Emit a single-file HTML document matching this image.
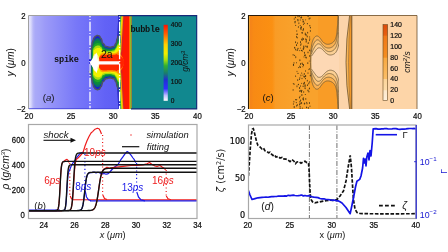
<!DOCTYPE html><html><head><meta charset="utf-8"><style>html,body{margin:0;padding:0;background:#fff;overflow:hidden}svg{display:block}</style></head><body><svg xmlns="http://www.w3.org/2000/svg" width="448" height="252" viewBox="0 0 448 252"><rect width="448" height="252" fill="#ffffff"/>
<defs><linearGradient id="ga" x1="28.5" x2="197" y1="0" y2="0" gradientUnits="userSpaceOnUse"><stop offset="0" stop-color="#e0e0fb"/><stop offset="0.009" stop-color="#e4e4fc"/><stop offset="0.018" stop-color="#d0d0fa"/><stop offset="0.027" stop-color="#b8b8f8"/><stop offset="0.039" stop-color="#aaaaf8"/><stop offset="0.068" stop-color="#a4a4f8"/><stop offset="0.098" stop-color="#9c9af8"/><stop offset="0.187" stop-color="#8a8af8"/><stop offset="0.282" stop-color="#7878f8"/><stop offset="0.365" stop-color="#6e6ef8"/><stop offset="0.454" stop-color="#6262f6"/><stop offset="0.531" stop-color="#5e5ef4"/></linearGradient><clipPath id="ca"><rect x="28.5" y="15.5" width="168.5" height="93.5"/></clipPath></defs>
<g clip-path="url(#ca)">
<rect x="28.5" y="15.5" width="168.5" height="93.5" fill="url(#ga)"/>
<rect x="131.2" y="15.5" width="65.8" height="93.5" fill="#11888f"/>
<path d="M118.30,15.00 L118.30,16.00 L118.28,17.00 L118.21,18.00 L118.15,19.00 L118.09,20.00 L118.03,21.00 L117.97,22.00 L117.91,23.00 L117.85,24.00 L117.79,25.00 L117.73,26.00 L117.67,27.00 L117.61,28.00 L117.55,29.00 L117.48,30.00 L117.42,31.00 L117.36,32.00 L117.30,33.00 L117.24,34.00 L117.18,35.00 L117.12,36.00 L117.06,37.00 L117.00,38.00 L116.94,39.00 L116.88,40.00 L116.81,41.00 L116.75,42.00 L116.69,43.00 L116.63,44.00 L116.57,45.00 L116.51,46.00 L116.45,47.00 L116.38,48.00 L116.32,49.00 L116.25,50.00 L116.17,51.00 L116.08,52.00 L115.97,53.00 L115.83,54.00 L115.66,55.00 L115.45,56.00 L115.21,57.00 L114.95,58.00 L114.67,59.00 L114.42,60.00 L114.20,61.00 L114.05,62.00 L114.03,63.00 L114.16,64.00 L114.37,65.00 L114.62,66.00 L114.89,67.00 L115.16,68.00 L115.41,69.00 L115.62,70.00 L115.80,71.00 L115.94,72.00 L116.06,73.00 L116.15,74.00 L116.23,75.00 L116.31,76.00 L116.37,77.00 L116.44,78.00 L116.50,79.00 L116.56,80.00 L116.62,81.00 L116.68,82.00 L116.74,83.00 L116.80,84.00 L116.86,85.00 L116.92,86.00 L116.99,87.00 L117.05,88.00 L117.11,89.00 L117.17,90.00 L117.23,91.00 L117.29,92.00 L117.35,93.00 L117.41,94.00 L117.47,95.00 L117.53,96.00 L117.59,97.00 L117.65,98.00 L117.72,99.00 L117.78,100.00 L117.84,101.00 L117.90,102.00 L117.96,103.00 L118.02,104.00 L118.08,105.00 L118.14,106.00 L118.20,107.00 L118.26,108.00 L118.30,109.00 L118.30,110.00 L131.20,110.50 L131.20,15.00 Z" fill="#2a2ac8"/>
<path d="M120.30,15.00 L120.30,16.00 L120.28,17.00 L120.21,18.00 L120.15,19.00 L120.09,20.00 L120.03,21.00 L119.97,22.00 L119.91,23.00 L119.85,24.00 L119.79,25.00 L119.73,26.00 L119.67,27.00 L119.61,28.00 L119.55,29.00 L119.48,30.00 L119.42,31.00 L119.36,32.00 L119.30,33.00 L119.24,34.00 L119.18,35.00 L119.12,36.00 L119.06,37.00 L119.00,38.00 L118.94,39.00 L118.88,40.00 L118.81,41.00 L118.75,42.00 L118.69,43.00 L118.63,44.00 L118.57,45.00 L118.51,46.00 L118.45,47.00 L118.38,48.00 L118.32,49.00 L118.25,50.00 L118.17,51.00 L118.08,52.00 L117.97,53.00 L117.83,54.00 L117.66,55.00 L117.45,56.00 L117.21,57.00 L116.95,58.00 L116.67,59.00 L116.42,60.00 L116.20,61.00 L116.05,62.00 L116.03,63.00 L116.16,64.00 L116.37,65.00 L116.62,66.00 L116.89,67.00 L117.16,68.00 L117.41,69.00 L117.62,70.00 L117.80,71.00 L117.94,72.00 L118.06,73.00 L118.15,74.00 L118.23,75.00 L118.31,76.00 L118.37,77.00 L118.44,78.00 L118.50,79.00 L118.56,80.00 L118.62,81.00 L118.68,82.00 L118.74,83.00 L118.80,84.00 L118.86,85.00 L118.92,86.00 L118.99,87.00 L119.05,88.00 L119.11,89.00 L119.17,90.00 L119.23,91.00 L119.29,92.00 L119.35,93.00 L119.41,94.00 L119.47,95.00 L119.53,96.00 L119.59,97.00 L119.65,98.00 L119.72,99.00 L119.78,100.00 L119.84,101.00 L119.90,102.00 L119.96,103.00 L120.02,104.00 L120.08,105.00 L120.14,106.00 L120.20,107.00 L120.26,108.00 L120.30,109.00 L120.30,110.00 L131.20,110.50 L131.20,15.00 Z" fill="#30b040"/>
<path d="M121.40,15.00 L121.40,16.00 L121.38,17.00 L121.31,18.00 L121.25,19.00 L121.19,20.00 L121.13,21.00 L121.07,22.00 L121.01,23.00 L120.95,24.00 L120.89,25.00 L120.83,26.00 L120.77,27.00 L120.71,28.00 L120.65,29.00 L120.58,30.00 L120.52,31.00 L120.46,32.00 L120.40,33.00 L120.34,34.00 L120.28,35.00 L120.22,36.00 L120.16,37.00 L120.10,38.00 L120.04,39.00 L119.98,40.00 L119.91,41.00 L119.85,42.00 L119.79,43.00 L119.73,44.00 L119.67,45.00 L119.61,46.00 L119.55,47.00 L119.48,48.00 L119.42,49.00 L119.35,50.00 L119.27,51.00 L119.18,52.00 L119.07,53.00 L118.93,54.00 L118.76,55.00 L118.55,56.00 L118.31,57.00 L118.05,58.00 L117.77,59.00 L117.52,60.00 L117.30,61.00 L117.15,62.00 L117.13,63.00 L117.26,64.00 L117.47,65.00 L117.72,66.00 L117.99,67.00 L118.26,68.00 L118.51,69.00 L118.72,70.00 L118.90,71.00 L119.04,72.00 L119.16,73.00 L119.25,74.00 L119.33,75.00 L119.41,76.00 L119.47,77.00 L119.54,78.00 L119.60,79.00 L119.66,80.00 L119.72,81.00 L119.78,82.00 L119.84,83.00 L119.90,84.00 L119.96,85.00 L120.02,86.00 L120.09,87.00 L120.15,88.00 L120.21,89.00 L120.27,90.00 L120.33,91.00 L120.39,92.00 L120.45,93.00 L120.51,94.00 L120.57,95.00 L120.63,96.00 L120.69,97.00 L120.75,98.00 L120.82,99.00 L120.88,100.00 L120.94,101.00 L121.00,102.00 L121.06,103.00 L121.12,104.00 L121.18,105.00 L121.24,106.00 L121.30,107.00 L121.36,108.00 L121.40,109.00 L121.40,110.00 L131.20,110.50 L131.20,15.00 Z" fill="#e8ee08"/>
<path d="M122.20,15.00 L122.20,16.00 L122.18,17.00 L122.11,18.00 L122.05,19.00 L121.99,20.00 L121.93,21.00 L121.87,22.00 L121.81,23.00 L121.75,24.00 L121.69,25.00 L121.63,26.00 L121.57,27.00 L121.51,28.00 L121.45,29.00 L121.38,30.00 L121.32,31.00 L121.26,32.00 L121.20,33.00 L121.14,34.00 L121.08,35.00 L121.02,36.00 L120.96,37.00 L120.90,38.00 L120.84,39.00 L120.78,40.00 L120.71,41.00 L120.65,42.00 L120.59,43.00 L120.53,44.00 L120.47,45.00 L120.41,46.00 L120.35,47.00 L120.28,48.00 L120.22,49.00 L120.15,50.00 L120.07,51.00 L119.98,52.00 L119.87,53.00 L119.73,54.00 L119.56,55.00 L119.35,56.00 L119.11,57.00 L118.85,58.00 L118.57,59.00 L118.32,60.00 L118.10,61.00 L117.95,62.00 L117.93,63.00 L118.06,64.00 L118.27,65.00 L118.52,66.00 L118.79,67.00 L119.06,68.00 L119.31,69.00 L119.52,70.00 L119.70,71.00 L119.84,72.00 L119.96,73.00 L120.05,74.00 L120.13,75.00 L120.21,76.00 L120.27,77.00 L120.34,78.00 L120.40,79.00 L120.46,80.00 L120.52,81.00 L120.58,82.00 L120.64,83.00 L120.70,84.00 L120.76,85.00 L120.82,86.00 L120.89,87.00 L120.95,88.00 L121.01,89.00 L121.07,90.00 L121.13,91.00 L121.19,92.00 L121.25,93.00 L121.31,94.00 L121.37,95.00 L121.43,96.00 L121.49,97.00 L121.55,98.00 L121.62,99.00 L121.68,100.00 L121.74,101.00 L121.80,102.00 L121.86,103.00 L121.92,104.00 L121.98,105.00 L122.04,106.00 L122.10,107.00 L122.16,108.00 L122.20,109.00 L122.20,110.00 L131.20,110.50 L131.20,15.00 Z" fill="#ffa400"/>
<path d="M123.30,15.00 L123.30,16.00 L123.28,17.00 L123.21,18.00 L123.15,19.00 L123.09,20.00 L123.03,21.00 L122.97,22.00 L122.91,23.00 L122.85,24.00 L122.79,25.00 L122.73,26.00 L122.67,27.00 L122.61,28.00 L122.55,29.00 L122.48,30.00 L122.42,31.00 L122.36,32.00 L122.30,33.00 L122.24,34.00 L122.18,35.00 L122.12,36.00 L122.06,37.00 L122.00,38.00 L121.94,39.00 L121.88,40.00 L121.81,41.00 L121.75,42.00 L121.69,43.00 L121.63,44.00 L121.57,45.00 L121.51,46.00 L121.45,47.00 L121.38,48.00 L121.32,49.00 L121.25,50.00 L121.17,51.00 L121.08,52.00 L120.97,53.00 L120.83,54.00 L120.66,55.00 L120.45,56.00 L120.21,57.00 L119.95,58.00 L119.67,59.00 L119.42,60.00 L119.20,61.00 L119.05,62.00 L119.03,63.00 L119.16,64.00 L119.37,65.00 L119.62,66.00 L119.89,67.00 L120.16,68.00 L120.41,69.00 L120.62,70.00 L120.80,71.00 L120.94,72.00 L121.06,73.00 L121.15,74.00 L121.23,75.00 L121.31,76.00 L121.37,77.00 L121.44,78.00 L121.50,79.00 L121.56,80.00 L121.62,81.00 L121.68,82.00 L121.74,83.00 L121.80,84.00 L121.86,85.00 L121.92,86.00 L121.99,87.00 L122.05,88.00 L122.11,89.00 L122.17,90.00 L122.23,91.00 L122.29,92.00 L122.35,93.00 L122.41,94.00 L122.47,95.00 L122.53,96.00 L122.59,97.00 L122.65,98.00 L122.72,99.00 L122.78,100.00 L122.84,101.00 L122.90,102.00 L122.96,103.00 L123.02,104.00 L123.08,105.00 L123.14,106.00 L123.20,107.00 L123.26,108.00 L123.30,109.00 L123.30,110.00 L131.20,110.50 L131.20,15.00 Z" fill="#d42626"/>
<path d="M124.60,15.00 L124.60,16.00 L124.58,17.00 L124.51,18.00 L124.45,19.00 L124.39,20.00 L124.33,21.00 L124.27,22.00 L124.21,23.00 L124.15,24.00 L124.09,25.00 L124.03,26.00 L123.97,27.00 L123.91,28.00 L123.85,29.00 L123.78,30.00 L123.72,31.00 L123.66,32.00 L123.60,33.00 L123.54,34.00 L123.48,35.00 L123.42,36.00 L123.36,37.00 L123.30,38.00 L123.24,39.00 L123.18,40.00 L123.11,41.00 L123.05,42.00 L122.99,43.00 L122.93,44.00 L122.87,45.00 L122.81,46.00 L122.75,47.00 L122.68,48.00 L122.62,49.00 L122.55,50.00 L122.47,51.00 L122.38,52.00 L122.27,53.00 L122.13,54.00 L121.96,55.00 L121.75,56.00 L121.51,57.00 L121.25,58.00 L120.97,59.00 L120.72,60.00 L120.50,61.00 L120.35,62.00 L120.33,63.00 L120.46,64.00 L120.67,65.00 L120.92,66.00 L121.19,67.00 L121.46,68.00 L121.71,69.00 L121.92,70.00 L122.10,71.00 L122.24,72.00 L122.36,73.00 L122.45,74.00 L122.53,75.00 L122.61,76.00 L122.67,77.00 L122.74,78.00 L122.80,79.00 L122.86,80.00 L122.92,81.00 L122.98,82.00 L123.04,83.00 L123.10,84.00 L123.16,85.00 L123.22,86.00 L123.29,87.00 L123.35,88.00 L123.41,89.00 L123.47,90.00 L123.53,91.00 L123.59,92.00 L123.65,93.00 L123.71,94.00 L123.77,95.00 L123.83,96.00 L123.89,97.00 L123.95,98.00 L124.02,99.00 L124.08,100.00 L124.14,101.00 L124.20,102.00 L124.26,103.00 L124.32,104.00 L124.38,105.00 L124.44,106.00 L124.50,107.00 L124.56,108.00 L124.60,109.00 L124.60,110.00 L131.20,110.50 L131.20,15.00 Z" fill="#ff1800"/>
<path d="M129.50,15.00 L129.50,16.00 L129.50,17.00 L129.50,18.00 L129.50,19.00 L129.50,20.00 L129.50,21.00 L129.50,22.00 L129.50,23.00 L129.50,24.00 L129.50,25.00 L129.50,26.00 L129.50,27.00 L129.50,28.00 L129.50,29.00 L129.50,30.00 L129.50,31.00 L129.50,32.00 L129.50,33.00 L129.50,34.00 L129.50,35.00 L129.50,36.00 L129.50,37.00 L129.50,38.00 L129.50,39.00 L129.50,40.00 L129.50,41.00 L129.50,42.00 L129.50,43.00 L129.50,44.00 L129.50,45.00 L129.50,46.00 L129.50,47.00 L129.50,48.00 L129.50,49.00 L129.50,50.00 L129.50,51.00 L129.50,52.00 L129.50,53.00 L129.50,54.00 L129.50,55.00 L129.50,56.00 L129.50,57.00 L129.50,58.00 L129.50,59.00 L129.50,60.00 L129.50,61.00 L129.50,62.00 L129.50,63.00 L129.50,64.00 L129.50,65.00 L129.50,66.00 L129.50,67.00 L129.50,68.00 L129.50,69.00 L129.50,70.00 L129.50,71.00 L129.50,72.00 L129.50,73.00 L129.50,74.00 L129.50,75.00 L129.50,76.00 L129.50,77.00 L129.50,78.00 L129.50,79.00 L129.50,80.00 L129.50,81.00 L129.50,82.00 L129.50,83.00 L129.50,84.00 L129.50,85.00 L129.50,86.00 L129.50,87.00 L129.50,88.00 L129.50,89.00 L129.50,90.00 L129.50,91.00 L129.50,92.00 L129.50,93.00 L129.50,94.00 L129.50,95.00 L129.50,96.00 L129.50,97.00 L129.50,98.00 L129.50,99.00 L129.50,100.00 L129.50,101.00 L129.50,102.00 L129.50,103.00 L129.50,104.00 L129.50,105.00 L129.50,106.00 L129.50,107.00 L129.50,108.00 L129.50,109.00 L129.50,110.00 L131.20,110.50 L131.20,15.00 Z" fill="#ffc800"/>
<path d="M130.40,15.00 L130.40,16.00 L130.40,17.00 L130.40,18.00 L130.40,19.00 L130.40,20.00 L130.40,21.00 L130.40,22.00 L130.40,23.00 L130.40,24.00 L130.40,25.00 L130.40,26.00 L130.40,27.00 L130.40,28.00 L130.40,29.00 L130.40,30.00 L130.40,31.00 L130.40,32.00 L130.40,33.00 L130.40,34.00 L130.40,35.00 L130.40,36.00 L130.40,37.00 L130.40,38.00 L130.40,39.00 L130.40,40.00 L130.40,41.00 L130.40,42.00 L130.40,43.00 L130.40,44.00 L130.40,45.00 L130.40,46.00 L130.40,47.00 L130.40,48.00 L130.40,49.00 L130.40,50.00 L130.40,51.00 L130.40,52.00 L130.40,53.00 L130.40,54.00 L130.40,55.00 L130.40,56.00 L130.40,57.00 L130.40,58.00 L130.40,59.00 L130.40,60.00 L130.40,61.00 L130.40,62.00 L130.40,63.00 L130.40,64.00 L130.40,65.00 L130.40,66.00 L130.40,67.00 L130.40,68.00 L130.40,69.00 L130.40,70.00 L130.40,71.00 L130.40,72.00 L130.40,73.00 L130.40,74.00 L130.40,75.00 L130.40,76.00 L130.40,77.00 L130.40,78.00 L130.40,79.00 L130.40,80.00 L130.40,81.00 L130.40,82.00 L130.40,83.00 L130.40,84.00 L130.40,85.00 L130.40,86.00 L130.40,87.00 L130.40,88.00 L130.40,89.00 L130.40,90.00 L130.40,91.00 L130.40,92.00 L130.40,93.00 L130.40,94.00 L130.40,95.00 L130.40,96.00 L130.40,97.00 L130.40,98.00 L130.40,99.00 L130.40,100.00 L130.40,101.00 L130.40,102.00 L130.40,103.00 L130.40,104.00 L130.40,105.00 L130.40,106.00 L130.40,107.00 L130.40,108.00 L130.40,109.00 L130.40,110.00 L131.20,110.50 L131.20,15.00 Z" fill="#40b048"/>
<path d="M89.00,54.00 L89.25,53.87 L89.50,53.50 L89.75,53.00 L90.00,52.50 L90.25,52.13 L90.50,52.00 L90.75,51.34 L91.00,49.75 L91.25,48.16 L91.50,47.50 L91.75,46.67 L92.00,44.65 L92.25,42.63 L92.50,41.80 L92.75,41.55 L93.00,40.85 L93.25,39.90 L93.50,38.95 L93.75,38.25 L94.00,38.00 L94.25,37.88 L94.50,37.55 L94.75,37.10 L95.00,36.65 L95.25,36.32 L95.50,36.20 L95.75,36.17 L96.00,36.09 L96.25,35.96 L96.50,35.82 L96.75,35.68 L97.00,35.57 L97.25,35.51 L97.50,35.50 L97.75,35.54 L98.00,35.61 L98.25,35.71 L98.50,35.81 L98.75,35.90 L99.00,35.97 L99.25,36.00 L99.50,36.08 L99.75,36.41 L100.00,36.91 L100.25,37.48 L100.50,38.00 L100.75,38.37 L101.00,38.50 L101.25,38.69 L101.50,39.23 L101.75,40.04 L102.00,41.00 L102.25,41.96 L102.50,42.77 L102.75,43.31 L103.00,43.50 L103.25,43.55 L103.50,43.70 L103.75,43.94 L104.00,44.25 L104.25,44.61 L104.50,45.00 L104.75,45.39 L105.00,45.75 L105.25,46.06 L105.50,46.30 L105.75,46.45 L106.00,46.50 L106.25,46.51 L106.50,46.53 L106.75,46.57 L107.00,46.62 L107.25,46.68 L107.50,46.75 L107.75,46.82 L108.00,46.90 L108.25,46.98 L108.50,47.05 L108.75,47.12 L109.00,47.18 L109.25,47.23 L109.50,47.27 L109.75,47.29 L110.00,47.30 L110.25,47.29 L110.50,47.27 L110.75,47.22 L111.00,47.17 L111.25,47.10 L111.50,47.02 L111.75,46.94 L112.00,46.85 L112.25,46.76 L112.50,46.68 L112.75,46.60 L113.00,46.53 L113.25,46.48 L113.50,46.43 L113.75,46.41 L114.00,46.40 L114.25,46.29 L114.50,45.96 L114.75,45.47 L115.00,44.90 L115.25,44.33 L115.50,43.84 L115.75,43.51 L116.00,43.40 L116.25,42.92 L116.50,41.70 L116.75,40.22 L117.00,39.11 L117.25,38.78 L117.50,38.18 L117.75,37.07 L118.00,36.09 L118.25,35.80 L118.50,35.78 L118.75,35.73 L119.00,35.65 L119.25,35.56 L119.50,35.46 L119.75,35.37 L120.00,35.29 L120.25,35.23 L120.50,35.20 L120.50,90.00 L120.25,89.97 L120.00,89.91 L119.75,89.83 L119.50,89.74 L119.25,89.64 L119.00,89.55 L118.75,89.47 L118.50,89.42 L118.25,89.40 L118.00,89.11 L117.75,88.13 L117.50,87.02 L117.25,86.42 L117.00,86.09 L116.75,84.98 L116.50,83.50 L116.25,82.28 L116.00,81.80 L115.75,81.69 L115.50,81.36 L115.25,80.87 L115.00,80.30 L114.75,79.73 L114.50,79.24 L114.25,78.91 L114.00,78.80 L113.75,78.79 L113.50,78.77 L113.25,78.72 L113.00,78.67 L112.75,78.60 L112.50,78.52 L112.25,78.44 L112.00,78.35 L111.75,78.26 L111.50,78.18 L111.25,78.10 L111.00,78.03 L110.75,77.98 L110.50,77.93 L110.25,77.91 L110.00,77.90 L109.75,77.91 L109.50,77.93 L109.25,77.97 L109.00,78.02 L108.75,78.08 L108.50,78.15 L108.25,78.22 L108.00,78.30 L107.75,78.38 L107.50,78.45 L107.25,78.52 L107.00,78.58 L106.75,78.63 L106.50,78.67 L106.25,78.69 L106.00,78.70 L105.75,78.75 L105.50,78.90 L105.25,79.14 L105.00,79.45 L104.75,79.81 L104.50,80.20 L104.25,80.59 L104.00,80.95 L103.75,81.26 L103.50,81.50 L103.25,81.65 L103.00,81.70 L102.75,81.89 L102.50,82.43 L102.25,83.24 L102.00,84.20 L101.75,85.16 L101.50,85.97 L101.25,86.51 L101.00,86.70 L100.75,86.83 L100.50,87.20 L100.25,87.72 L100.00,88.29 L99.75,88.79 L99.50,89.12 L99.25,89.20 L99.00,89.23 L98.75,89.30 L98.50,89.39 L98.25,89.49 L98.00,89.59 L97.75,89.66 L97.50,89.70 L97.25,89.69 L97.00,89.63 L96.75,89.52 L96.50,89.38 L96.25,89.24 L96.00,89.11 L95.75,89.03 L95.50,89.00 L95.25,88.88 L95.00,88.55 L94.75,88.10 L94.50,87.65 L94.25,87.32 L94.00,87.20 L93.75,86.95 L93.50,86.25 L93.25,85.30 L93.00,84.35 L92.75,83.65 L92.50,83.40 L92.25,82.57 L92.00,80.55 L91.75,78.53 L91.50,77.70 L91.25,77.04 L91.00,75.45 L90.75,73.86 L90.50,73.20 L90.25,73.07 L90.00,72.70 L89.75,72.20 L89.50,71.70 L89.25,71.33 L89.00,71.20 Z" fill="#1818d8"/>
<path d="M91.20,56.00 L91.20,55.87 L91.20,55.50 L91.20,55.00 L91.20,54.50 L91.20,54.13 L91.20,54.00 L91.20,53.37 L91.20,51.85 L91.25,50.33 L91.50,49.70 L91.75,48.89 L92.00,46.95 L92.25,45.01 L92.50,44.20 L92.75,43.95 L93.00,43.25 L93.25,42.30 L93.50,41.35 L93.75,40.65 L94.00,40.40 L94.25,40.29 L94.50,39.98 L94.75,39.55 L95.00,39.12 L95.25,38.81 L95.50,38.70 L95.75,38.67 L96.00,38.59 L96.25,38.46 L96.50,38.32 L96.75,38.18 L97.00,38.07 L97.25,38.01 L97.50,38.00 L97.75,38.04 L98.00,38.11 L98.25,38.21 L98.50,38.31 L98.75,38.40 L99.00,38.47 L99.25,38.50 L99.50,38.58 L99.75,38.88 L100.00,39.34 L100.25,39.86 L100.50,40.34 L100.75,40.68 L101.00,40.80 L101.25,40.98 L101.50,41.47 L101.75,42.22 L102.00,43.10 L102.25,43.98 L102.50,44.73 L102.75,45.22 L103.00,45.40 L103.25,45.44 L103.50,45.57 L103.75,45.78 L104.00,46.05 L104.25,46.36 L104.50,46.70 L104.75,47.04 L105.00,47.35 L105.25,47.62 L105.50,47.83 L105.75,47.96 L106.00,48.00 L106.25,48.01 L106.50,48.02 L106.75,48.05 L107.00,48.09 L107.25,48.13 L107.50,48.19 L107.75,48.24 L108.00,48.30 L108.25,48.36 L108.50,48.41 L108.75,48.47 L109.00,48.51 L109.25,48.55 L109.50,48.58 L109.75,48.59 L110.00,48.60 L110.25,48.59 L110.50,48.57 L110.75,48.52 L111.00,48.47 L111.25,48.40 L111.50,48.32 L111.75,48.24 L112.00,48.15 L112.25,48.06 L112.50,47.98 L112.75,47.90 L113.00,47.83 L113.25,47.78 L113.50,47.73 L113.75,47.71 L114.00,47.70 L114.25,47.59 L114.50,47.29 L114.75,46.84 L115.00,46.30 L115.25,45.76 L115.50,45.31 L115.75,45.01 L116.00,44.90 L116.25,44.46 L116.50,43.31 L116.75,41.93 L117.00,40.89 L117.25,40.58 L117.50,40.02 L117.75,38.98 L118.00,38.07 L118.25,37.80 L118.50,37.78 L118.75,37.73 L119.00,37.65 L119.25,37.56 L119.50,37.46 L119.75,37.37 L120.00,37.29 L120.25,37.23 L120.50,37.20 L120.50,88.00 L120.25,87.97 L120.00,87.91 L119.75,87.83 L119.50,87.74 L119.25,87.64 L119.00,87.55 L118.75,87.47 L118.50,87.42 L118.25,87.40 L118.00,87.13 L117.75,86.22 L117.50,85.18 L117.25,84.62 L117.00,84.31 L116.75,83.27 L116.50,81.89 L116.25,80.74 L116.00,80.30 L115.75,80.19 L115.50,79.89 L115.25,79.44 L115.00,78.90 L114.75,78.36 L114.50,77.91 L114.25,77.61 L114.00,77.50 L113.75,77.49 L113.50,77.47 L113.25,77.42 L113.00,77.37 L112.75,77.30 L112.50,77.22 L112.25,77.14 L112.00,77.05 L111.75,76.96 L111.50,76.88 L111.25,76.80 L111.00,76.73 L110.75,76.68 L110.50,76.63 L110.25,76.61 L110.00,76.60 L109.75,76.61 L109.50,76.62 L109.25,76.65 L109.00,76.69 L108.75,76.73 L108.50,76.79 L108.25,76.84 L108.00,76.90 L107.75,76.96 L107.50,77.01 L107.25,77.07 L107.00,77.11 L106.75,77.15 L106.50,77.18 L106.25,77.19 L106.00,77.20 L105.75,77.24 L105.50,77.37 L105.25,77.58 L105.00,77.85 L104.75,78.16 L104.50,78.50 L104.25,78.84 L104.00,79.15 L103.75,79.42 L103.50,79.63 L103.25,79.76 L103.00,79.80 L102.75,79.98 L102.50,80.47 L102.25,81.22 L102.00,82.10 L101.75,82.98 L101.50,83.73 L101.25,84.22 L101.00,84.40 L100.75,84.52 L100.50,84.86 L100.25,85.34 L100.00,85.86 L99.75,86.32 L99.50,86.62 L99.25,86.70 L99.00,86.73 L98.75,86.80 L98.50,86.89 L98.25,86.99 L98.00,87.09 L97.75,87.16 L97.50,87.20 L97.25,87.19 L97.00,87.13 L96.75,87.02 L96.50,86.88 L96.25,86.74 L96.00,86.61 L95.75,86.53 L95.50,86.50 L95.25,86.39 L95.00,86.08 L94.75,85.65 L94.50,85.22 L94.25,84.91 L94.00,84.80 L93.75,84.55 L93.50,83.85 L93.25,82.90 L93.00,81.95 L92.75,81.25 L92.50,81.00 L92.25,80.19 L92.00,78.25 L91.75,76.31 L91.50,75.50 L91.25,74.87 L91.20,73.35 L91.20,71.83 L91.20,71.20 L91.20,71.07 L91.20,70.70 L91.20,70.20 L91.20,69.70 L91.20,69.33 L91.20,69.20 Z" fill="#0a6a70"/>
<path d="M91.80,57.50 L91.80,57.37 L91.80,57.00 L91.80,56.50 L91.80,56.00 L91.80,55.63 L91.80,55.50 L91.80,54.91 L91.80,53.50 L91.80,52.09 L91.80,51.50 L91.80,50.72 L92.00,48.85 L92.25,46.98 L92.50,46.20 L92.75,45.95 L93.00,45.25 L93.25,44.30 L93.50,43.35 L93.75,42.65 L94.00,42.40 L94.25,42.30 L94.50,42.02 L94.75,41.65 L95.00,41.28 L95.25,41.00 L95.50,40.90 L95.75,40.87 L96.00,40.79 L96.25,40.66 L96.50,40.52 L96.75,40.38 L97.00,40.27 L97.25,40.21 L97.50,40.20 L97.75,40.24 L98.00,40.31 L98.25,40.41 L98.50,40.51 L98.75,40.60 L99.00,40.67 L99.25,40.70 L99.50,40.77 L99.75,41.04 L100.00,41.46 L100.25,41.94 L100.50,42.38 L100.75,42.69 L101.00,42.80 L101.25,42.96 L101.50,43.42 L101.75,44.10 L102.00,44.90 L102.25,45.70 L102.50,46.38 L102.75,46.84 L103.00,47.00 L103.25,47.04 L103.50,47.15 L103.75,47.32 L104.00,47.55 L104.25,47.82 L104.50,48.10 L104.75,48.38 L105.00,48.65 L105.25,48.88 L105.50,49.05 L105.75,49.16 L106.00,49.20 L106.25,49.20 L106.50,49.22 L106.75,49.23 L107.00,49.26 L107.25,49.29 L107.50,49.32 L107.75,49.36 L108.00,49.40 L108.25,49.44 L108.50,49.48 L108.75,49.51 L109.00,49.54 L109.25,49.57 L109.50,49.58 L109.75,49.60 L110.00,49.60 L110.25,49.59 L110.50,49.57 L110.75,49.52 L111.00,49.47 L111.25,49.40 L111.50,49.32 L111.75,49.24 L112.00,49.15 L112.25,49.06 L112.50,48.98 L112.75,48.90 L113.00,48.83 L113.25,48.78 L113.50,48.73 L113.75,48.71 L114.00,48.70 L114.25,48.60 L114.50,48.32 L114.75,47.90 L115.00,47.40 L115.25,46.90 L115.50,46.48 L115.75,46.20 L116.00,46.10 L116.25,45.69 L116.50,44.62 L116.75,43.33 L117.00,42.37 L117.25,42.08 L117.50,41.56 L117.75,40.60 L118.00,39.75 L118.25,39.50 L118.50,39.48 L118.75,39.43 L119.00,39.35 L119.25,39.26 L119.50,39.16 L119.75,39.07 L120.00,38.99 L120.25,38.93 L120.50,38.90 L120.50,86.30 L120.25,86.27 L120.00,86.21 L119.75,86.13 L119.50,86.04 L119.25,85.94 L119.00,85.85 L118.75,85.77 L118.50,85.72 L118.25,85.70 L118.00,85.45 L117.75,84.60 L117.50,83.64 L117.25,83.12 L117.00,82.83 L116.75,81.87 L116.50,80.58 L116.25,79.51 L116.00,79.10 L115.75,79.00 L115.50,78.72 L115.25,78.30 L115.00,77.80 L114.75,77.30 L114.50,76.88 L114.25,76.60 L114.00,76.50 L113.75,76.49 L113.50,76.47 L113.25,76.42 L113.00,76.37 L112.75,76.30 L112.50,76.22 L112.25,76.14 L112.00,76.05 L111.75,75.96 L111.50,75.88 L111.25,75.80 L111.00,75.73 L110.75,75.68 L110.50,75.63 L110.25,75.61 L110.00,75.60 L109.75,75.60 L109.50,75.62 L109.25,75.63 L109.00,75.66 L108.75,75.69 L108.50,75.72 L108.25,75.76 L108.00,75.80 L107.75,75.84 L107.50,75.88 L107.25,75.91 L107.00,75.94 L106.75,75.97 L106.50,75.98 L106.25,76.00 L106.00,76.00 L105.75,76.04 L105.50,76.15 L105.25,76.32 L105.00,76.55 L104.75,76.82 L104.50,77.10 L104.25,77.38 L104.00,77.65 L103.75,77.88 L103.50,78.05 L103.25,78.16 L103.00,78.20 L102.75,78.36 L102.50,78.82 L102.25,79.50 L102.00,80.30 L101.75,81.10 L101.50,81.78 L101.25,82.24 L101.00,82.40 L100.75,82.51 L100.50,82.82 L100.25,83.26 L100.00,83.74 L99.75,84.16 L99.50,84.43 L99.25,84.50 L99.00,84.53 L98.75,84.60 L98.50,84.69 L98.25,84.79 L98.00,84.89 L97.75,84.96 L97.50,85.00 L97.25,84.99 L97.00,84.93 L96.75,84.82 L96.50,84.68 L96.25,84.54 L96.00,84.41 L95.75,84.33 L95.50,84.30 L95.25,84.20 L95.00,83.92 L94.75,83.55 L94.50,83.18 L94.25,82.90 L94.00,82.80 L93.75,82.55 L93.50,81.85 L93.25,80.90 L93.00,79.95 L92.75,79.25 L92.50,79.00 L92.25,78.22 L92.00,76.35 L91.80,74.48 L91.80,73.70 L91.80,73.11 L91.80,71.70 L91.80,70.29 L91.80,69.70 L91.80,69.57 L91.80,69.20 L91.80,68.70 L91.80,68.20 L91.80,67.83 L91.80,67.70 Z" fill="#0a8a3c"/>
<path d="M92.40,59.00 L92.40,58.89 L92.40,58.58 L92.40,58.15 L92.40,57.73 L92.40,57.41 L92.40,57.30 L92.40,56.77 L92.40,55.50 L92.40,54.23 L92.40,53.70 L92.40,52.98 L92.40,51.25 L92.40,49.52 L92.50,48.80 L92.75,48.56 L93.00,47.90 L93.25,47.00 L93.50,46.10 L93.75,45.44 L94.00,45.20 L94.25,45.10 L94.50,44.82 L94.75,44.45 L95.00,44.08 L95.25,43.80 L95.50,43.70 L95.75,43.67 L96.00,43.59 L96.25,43.46 L96.50,43.32 L96.75,43.18 L97.00,43.07 L97.25,43.01 L97.50,43.00 L97.75,43.02 L98.00,43.07 L98.25,43.13 L98.50,43.19 L98.75,43.24 L99.00,43.28 L99.25,43.30 L99.50,43.36 L99.75,43.58 L100.00,43.92 L100.25,44.31 L100.50,44.66 L100.75,44.91 L101.00,45.00 L101.25,45.14 L101.50,45.53 L101.75,46.11 L102.00,46.80 L102.25,47.49 L102.50,48.07 L102.75,48.46 L103.00,48.60 L103.25,48.63 L103.50,48.71 L103.75,48.83 L104.00,49.00 L104.25,49.19 L104.50,49.40 L104.75,49.61 L105.00,49.80 L105.25,49.97 L105.50,50.09 L105.75,50.17 L106.00,50.20 L106.25,50.20 L106.50,50.21 L106.75,50.22 L107.00,50.23 L107.25,50.24 L107.50,50.26 L107.75,50.28 L108.00,50.30 L108.25,50.32 L108.50,50.34 L108.75,50.36 L109.00,50.37 L109.25,50.38 L109.50,50.39 L109.75,50.40 L110.00,50.40 L110.25,50.39 L110.50,50.37 L110.75,50.32 L111.00,50.27 L111.25,50.20 L111.50,50.12 L111.75,50.04 L112.00,49.95 L112.25,49.86 L112.50,49.78 L112.75,49.70 L113.00,49.63 L113.25,49.58 L113.50,49.53 L113.75,49.51 L114.00,49.50 L114.25,49.41 L114.50,49.16 L114.75,48.79 L115.00,48.35 L115.25,47.91 L115.50,47.54 L115.75,47.29 L116.00,47.20 L116.25,46.84 L116.50,45.90 L116.75,44.78 L117.00,43.93 L117.25,43.69 L117.50,43.25 L117.75,42.43 L118.00,41.71 L118.25,41.50 L118.50,41.48 L118.75,41.43 L119.00,41.35 L119.25,41.26 L119.50,41.16 L119.75,41.07 L120.00,40.99 L120.25,40.93 L120.50,40.90 L120.50,84.30 L120.25,84.27 L120.00,84.21 L119.75,84.13 L119.50,84.04 L119.25,83.94 L119.00,83.85 L118.75,83.77 L118.50,83.72 L118.25,83.70 L118.00,83.49 L117.75,82.77 L117.50,81.95 L117.25,81.51 L117.00,81.27 L116.75,80.42 L116.50,79.30 L116.25,78.36 L116.00,78.00 L115.75,77.91 L115.50,77.66 L115.25,77.29 L115.00,76.85 L114.75,76.41 L114.50,76.04 L114.25,75.79 L114.00,75.70 L113.75,75.69 L113.50,75.67 L113.25,75.62 L113.00,75.57 L112.75,75.50 L112.50,75.42 L112.25,75.34 L112.00,75.25 L111.75,75.16 L111.50,75.08 L111.25,75.00 L111.00,74.93 L110.75,74.88 L110.50,74.83 L110.25,74.81 L110.00,74.80 L109.75,74.80 L109.50,74.81 L109.25,74.82 L109.00,74.83 L108.75,74.84 L108.50,74.86 L108.25,74.88 L108.00,74.90 L107.75,74.92 L107.50,74.94 L107.25,74.96 L107.00,74.97 L106.75,74.98 L106.50,74.99 L106.25,75.00 L106.00,75.00 L105.75,75.03 L105.50,75.11 L105.25,75.23 L105.00,75.40 L104.75,75.59 L104.50,75.80 L104.25,76.01 L104.00,76.20 L103.75,76.37 L103.50,76.49 L103.25,76.57 L103.00,76.60 L102.75,76.74 L102.50,77.13 L102.25,77.71 L102.00,78.40 L101.75,79.09 L101.50,79.67 L101.25,80.06 L101.00,80.20 L100.75,80.29 L100.50,80.54 L100.25,80.89 L100.00,81.28 L99.75,81.62 L99.50,81.84 L99.25,81.90 L99.00,81.92 L98.75,81.96 L98.50,82.01 L98.25,82.07 L98.00,82.13 L97.75,82.18 L97.50,82.20 L97.25,82.19 L97.00,82.13 L96.75,82.02 L96.50,81.88 L96.25,81.74 L96.00,81.61 L95.75,81.53 L95.50,81.50 L95.25,81.40 L95.00,81.12 L94.75,80.75 L94.50,80.38 L94.25,80.10 L94.00,80.00 L93.75,79.76 L93.50,79.10 L93.25,78.20 L93.00,77.30 L92.75,76.64 L92.50,76.40 L92.40,75.68 L92.40,73.95 L92.40,72.22 L92.40,71.50 L92.40,70.97 L92.40,69.70 L92.40,68.43 L92.40,67.90 L92.40,67.79 L92.40,67.47 L92.40,67.05 L92.40,66.62 L92.40,66.31 L92.40,66.20 Z" fill="#20a828"/>
<path d="M93.00,60.20 L93.00,60.11 L93.00,59.85 L93.00,59.50 L93.00,59.15 L93.00,58.89 L93.00,58.80 L93.00,58.35 L93.00,57.25 L93.00,56.15 L93.00,55.70 L93.00,55.04 L93.00,53.45 L93.00,51.86 L93.00,51.20 L93.00,50.97 L93.00,50.32 L93.25,49.45 L93.50,48.57 L93.75,47.93 L94.00,47.70 L94.25,47.60 L94.50,47.32 L94.75,46.95 L95.00,46.58 L95.25,46.30 L95.50,46.20 L95.75,46.17 L96.00,46.09 L96.25,45.96 L96.50,45.82 L96.75,45.68 L97.00,45.57 L97.25,45.51 L97.50,45.50 L97.75,45.51 L98.00,45.52 L98.25,45.54 L98.50,45.56 L98.75,45.58 L99.00,45.59 L99.25,45.60 L99.50,45.65 L99.75,45.83 L100.00,46.11 L100.25,46.43 L100.50,46.72 L100.75,46.93 L101.00,47.00 L101.25,47.12 L101.50,47.45 L101.75,47.96 L102.00,48.55 L102.25,49.14 L102.50,49.65 L102.75,49.98 L103.00,50.10 L103.25,50.12 L103.50,50.17 L103.75,50.26 L104.00,50.38 L104.25,50.51 L104.50,50.65 L104.75,50.79 L105.00,50.93 L105.25,51.04 L105.50,51.13 L105.75,51.18 L106.00,51.20 L106.25,51.20 L106.50,51.20 L106.75,51.21 L107.00,51.21 L107.25,51.22 L107.50,51.23 L107.75,51.24 L108.00,51.25 L108.25,51.26 L108.50,51.27 L108.75,51.28 L109.00,51.29 L109.25,51.29 L109.50,51.30 L109.75,51.30 L110.00,51.30 L110.25,51.29 L110.50,51.27 L110.75,51.22 L111.00,51.17 L111.25,51.10 L111.50,51.02 L111.75,50.94 L112.00,50.85 L112.25,50.76 L112.50,50.68 L112.75,50.60 L113.00,50.53 L113.25,50.48 L113.50,50.43 L113.75,50.41 L114.00,50.40 L114.25,50.32 L114.50,50.09 L114.75,49.75 L115.00,49.35 L115.25,48.95 L115.50,48.61 L115.75,48.38 L116.00,48.30 L116.25,47.99 L116.50,47.19 L116.75,46.23 L117.00,45.50 L117.25,45.29 L117.50,44.93 L117.75,44.26 L118.00,43.67 L118.25,43.50 L118.50,43.48 L118.75,43.43 L119.00,43.35 L119.25,43.26 L119.50,43.16 L119.75,43.07 L120.00,42.99 L120.25,42.93 L120.50,42.90 L120.50,82.30 L120.25,82.27 L120.00,82.21 L119.75,82.13 L119.50,82.04 L119.25,81.94 L119.00,81.85 L118.75,81.77 L118.50,81.72 L118.25,81.70 L118.00,81.53 L117.75,80.94 L117.50,80.27 L117.25,79.91 L117.00,79.70 L116.75,78.97 L116.50,78.01 L116.25,77.21 L116.00,76.90 L115.75,76.82 L115.50,76.59 L115.25,76.25 L115.00,75.85 L114.75,75.45 L114.50,75.11 L114.25,74.88 L114.00,74.80 L113.75,74.79 L113.50,74.77 L113.25,74.72 L113.00,74.67 L112.75,74.60 L112.50,74.52 L112.25,74.44 L112.00,74.35 L111.75,74.26 L111.50,74.18 L111.25,74.10 L111.00,74.03 L110.75,73.98 L110.50,73.93 L110.25,73.91 L110.00,73.90 L109.75,73.90 L109.50,73.90 L109.25,73.91 L109.00,73.91 L108.75,73.92 L108.50,73.93 L108.25,73.94 L108.00,73.95 L107.75,73.96 L107.50,73.97 L107.25,73.98 L107.00,73.99 L106.75,73.99 L106.50,74.00 L106.25,74.00 L106.00,74.00 L105.75,74.02 L105.50,74.07 L105.25,74.16 L105.00,74.28 L104.75,74.41 L104.50,74.55 L104.25,74.69 L104.00,74.83 L103.75,74.94 L103.50,75.03 L103.25,75.08 L103.00,75.10 L102.75,75.22 L102.50,75.55 L102.25,76.06 L102.00,76.65 L101.75,77.24 L101.50,77.75 L101.25,78.08 L101.00,78.20 L100.75,78.27 L100.50,78.48 L100.25,78.77 L100.00,79.09 L99.75,79.37 L99.50,79.55 L99.25,79.60 L99.00,79.61 L98.75,79.62 L98.50,79.64 L98.25,79.66 L98.00,79.68 L97.75,79.69 L97.50,79.70 L97.25,79.69 L97.00,79.63 L96.75,79.52 L96.50,79.38 L96.25,79.24 L96.00,79.11 L95.75,79.03 L95.50,79.00 L95.25,78.90 L95.00,78.62 L94.75,78.25 L94.50,77.88 L94.25,77.60 L94.00,77.50 L93.75,77.27 L93.50,76.62 L93.25,75.75 L93.00,74.88 L93.00,74.23 L93.00,74.00 L93.00,73.34 L93.00,71.75 L93.00,70.16 L93.00,69.50 L93.00,69.05 L93.00,67.95 L93.00,66.85 L93.00,66.40 L93.00,66.31 L93.00,66.05 L93.00,65.70 L93.00,65.35 L93.00,65.09 L93.00,65.00 Z" fill="#a8dc10"/>
<path d="M93.60,61.40 L93.60,61.33 L93.60,61.13 L93.60,60.85 L93.60,60.58 L93.60,60.37 L93.60,60.30 L93.60,59.92 L93.60,59.00 L93.60,58.08 L93.60,57.70 L93.60,57.10 L93.60,55.65 L93.60,54.20 L93.60,53.60 L93.60,53.37 L93.60,52.75 L93.60,51.90 L93.60,51.05 L93.75,50.43 L94.00,50.20 L94.25,50.10 L94.50,49.82 L94.75,49.45 L95.00,49.08 L95.25,48.80 L95.50,48.70 L95.75,48.67 L96.00,48.59 L96.25,48.46 L96.50,48.32 L96.75,48.18 L97.00,48.07 L97.25,48.01 L97.50,48.00 L97.75,47.99 L98.00,47.98 L98.25,47.96 L98.50,47.94 L98.75,47.92 L99.00,47.91 L99.25,47.90 L99.50,47.94 L99.75,48.08 L100.00,48.30 L100.25,48.55 L100.50,48.78 L100.75,48.94 L101.00,49.00 L101.25,49.10 L101.50,49.40 L101.75,49.83 L102.00,50.35 L102.25,50.87 L102.50,51.30 L102.75,51.60 L103.00,51.70 L103.25,51.71 L103.50,51.75 L103.75,51.82 L104.00,51.90 L104.25,52.00 L104.50,52.10 L104.75,52.20 L105.00,52.30 L105.25,52.38 L105.50,52.45 L105.75,52.49 L106.00,52.50 L106.25,52.50 L106.50,52.50 L106.75,52.51 L107.00,52.51 L107.25,52.52 L107.50,52.53 L107.75,52.54 L108.00,52.55 L108.25,52.56 L108.50,52.57 L108.75,52.58 L109.00,52.59 L109.25,52.59 L109.50,52.60 L109.75,52.60 L110.00,52.60 L110.25,52.59 L110.50,52.57 L110.75,52.52 L111.00,52.47 L111.25,52.40 L111.50,52.32 L111.75,52.24 L112.00,52.15 L112.25,52.06 L112.50,51.98 L112.75,51.90 L113.00,51.83 L113.25,51.78 L113.50,51.73 L113.75,51.71 L114.00,51.70 L114.25,51.62 L114.50,51.41 L114.75,51.08 L115.00,50.70 L115.25,50.32 L115.50,49.99 L115.75,49.78 L116.00,49.70 L116.25,49.43 L116.50,48.74 L116.75,47.90 L117.00,47.27 L117.25,47.09 L117.50,46.81 L117.75,46.29 L118.00,45.83 L118.25,45.70 L118.50,45.68 L118.75,45.63 L119.00,45.55 L119.25,45.46 L119.50,45.36 L119.75,45.27 L120.00,45.19 L120.25,45.13 L120.50,45.10 L120.50,80.10 L120.25,80.07 L120.00,80.01 L119.75,79.93 L119.50,79.84 L119.25,79.74 L119.00,79.65 L118.75,79.57 L118.50,79.52 L118.25,79.50 L118.00,79.37 L117.75,78.91 L117.50,78.39 L117.25,78.11 L117.00,77.93 L116.75,77.30 L116.50,76.46 L116.25,75.77 L116.00,75.50 L115.75,75.42 L115.50,75.21 L115.25,74.88 L115.00,74.50 L114.75,74.12 L114.50,73.79 L114.25,73.58 L114.00,73.50 L113.75,73.49 L113.50,73.47 L113.25,73.42 L113.00,73.37 L112.75,73.30 L112.50,73.22 L112.25,73.14 L112.00,73.05 L111.75,72.96 L111.50,72.88 L111.25,72.80 L111.00,72.73 L110.75,72.68 L110.50,72.63 L110.25,72.61 L110.00,72.60 L109.75,72.60 L109.50,72.60 L109.25,72.61 L109.00,72.61 L108.75,72.62 L108.50,72.63 L108.25,72.64 L108.00,72.65 L107.75,72.66 L107.50,72.67 L107.25,72.68 L107.00,72.69 L106.75,72.69 L106.50,72.70 L106.25,72.70 L106.00,72.70 L105.75,72.71 L105.50,72.75 L105.25,72.82 L105.00,72.90 L104.75,73.00 L104.50,73.10 L104.25,73.20 L104.00,73.30 L103.75,73.38 L103.50,73.45 L103.25,73.49 L103.00,73.50 L102.75,73.60 L102.50,73.90 L102.25,74.33 L102.00,74.85 L101.75,75.37 L101.50,75.80 L101.25,76.10 L101.00,76.20 L100.75,76.26 L100.50,76.42 L100.25,76.65 L100.00,76.90 L99.75,77.12 L99.50,77.26 L99.25,77.30 L99.00,77.29 L98.75,77.28 L98.50,77.26 L98.25,77.24 L98.00,77.22 L97.75,77.21 L97.50,77.20 L97.25,77.19 L97.00,77.13 L96.75,77.02 L96.50,76.88 L96.25,76.74 L96.00,76.61 L95.75,76.53 L95.50,76.50 L95.25,76.40 L95.00,76.12 L94.75,75.75 L94.50,75.38 L94.25,75.10 L94.00,75.00 L93.75,74.77 L93.60,74.15 L93.60,73.30 L93.60,72.45 L93.60,71.83 L93.60,71.60 L93.60,71.00 L93.60,69.55 L93.60,68.10 L93.60,67.50 L93.60,67.12 L93.60,66.20 L93.60,65.28 L93.60,64.90 L93.60,64.83 L93.60,64.62 L93.60,64.35 L93.60,64.07 L93.60,63.87 L93.60,63.80 Z" fill="#f2f200"/>
<path d="M94.20,62.60 L94.20,62.60 L94.20,62.60 L94.20,62.60 L94.20,62.60 L94.20,62.60 L94.20,62.60 L94.20,62.60 L94.20,62.60 L94.20,62.60 L94.20,62.60 L94.20,62.60 L94.20,62.60 L94.20,62.60 L94.20,62.60 L94.20,62.60 L94.20,62.60 L94.20,62.60 L94.20,62.60 L94.20,62.60 L94.20,62.60 L94.25,62.60 L94.50,62.60 L94.75,62.60 L95.00,62.60 L95.25,62.60 L95.50,62.60 L95.75,62.60 L96.00,62.60 L96.25,62.60 L96.50,62.60 L96.75,62.60 L97.00,62.60 L97.25,62.60 L97.50,62.55 L97.75,62.06 L98.00,61.10 L98.25,59.84 L98.50,58.49 L98.75,57.27 L99.00,56.40 L99.25,56.01 L99.50,55.92 L99.75,55.59 L100.00,55.09 L100.25,54.52 L100.50,54.00 L100.75,53.63 L101.00,53.50 L101.25,53.48 L101.50,53.43 L101.75,53.35 L102.00,53.25 L102.25,53.15 L102.50,53.07 L102.75,53.02 L103.00,53.00 L103.25,53.00 L103.50,53.01 L103.75,53.03 L104.00,53.05 L104.25,53.07 L104.50,53.10 L104.75,53.13 L105.00,53.15 L105.25,53.17 L105.50,53.19 L105.75,53.20 L106.00,53.20 L106.25,53.20 L106.50,53.21 L106.75,53.22 L107.00,53.23 L107.25,53.24 L107.50,53.26 L107.75,53.28 L108.00,53.30 L108.25,53.32 L108.50,53.34 L108.75,53.36 L109.00,53.37 L109.25,53.38 L109.50,53.39 L109.75,53.40 L110.00,53.40 L110.25,53.40 L110.50,53.39 L110.75,53.38 L111.00,53.37 L111.25,53.36 L111.50,53.34 L111.75,53.32 L112.00,53.30 L112.25,53.28 L112.50,53.26 L112.75,53.24 L113.00,53.23 L113.25,53.22 L113.50,53.21 L113.75,53.20 L114.00,53.20 L114.25,53.18 L114.50,53.14 L114.75,53.08 L115.00,53.00 L115.25,52.92 L115.50,52.86 L115.75,52.82 L116.00,52.80 L116.25,52.72 L116.50,52.50 L116.75,52.25 L117.00,52.05 L117.25,51.99 L117.50,51.79 L117.75,51.42 L118.00,51.10 L118.25,51.00 L118.50,50.98 L118.75,50.94 L119.00,50.88 L119.25,50.80 L119.50,50.72 L119.75,50.64 L120.00,50.57 L120.25,50.53 L120.50,50.50 L120.50,74.70 L120.25,74.67 L120.00,74.63 L119.75,74.56 L119.50,74.48 L119.25,74.40 L119.00,74.33 L118.75,74.26 L118.50,74.22 L118.25,74.20 L118.00,74.10 L117.75,73.78 L117.50,73.41 L117.25,73.21 L117.00,73.15 L116.75,72.95 L116.50,72.70 L116.25,72.48 L116.00,72.40 L115.75,72.38 L115.50,72.34 L115.25,72.28 L115.00,72.20 L114.75,72.12 L114.50,72.06 L114.25,72.02 L114.00,72.00 L113.75,72.00 L113.50,71.99 L113.25,71.98 L113.00,71.97 L112.75,71.96 L112.50,71.94 L112.25,71.92 L112.00,71.90 L111.75,71.88 L111.50,71.86 L111.25,71.84 L111.00,71.83 L110.75,71.82 L110.50,71.81 L110.25,71.80 L110.00,71.80 L109.75,71.80 L109.50,71.81 L109.25,71.82 L109.00,71.83 L108.75,71.84 L108.50,71.86 L108.25,71.88 L108.00,71.90 L107.75,71.92 L107.50,71.94 L107.25,71.96 L107.00,71.97 L106.75,71.98 L106.50,71.99 L106.25,72.00 L106.00,72.00 L105.75,72.00 L105.50,72.01 L105.25,72.03 L105.00,72.05 L104.75,72.07 L104.50,72.10 L104.25,72.13 L104.00,72.15 L103.75,72.17 L103.50,72.19 L103.25,72.20 L103.00,72.20 L102.75,72.18 L102.50,72.13 L102.25,72.05 L102.00,71.95 L101.75,71.85 L101.50,71.77 L101.25,71.72 L101.00,71.70 L100.75,71.57 L100.50,71.20 L100.25,70.68 L100.00,70.11 L99.75,69.61 L99.50,69.28 L99.25,69.19 L99.00,68.80 L98.75,67.93 L98.50,66.71 L98.25,65.36 L98.00,64.10 L97.75,63.14 L97.50,62.65 L97.25,62.60 L97.00,62.60 L96.75,62.60 L96.50,62.60 L96.25,62.60 L96.00,62.60 L95.75,62.60 L95.50,62.60 L95.25,62.60 L95.00,62.60 L94.75,62.60 L94.50,62.60 L94.25,62.60 L94.20,62.60 L94.20,62.60 L94.20,62.60 L94.20,62.60 L94.20,62.60 L94.20,62.60 L94.20,62.60 L94.20,62.60 L94.20,62.60 L94.20,62.60 L94.20,62.60 L94.20,62.60 L94.20,62.60 L94.20,62.60 L94.20,62.60 L94.20,62.60 L94.20,62.60 L94.20,62.60 L94.20,62.60 L94.20,62.60 L94.20,62.60 Z" fill="#ffa400"/>
<path d="M94.80,62.60 L94.80,62.60 L94.80,62.60 L94.80,62.60 L94.80,62.60 L94.80,62.60 L94.80,62.60 L94.80,62.60 L94.80,62.60 L94.80,62.60 L94.80,62.60 L94.80,62.60 L94.80,62.60 L94.80,62.60 L94.80,62.60 L94.80,62.60 L94.80,62.60 L94.80,62.60 L94.80,62.60 L94.80,62.60 L94.80,62.60 L94.80,62.60 L94.80,62.60 L94.80,62.60 L95.00,62.60 L95.25,62.60 L95.50,62.60 L95.75,62.60 L96.00,62.60 L96.25,62.60 L96.50,62.60 L96.75,62.60 L97.00,62.60 L97.25,62.60 L97.50,62.57 L97.75,62.18 L98.00,61.44 L98.25,60.47 L98.50,59.42 L98.75,58.48 L99.00,57.81 L99.25,57.51 L99.50,57.43 L99.75,57.14 L100.00,56.70 L100.25,56.20 L100.50,55.74 L100.75,55.42 L101.00,55.30 L101.25,55.28 L101.50,55.23 L101.75,55.15 L102.00,55.05 L102.25,54.95 L102.50,54.87 L102.75,54.82 L103.00,54.80 L103.25,54.80 L103.50,54.80 L103.75,54.80 L104.00,54.80 L104.25,54.80 L104.50,54.80 L104.75,54.80 L105.00,54.80 L105.25,54.80 L105.50,54.80 L105.75,54.80 L106.00,54.80 L106.25,54.80 L106.50,54.81 L106.75,54.82 L107.00,54.83 L107.25,54.84 L107.50,54.86 L107.75,54.88 L108.00,54.90 L108.25,54.92 L108.50,54.94 L108.75,54.96 L109.00,54.97 L109.25,54.98 L109.50,54.99 L109.75,55.00 L110.00,55.00 L110.25,55.00 L110.50,54.99 L110.75,54.98 L111.00,54.97 L111.25,54.96 L111.50,54.94 L111.75,54.92 L112.00,54.90 L112.25,54.88 L112.50,54.86 L112.75,54.84 L113.00,54.83 L113.25,54.82 L113.50,54.81 L113.75,54.80 L114.00,54.80 L114.25,54.78 L114.50,54.74 L114.75,54.68 L115.00,54.60 L115.25,54.52 L115.50,54.46 L115.75,54.42 L116.00,54.40 L116.25,54.32 L116.50,54.10 L116.75,53.85 L117.00,53.65 L117.25,53.60 L117.50,53.48 L117.75,53.25 L118.00,53.06 L118.25,53.00 L118.50,52.98 L118.75,52.94 L119.00,52.88 L119.25,52.80 L119.50,52.72 L119.75,52.64 L120.00,52.57 L120.25,52.53 L120.50,52.50 L120.50,72.70 L120.25,72.67 L120.00,72.63 L119.75,72.56 L119.50,72.48 L119.25,72.40 L119.00,72.33 L118.75,72.26 L118.50,72.22 L118.25,72.20 L118.00,72.14 L117.75,71.95 L117.50,71.72 L117.25,71.60 L117.00,71.55 L116.75,71.35 L116.50,71.10 L116.25,70.88 L116.00,70.80 L115.75,70.78 L115.50,70.74 L115.25,70.68 L115.00,70.60 L114.75,70.52 L114.50,70.46 L114.25,70.42 L114.00,70.40 L113.75,70.40 L113.50,70.39 L113.25,70.38 L113.00,70.37 L112.75,70.36 L112.50,70.34 L112.25,70.32 L112.00,70.30 L111.75,70.28 L111.50,70.26 L111.25,70.24 L111.00,70.23 L110.75,70.22 L110.50,70.21 L110.25,70.20 L110.00,70.20 L109.75,70.20 L109.50,70.21 L109.25,70.22 L109.00,70.23 L108.75,70.24 L108.50,70.26 L108.25,70.28 L108.00,70.30 L107.75,70.32 L107.50,70.34 L107.25,70.36 L107.00,70.37 L106.75,70.38 L106.50,70.39 L106.25,70.40 L106.00,70.40 L105.75,70.40 L105.50,70.40 L105.25,70.40 L105.00,70.40 L104.75,70.40 L104.50,70.40 L104.25,70.40 L104.00,70.40 L103.75,70.40 L103.50,70.40 L103.25,70.40 L103.00,70.40 L102.75,70.38 L102.50,70.33 L102.25,70.25 L102.00,70.15 L101.75,70.05 L101.50,69.97 L101.25,69.92 L101.00,69.90 L100.75,69.78 L100.50,69.46 L100.25,69.00 L100.00,68.50 L99.75,68.06 L99.50,67.77 L99.25,67.69 L99.00,67.39 L98.75,66.72 L98.50,65.78 L98.25,64.73 L98.00,63.76 L97.75,63.02 L97.50,62.63 L97.25,62.60 L97.00,62.60 L96.75,62.60 L96.50,62.60 L96.25,62.60 L96.00,62.60 L95.75,62.60 L95.50,62.60 L95.25,62.60 L95.00,62.60 L94.80,62.60 L94.80,62.60 L94.80,62.60 L94.80,62.60 L94.80,62.60 L94.80,62.60 L94.80,62.60 L94.80,62.60 L94.80,62.60 L94.80,62.60 L94.80,62.60 L94.80,62.60 L94.80,62.60 L94.80,62.60 L94.80,62.60 L94.80,62.60 L94.80,62.60 L94.80,62.60 L94.80,62.60 L94.80,62.60 L94.80,62.60 L94.80,62.60 L94.80,62.60 L94.80,62.60 Z" fill="#ff2a00"/>
<path d="M117,52.6 C121,54 123.4,57 123.7,62.6 C123.4,68.2 121,71.2 117,72.6 Z" fill="#ff8a00"/>
<path d="M117,54.6 C121,56 123.9,58.5 124.2,62.6 C123.9,66.7 121,69.2 117,70.6 Z" fill="#ff2400"/>
<path d="M89.00,54.00 L89.25,53.87 L89.50,53.50 L89.75,53.00 L90.00,52.50 L90.25,52.13 L90.50,52.00 L90.75,51.34 L91.00,49.75 L91.25,48.16 L91.50,47.50 L91.75,46.67 L92.00,44.65 L92.25,42.63 L92.50,41.80 L92.75,41.55 L93.00,40.85 L93.25,39.90 L93.50,38.95 L93.75,38.25 L94.00,38.00 L94.25,37.88 L94.50,37.55 L94.75,37.10 L95.00,36.65 L95.25,36.32 L95.50,36.20 L95.75,36.17 L96.00,36.09 L96.25,35.96 L96.50,35.82 L96.75,35.68 L97.00,35.57 L97.25,35.51 L97.50,35.50 L97.75,35.54 L98.00,35.61 L98.25,35.71 L98.50,35.81 L98.75,35.90 L99.00,35.97 L99.25,36.00 L99.50,36.08 L99.75,36.41 L100.00,36.91 L100.25,37.48 L100.50,38.00 L100.75,38.37 L101.00,38.50 L101.25,38.69 L101.50,39.23 L101.75,40.04 L102.00,41.00 L102.25,41.96 L102.50,42.77 L102.75,43.31 L103.00,43.50 L103.25,43.55 L103.50,43.70 L103.75,43.94 L104.00,44.25 L104.25,44.61 L104.50,45.00 L104.75,45.39 L105.00,45.75 L105.25,46.06 L105.50,46.30 L105.75,46.45 L106.00,46.50 L106.25,46.51 L106.50,46.53 L106.75,46.57 L107.00,46.62 L107.25,46.68 L107.50,46.75 L107.75,46.82 L108.00,46.90 L108.25,46.98 L108.50,47.05 L108.75,47.12 L109.00,47.18 L109.25,47.23 L109.50,47.27 L109.75,47.29 L110.00,47.30 L110.25,47.29 L110.50,47.27 L110.75,47.22 L111.00,47.17 L111.25,47.10 L111.50,47.02 L111.75,46.94 L112.00,46.85 L112.25,46.76 L112.50,46.68 L112.75,46.60 L113.00,46.53 L113.25,46.48 L113.50,46.43 L113.75,46.41 L114.00,46.40 L114.25,46.29 L114.50,45.96 L114.75,45.47 L115.00,44.90 L115.25,44.33 L115.50,43.84 L115.75,43.51 L116.00,43.40 L116.25,42.92 L116.50,41.70 L116.75,40.22 L117.00,39.11 L117.25,38.78 L117.50,38.18 L117.75,37.07 L118.00,36.09 L118.25,35.80" fill="none" stroke="#4e5462" stroke-width="1.5"/>
<path d="M89.00,71.20 L89.25,71.33 L89.50,71.70 L89.75,72.20 L90.00,72.70 L90.25,73.07 L90.50,73.20 L90.75,73.86 L91.00,75.45 L91.25,77.04 L91.50,77.70 L91.75,78.53 L92.00,80.55 L92.25,82.57 L92.50,83.40 L92.75,83.65 L93.00,84.35 L93.25,85.30 L93.50,86.25 L93.75,86.95 L94.00,87.20 L94.25,87.32 L94.50,87.65 L94.75,88.10 L95.00,88.55 L95.25,88.88 L95.50,89.00 L95.75,89.03 L96.00,89.11 L96.25,89.24 L96.50,89.38 L96.75,89.52 L97.00,89.63 L97.25,89.69 L97.50,89.70 L97.75,89.66 L98.00,89.59 L98.25,89.49 L98.50,89.39 L98.75,89.30 L99.00,89.23 L99.25,89.20 L99.50,89.12 L99.75,88.79 L100.00,88.29 L100.25,87.72 L100.50,87.20 L100.75,86.83 L101.00,86.70 L101.25,86.51 L101.50,85.97 L101.75,85.16 L102.00,84.20 L102.25,83.24 L102.50,82.43 L102.75,81.89 L103.00,81.70 L103.25,81.65 L103.50,81.50 L103.75,81.26 L104.00,80.95 L104.25,80.59 L104.50,80.20 L104.75,79.81 L105.00,79.45 L105.25,79.14 L105.50,78.90 L105.75,78.75 L106.00,78.70 L106.25,78.69 L106.50,78.67 L106.75,78.63 L107.00,78.58 L107.25,78.52 L107.50,78.45 L107.75,78.38 L108.00,78.30 L108.25,78.22 L108.50,78.15 L108.75,78.08 L109.00,78.02 L109.25,77.97 L109.50,77.93 L109.75,77.91 L110.00,77.90 L110.25,77.91 L110.50,77.93 L110.75,77.98 L111.00,78.03 L111.25,78.10 L111.50,78.18 L111.75,78.26 L112.00,78.35 L112.25,78.44 L112.50,78.52 L112.75,78.60 L113.00,78.67 L113.25,78.72 L113.50,78.77 L113.75,78.79 L114.00,78.80 L114.25,78.91 L114.50,79.24 L114.75,79.73 L115.00,80.30 L115.25,80.87 L115.50,81.36 L115.75,81.69 L116.00,81.80 L116.25,82.28 L116.50,83.50 L116.75,84.98 L117.00,86.09 L117.25,86.42 L117.50,87.02 L117.75,88.13 L118.00,89.11 L118.25,89.40" fill="none" stroke="#4e5462" stroke-width="1.5"/>
<ellipse cx="95.8" cy="62.6" rx="3.6" ry="9.0" fill="#fcfcb0"/>
<path d="M89.6,62.8 Q93.0,58.2 96.8,52.4 Q96.6,58.0 98.4,61.2 L119.4,61.2 L119.4,64.4 L98.4,64.4 Q96.6,67.6 96.8,73.2 Q93.0,67.4 89.6,62.8 Z" fill="#ffffff"/>
<line x1="90.0" y1="15.5" x2="90.0" y2="109.0" stroke="#ffffff" stroke-width="1.3" stroke-dasharray="9.6 1.6 1.2 1.6" stroke-dashoffset="7.8"/>
<line x1="119.6" y1="15.5" x2="119.6" y2="109.0" stroke="#ffffff" stroke-width="1.3" stroke-dasharray="9.6 1.6 1.2 1.6" stroke-dashoffset="7.8"/>
</g>
<path d="M28.5,109.0 V15.5 H118" fill="none" stroke="#a0a0a0" stroke-width="1.0"/>
<path d="M118,15.6 H196.7 V108.9 H131" fill="none" stroke="#182878" stroke-width="1.1"/>
<line x1="29" y1="108.7" x2="118" y2="108.7" stroke="#4646dc" stroke-width="0.9"/>
<defs><linearGradient id="gcb" x1="0" x2="0" y1="0" y2="1"><stop offset="0" stop-color="#ff1000"/><stop offset="0.12" stop-color="#ff6000"/><stop offset="0.26" stop-color="#ffd000"/><stop offset="0.38" stop-color="#f0f000"/><stop offset="0.46" stop-color="#a8e010"/><stop offset="0.54" stop-color="#30b030"/><stop offset="0.64" stop-color="#1a7a70"/><stop offset="0.72" stop-color="#2030d0"/><stop offset="0.84" stop-color="#3030ff"/><stop offset="0.93" stop-color="#c0c0ff"/><stop offset="1" stop-color="#ffffff"/></linearGradient></defs>
<rect x="163.6" y="24.8" width="4.2" height="76" fill="url(#gcb)"/>
<text transform="translate(170.80,27.46) scale(1,1.0)" font-size="6.6" font-family='"Liberation Sans", "DejaVu Sans", sans-serif' fill="#111" stroke="#111" stroke-width="0.22">400</text>
<text transform="translate(170.80,46.16) scale(1,1.0)" font-size="6.6" font-family='"Liberation Sans", "DejaVu Sans", sans-serif' fill="#111" stroke="#111" stroke-width="0.22">300</text>
<text transform="translate(170.80,64.96) scale(1,1.0)" font-size="6.6" font-family='"Liberation Sans", "DejaVu Sans", sans-serif' fill="#111" stroke="#111" stroke-width="0.22">200</text>
<text transform="translate(170.80,83.76) scale(1,1.0)" font-size="6.6" font-family='"Liberation Sans", "DejaVu Sans", sans-serif' fill="#111" stroke="#111" stroke-width="0.22">100</text>
<text transform="translate(170.80,102.56) scale(1,1.0)" font-size="6.6" font-family='"Liberation Sans", "DejaVu Sans", sans-serif' fill="#111" stroke="#111" stroke-width="0.22">0</text>
<text transform="translate(188.2,61.2) rotate(-90)" text-anchor="middle" font-size="8.2" font-style="italic" font-family='"Liberation Sans", "DejaVu Sans", sans-serif' fill="#111">g/cm<tspan font-size="5.6" dy="-3.2">3</tspan></text>
<text x="54" y="62" font-size="8.6" font-weight="bold" font-family='"Liberation Mono", "DejaVu Sans Mono", monospace' fill="#111" letter-spacing="-0.2">spike</text>
<text x="130.5" y="31.8" font-size="8.6" font-weight="bold" font-family='"Liberation Mono", "DejaVu Sans Mono", monospace' fill="#111" letter-spacing="-0.3">bubble</text>
<text x="101.0" y="57.8" font-size="10.5" font-family='"Liberation Sans", "DejaVu Sans", sans-serif' fill="#111">2a</text>
<text x="42.8" y="101.0" font-size="9.6" font-family='"Liberation Sans", "DejaVu Sans", sans-serif' fill="#111">(<tspan font-style="italic">a</tspan>)</text>
<text transform="translate(25.60,18.73) scale(1,1.12)" text-anchor="end" font-size="7.8" font-family='"Liberation Sans", "DejaVu Sans", sans-serif' fill="#111" stroke="#111" stroke-width="0.22">2</text>
<text transform="translate(25.60,65.53) scale(1,1.12)" text-anchor="end" font-size="7.8" font-family='"Liberation Sans", "DejaVu Sans", sans-serif' fill="#111" stroke="#111" stroke-width="0.22">0</text>
<text transform="translate(25.60,112.43) scale(1,1.12)" text-anchor="end" font-size="7.8" font-family='"Liberation Sans", "DejaVu Sans", sans-serif' fill="#111" stroke="#111" stroke-width="0.22">−2</text>
<text transform="translate(28.90,119.43) scale(1,1.12)" text-anchor="middle" font-size="7.8" font-family='"Liberation Sans", "DejaVu Sans", sans-serif' fill="#111" stroke="#111" stroke-width="0.22">20</text>
<text transform="translate(71.02,119.43) scale(1,1.12)" text-anchor="middle" font-size="7.8" font-family='"Liberation Sans", "DejaVu Sans", sans-serif' fill="#111" stroke="#111" stroke-width="0.22">25</text>
<text transform="translate(113.14,119.43) scale(1,1.12)" text-anchor="middle" font-size="7.8" font-family='"Liberation Sans", "DejaVu Sans", sans-serif' fill="#111" stroke="#111" stroke-width="0.22">30</text>
<text transform="translate(155.26,119.43) scale(1,1.12)" text-anchor="middle" font-size="7.8" font-family='"Liberation Sans", "DejaVu Sans", sans-serif' fill="#111" stroke="#111" stroke-width="0.22">35</text>
<text transform="translate(197.38,119.43) scale(1,1.12)" text-anchor="middle" font-size="7.8" font-family='"Liberation Sans", "DejaVu Sans", sans-serif' fill="#111" stroke="#111" stroke-width="0.22">40</text>
<text transform="translate(13.6,62.2) rotate(-90)" text-anchor="middle" font-size="10" font-family='"Liberation Sans", "DejaVu Sans", sans-serif' fill="#111"><tspan font-style="italic">y</tspan> (<tspan font-style="italic">μm</tspan>)</text>
<defs><linearGradient id="gc" x1="248.5" x2="417" y1="0" y2="0" gradientUnits="userSpaceOnUse"><stop offset="0" stop-color="#fcb23a"/><stop offset="0.006" stop-color="#faa830"/><stop offset="0.012" stop-color="#f58418"/><stop offset="0.03" stop-color="#f88a14"/><stop offset="0.14" stop-color="#fb9012"/><stop offset="0.16" stop-color="#f99c26"/><stop offset="0.28" stop-color="#f9a22c"/><stop offset="1" stop-color="#f9a22c"/></linearGradient><clipPath id="cc"><rect x="248.5" y="15.5" width="168.5" height="93.5"/></clipPath></defs>
<g clip-path="url(#cc)">
<rect x="248.5" y="15.5" width="168.5" height="93.5" fill="url(#gc)"/>
<rect x="318" y="15.5" width="21" height="93.5" fill="#f99c26"/>
<ellipse cx="295.7" cy="76.2" rx="0.41" ry="0.87" fill="#4a3610"/>
<ellipse cx="294.0" cy="62.9" rx="0.41" ry="0.82" fill="#4a3610"/>
<ellipse cx="294.6" cy="55.3" rx="0.57" ry="0.66" fill="#4a3610"/>
<ellipse cx="304.3" cy="103.7" rx="0.52" ry="0.80" fill="#4a3610"/>
<ellipse cx="308.7" cy="42.8" rx="0.43" ry="0.66" fill="#4a3610"/>
<ellipse cx="307.7" cy="32.7" rx="0.52" ry="0.92" fill="#4a3610"/>
<ellipse cx="302.9" cy="21.8" rx="0.41" ry="0.70" fill="#4a3610"/>
<ellipse cx="300.7" cy="45.1" rx="0.52" ry="0.83" fill="#4a3610"/>
<ellipse cx="307.3" cy="80.7" rx="0.45" ry="0.89" fill="#4a3610"/>
<ellipse cx="308.8" cy="83.5" rx="0.46" ry="1.09" fill="#4a3610"/>
<ellipse cx="300.5" cy="86.0" rx="0.43" ry="0.84" fill="#4a3610"/>
<ellipse cx="305.0" cy="86.7" rx="0.51" ry="1.04" fill="#4a3610"/>
<ellipse cx="305.5" cy="71.0" rx="0.52" ry="0.83" fill="#4a3610"/>
<ellipse cx="304.7" cy="103.4" rx="0.49" ry="0.93" fill="#4a3610"/>
<ellipse cx="305.6" cy="75.9" rx="0.60" ry="1.01" fill="#4a3610"/>
<ellipse cx="299.9" cy="77.9" rx="0.40" ry="0.83" fill="#4a3610"/>
<ellipse cx="295.1" cy="21.5" rx="0.55" ry="0.66" fill="#4a3610"/>
<ellipse cx="300.0" cy="96.6" rx="0.42" ry="0.82" fill="#4a3610"/>
<ellipse cx="308.9" cy="91.8" rx="0.57" ry="0.74" fill="#4a3610"/>
<ellipse cx="299.5" cy="97.8" rx="0.59" ry="0.68" fill="#4a3610"/>
<ellipse cx="297.2" cy="37.6" rx="0.50" ry="0.89" fill="#4a3610"/>
<ellipse cx="293.1" cy="54.8" rx="0.47" ry="0.88" fill="#4a3610"/>
<ellipse cx="301.7" cy="73.1" rx="0.54" ry="0.63" fill="#4a3610"/>
<ellipse cx="299.6" cy="88.1" rx="0.57" ry="1.00" fill="#4a3610"/>
<ellipse cx="300.2" cy="25.6" rx="0.53" ry="0.63" fill="#4a3610"/>
<ellipse cx="296.8" cy="31.0" rx="0.47" ry="0.63" fill="#4a3610"/>
<ellipse cx="295.7" cy="25.4" rx="0.47" ry="0.61" fill="#4a3610"/>
<ellipse cx="301.7" cy="39.3" rx="0.47" ry="0.78" fill="#4a3610"/>
<ellipse cx="308.3" cy="107.9" rx="0.49" ry="0.84" fill="#4a3610"/>
<ellipse cx="294.8" cy="47.7" rx="0.45" ry="1.01" fill="#4a3610"/>
<ellipse cx="293.4" cy="104.0" rx="0.51" ry="0.67" fill="#4a3610"/>
<ellipse cx="293.5" cy="64.9" rx="0.60" ry="1.03" fill="#4a3610"/>
<ellipse cx="297.7" cy="49.9" rx="0.43" ry="0.99" fill="#4a3610"/>
<ellipse cx="307.0" cy="46.5" rx="0.44" ry="1.01" fill="#4a3610"/>
<ellipse cx="301.9" cy="94.9" rx="0.56" ry="1.01" fill="#4a3610"/>
<ellipse cx="303.5" cy="48.9" rx="0.41" ry="0.61" fill="#4a3610"/>
<ellipse cx="297.7" cy="80.1" rx="0.59" ry="0.82" fill="#4a3610"/>
<ellipse cx="306.6" cy="107.4" rx="0.59" ry="0.78" fill="#4a3610"/>
<ellipse cx="297.1" cy="34.2" rx="0.44" ry="0.91" fill="#4a3610"/>
<ellipse cx="304.8" cy="76.4" rx="0.56" ry="0.64" fill="#4a3610"/>
<ellipse cx="309.4" cy="88.4" rx="0.55" ry="0.84" fill="#4a3610"/>
<ellipse cx="307.2" cy="46.8" rx="0.56" ry="1.09" fill="#4a3610"/>
<ellipse cx="300.2" cy="103.6" rx="0.54" ry="0.69" fill="#4a3610"/>
<ellipse cx="295.7" cy="99.7" rx="0.56" ry="0.67" fill="#4a3610"/>
<ellipse cx="300.1" cy="106.7" rx="0.53" ry="0.78" fill="#4a3610"/>
<ellipse cx="295.4" cy="17.3" rx="0.59" ry="0.92" fill="#4a3610"/>
<ellipse cx="309.8" cy="56.1" rx="0.57" ry="1.01" fill="#4a3610"/>
<ellipse cx="297.5" cy="43.1" rx="0.45" ry="0.89" fill="#4a3610"/>
<ellipse cx="300.5" cy="28.1" rx="0.58" ry="0.78" fill="#4a3610"/>
<ellipse cx="303.5" cy="99.6" rx="0.48" ry="1.06" fill="#4a3610"/>
<ellipse cx="302.6" cy="64.4" rx="0.40" ry="0.82" fill="#4a3610"/>
<ellipse cx="293.1" cy="89.9" rx="0.43" ry="0.84" fill="#4a3610"/>
<ellipse cx="300.5" cy="63.9" rx="0.51" ry="0.99" fill="#4a3610"/>
<ellipse cx="303.1" cy="39.0" rx="0.46" ry="0.99" fill="#4a3610"/>
<ellipse cx="303.1" cy="86.3" rx="0.58" ry="0.82" fill="#4a3610"/>
<ellipse cx="302.1" cy="63.4" rx="0.54" ry="0.83" fill="#4a3610"/>
<ellipse cx="301.6" cy="103.1" rx="0.54" ry="1.04" fill="#4a3610"/>
<ellipse cx="302.1" cy="40.0" rx="0.51" ry="1.07" fill="#4a3610"/>
<ellipse cx="304.0" cy="56.9" rx="0.41" ry="0.72" fill="#4a3610"/>
<ellipse cx="305.1" cy="88.5" rx="0.58" ry="0.68" fill="#4a3610"/>
<ellipse cx="304.2" cy="77.1" rx="0.43" ry="1.04" fill="#4a3610"/>
<ellipse cx="304.4" cy="52.8" rx="0.50" ry="1.09" fill="#4a3610"/>
<ellipse cx="310.3" cy="30.9" rx="0.49" ry="0.86" fill="#4a3610"/>
<ellipse cx="296.5" cy="45.5" rx="0.54" ry="0.61" fill="#4a3610"/>
<ellipse cx="300.9" cy="17.7" rx="0.47" ry="0.91" fill="#4a3610"/>
<ellipse cx="294.2" cy="107.1" rx="0.56" ry="1.09" fill="#4a3610"/>
<ellipse cx="297.8" cy="19.7" rx="0.56" ry="0.74" fill="#4a3610"/>
<ellipse cx="300.6" cy="100.3" rx="0.56" ry="0.73" fill="#4a3610"/>
<ellipse cx="309.5" cy="68.8" rx="0.54" ry="0.64" fill="#4a3610"/>
<ellipse cx="305.4" cy="55.3" rx="0.41" ry="1.07" fill="#4a3610"/>
<ellipse cx="307.4" cy="23.7" rx="0.57" ry="0.63" fill="#4a3610"/>
<ellipse cx="300.4" cy="67.2" rx="0.59" ry="0.73" fill="#4a3610"/>
<ellipse cx="302.5" cy="38.1" rx="0.42" ry="0.68" fill="#4a3610"/>
<ellipse cx="296.6" cy="44.9" rx="0.46" ry="0.98" fill="#4a3610"/>
<ellipse cx="302.0" cy="32.5" rx="0.47" ry="0.61" fill="#4a3610"/>
<ellipse cx="293.3" cy="83.8" rx="0.51" ry="0.69" fill="#4a3610"/>
<ellipse cx="309.8" cy="25.8" rx="0.56" ry="0.82" fill="#4a3610"/>
<ellipse cx="308.0" cy="52.4" rx="0.50" ry="0.94" fill="#4a3610"/>
<ellipse cx="303.8" cy="47.7" rx="0.57" ry="0.95" fill="#4a3610"/>
<ellipse cx="300.3" cy="48.1" rx="0.41" ry="0.66" fill="#4a3610"/>
<ellipse cx="306.3" cy="39.6" rx="0.43" ry="0.64" fill="#4a3610"/>
<ellipse cx="306.1" cy="42.1" rx="0.45" ry="0.75" fill="#4a3610"/>
<ellipse cx="295.8" cy="57.2" rx="0.45" ry="1.08" fill="#4a3610"/>
<ellipse cx="299.8" cy="66.6" rx="0.45" ry="1.08" fill="#4a3610"/>
<ellipse cx="299.4" cy="16.1" rx="0.48" ry="0.84" fill="#4a3610"/>
<ellipse cx="296.6" cy="62.7" rx="0.40" ry="0.73" fill="#4a3610"/>
<ellipse cx="300.2" cy="19.9" rx="0.40" ry="0.75" fill="#4a3610"/>
<ellipse cx="303.5" cy="65.0" rx="0.55" ry="0.93" fill="#4a3610"/>
<ellipse cx="305.2" cy="46.2" rx="0.60" ry="0.67" fill="#4a3610"/>
<ellipse cx="300.9" cy="75.5" rx="0.41" ry="1.02" fill="#4a3610"/>
<ellipse cx="299.6" cy="91.1" rx="0.43" ry="0.86" fill="#4a3610"/>
<ellipse cx="308.0" cy="90.4" rx="0.57" ry="0.89" fill="#4a3610"/>
<ellipse cx="299.5" cy="79.2" rx="0.54" ry="0.71" fill="#4a3610"/>
<ellipse cx="295.4" cy="49.4" rx="0.42" ry="1.02" fill="#4a3610"/>
<ellipse cx="304.3" cy="73.9" rx="0.54" ry="0.84" fill="#4a3610"/>
<ellipse cx="307.4" cy="85.2" rx="0.50" ry="0.87" fill="#4a3610"/>
<ellipse cx="294.2" cy="84.2" rx="0.45" ry="0.64" fill="#4a3610"/>
<ellipse cx="306.1" cy="35.0" rx="0.55" ry="1.09" fill="#4a3610"/>
<ellipse cx="299.9" cy="60.3" rx="0.54" ry="0.98" fill="#4a3610"/>
<ellipse cx="304.6" cy="23.2" rx="0.43" ry="0.73" fill="#4a3610"/>
<ellipse cx="301.7" cy="17.2" rx="0.41" ry="0.73" fill="#4a3610"/>
<ellipse cx="305.5" cy="78.5" rx="0.46" ry="0.86" fill="#4a3610"/>
<ellipse cx="301.4" cy="27.0" rx="0.58" ry="0.70" fill="#4a3610"/>
<ellipse cx="306.7" cy="102.6" rx="0.40" ry="0.83" fill="#4a3610"/>
<ellipse cx="306.2" cy="40.9" rx="0.44" ry="1.07" fill="#4a3610"/>
<ellipse cx="303.5" cy="29.1" rx="0.50" ry="1.08" fill="#4a3610"/>
<ellipse cx="307.8" cy="63.1" rx="0.58" ry="0.95" fill="#4a3610"/>
<ellipse cx="309.2" cy="61.0" rx="0.40" ry="0.60" fill="#4a3610"/>
<ellipse cx="301.1" cy="43.9" rx="0.43" ry="0.77" fill="#4a3610"/>
<ellipse cx="308.1" cy="16.2" rx="0.55" ry="1.02" fill="#4a3610"/>
<ellipse cx="309.7" cy="82.0" rx="0.58" ry="0.74" fill="#4a3610"/>
<ellipse cx="300.1" cy="108.4" rx="0.52" ry="0.78" fill="#4a3610"/>
<ellipse cx="298.0" cy="20.5" rx="0.42" ry="1.02" fill="#4a3610"/>
<ellipse cx="309.8" cy="39.1" rx="0.45" ry="0.86" fill="#4a3610"/>
<ellipse cx="299.7" cy="104.4" rx="0.58" ry="1.01" fill="#4a3610"/>
<ellipse cx="309.4" cy="103.0" rx="0.51" ry="0.96" fill="#4a3610"/>
<ellipse cx="306.2" cy="57.7" rx="0.55" ry="0.92" fill="#4a3610"/>
<ellipse cx="293.9" cy="101.7" rx="0.43" ry="0.84" fill="#4a3610"/>
<ellipse cx="298.4" cy="84.4" rx="0.60" ry="0.73" fill="#4a3610"/>
<ellipse cx="298.4" cy="67.6" rx="0.48" ry="0.68" fill="#4a3610"/>
<ellipse cx="296.7" cy="99.8" rx="0.50" ry="0.71" fill="#4a3610"/>
<ellipse cx="302.3" cy="108.2" rx="0.49" ry="0.67" fill="#4a3610"/>
<ellipse cx="294.6" cy="47.6" rx="0.42" ry="0.72" fill="#4a3610"/>
<ellipse cx="303.3" cy="98.1" rx="0.55" ry="0.81" fill="#4a3610"/>
<ellipse cx="302.4" cy="50.9" rx="0.47" ry="0.63" fill="#4a3610"/>
<ellipse cx="310.4" cy="27.6" rx="0.50" ry="0.91" fill="#4a3610"/>
<ellipse cx="303.5" cy="39.0" rx="0.48" ry="0.82" fill="#4a3610"/>
<ellipse cx="305.3" cy="94.5" rx="0.57" ry="0.61" fill="#4a3610"/>
<ellipse cx="305.8" cy="98.9" rx="0.49" ry="0.89" fill="#4a3610"/>
<ellipse cx="300.0" cy="101.7" rx="0.57" ry="1.03" fill="#4a3610"/>
<ellipse cx="303.0" cy="30.3" rx="0.50" ry="0.94" fill="#4a3610"/>
<ellipse cx="304.4" cy="82.8" rx="0.53" ry="0.98" fill="#4a3610"/>
<ellipse cx="302.9" cy="19.7" rx="0.56" ry="0.72" fill="#4a3610"/>
<ellipse cx="301.4" cy="27.8" rx="0.45" ry="0.92" fill="#4a3610"/>
<ellipse cx="295.0" cy="22.5" rx="0.50" ry="0.89" fill="#4a3610"/>
<ellipse cx="297.0" cy="71.6" rx="0.40" ry="0.75" fill="#4a3610"/>
<ellipse cx="310.3" cy="75.6" rx="0.58" ry="0.84" fill="#4a3610"/>
<ellipse cx="297.4" cy="104.9" rx="0.54" ry="0.75" fill="#4a3610"/>
<ellipse cx="302.0" cy="78.4" rx="0.48" ry="0.73" fill="#4a3610"/>
<ellipse cx="309.7" cy="37.0" rx="0.41" ry="0.77" fill="#4a3610"/>
<ellipse cx="305.3" cy="34.3" rx="0.56" ry="0.97" fill="#4a3610"/>
<ellipse cx="296.7" cy="105.7" rx="0.46" ry="1.01" fill="#4a3610"/>
<ellipse cx="297.0" cy="86.3" rx="0.46" ry="1.08" fill="#4a3610"/>
<ellipse cx="296.4" cy="36.7" rx="0.48" ry="0.93" fill="#4a3610"/>
<ellipse cx="301.0" cy="29.5" rx="0.48" ry="0.71" fill="#4a3610"/>
<ellipse cx="303.6" cy="21.6" rx="0.48" ry="1.05" fill="#4a3610"/>
<ellipse cx="303.8" cy="83.8" rx="0.60" ry="1.07" fill="#4a3610"/>
<ellipse cx="296.3" cy="102.6" rx="0.55" ry="0.62" fill="#4a3610"/>
<ellipse cx="299.8" cy="50.6" rx="0.47" ry="0.68" fill="#4a3610"/>
<ellipse cx="298.0" cy="48.5" rx="0.59" ry="0.66" fill="#4a3610"/>
<ellipse cx="303.7" cy="92.0" rx="0.56" ry="0.82" fill="#4a3610"/>
<ellipse cx="301.5" cy="50.5" rx="0.58" ry="0.70" fill="#4a3610"/>
<ellipse cx="309.1" cy="18.8" rx="0.48" ry="1.01" fill="#4a3610"/>
<ellipse cx="305.7" cy="19.8" rx="0.41" ry="0.63" fill="#4a3610"/>
<ellipse cx="302.8" cy="99.1" rx="0.47" ry="0.74" fill="#4a3610"/>
<ellipse cx="308.0" cy="73.1" rx="0.45" ry="0.96" fill="#4a3610"/>
<ellipse cx="298.0" cy="16.3" rx="0.55" ry="1.06" fill="#4a3610"/>
<ellipse cx="310.0" cy="18.2" rx="0.45" ry="0.84" fill="#4a3610"/>
<ellipse cx="305.8" cy="39.2" rx="0.49" ry="0.85" fill="#4a3610"/>
<ellipse cx="302.2" cy="32.9" rx="0.56" ry="0.97" fill="#4a3610"/>
<ellipse cx="303.6" cy="46.3" rx="0.46" ry="0.78" fill="#4a3610"/>
<ellipse cx="298.9" cy="23.3" rx="0.44" ry="0.98" fill="#4a3610"/>
<ellipse cx="294.2" cy="19.1" rx="0.51" ry="0.76" fill="#4a3610"/>
<ellipse cx="309.6" cy="40.5" rx="0.42" ry="0.65" fill="#4a3610"/>
<ellipse cx="305.8" cy="57.3" rx="0.45" ry="0.81" fill="#4a3610"/>
<ellipse cx="305.1" cy="85.2" rx="0.57" ry="0.93" fill="#4a3610"/>
<ellipse cx="308.1" cy="43.2" rx="0.51" ry="0.79" fill="#4a3610"/>
<ellipse cx="297.0" cy="34.4" rx="0.45" ry="0.72" fill="#4a3610"/>
<ellipse cx="308.9" cy="69.5" rx="0.47" ry="0.80" fill="#4a3610"/>
<ellipse cx="300.8" cy="90.8" rx="0.53" ry="1.10" fill="#4a3610"/>
<ellipse cx="301.5" cy="91.8" rx="0.57" ry="1.06" fill="#4a3610"/>
<ellipse cx="298.3" cy="27.0" rx="0.44" ry="1.09" fill="#4a3610"/>
<ellipse cx="309.7" cy="50.4" rx="0.57" ry="0.82" fill="#4a3610"/>
<ellipse cx="307.0" cy="103.5" rx="0.42" ry="0.90" fill="#4a3610"/>
<ellipse cx="296.9" cy="50.1" rx="0.43" ry="0.70" fill="#4a3610"/>
<ellipse cx="303.8" cy="76.3" rx="0.44" ry="0.61" fill="#4a3610"/>
<ellipse cx="305.2" cy="33.1" rx="0.46" ry="0.70" fill="#4a3610"/>
<ellipse cx="302.9" cy="66.7" rx="0.41" ry="0.65" fill="#4a3610"/>
<ellipse cx="302.9" cy="75.1" rx="0.42" ry="0.68" fill="#4a3610"/>
<ellipse cx="300.4" cy="42.2" rx="0.46" ry="1.08" fill="#4a3610"/>
<ellipse cx="303.2" cy="49.0" rx="0.48" ry="1.03" fill="#4a3610"/>
<ellipse cx="301.7" cy="83.3" rx="0.44" ry="0.60" fill="#4a3610"/>
<ellipse cx="304.5" cy="55.2" rx="0.56" ry="0.80" fill="#4a3610"/>
<ellipse cx="301.3" cy="17.4" rx="0.51" ry="0.92" fill="#4a3610"/>
<ellipse cx="303.4" cy="24.2" rx="0.52" ry="0.79" fill="#4a3610"/>
<ellipse cx="295.6" cy="42.2" rx="0.50" ry="1.06" fill="#4a3610"/>
<ellipse cx="301.8" cy="90.4" rx="0.59" ry="0.70" fill="#4a3610"/>
<ellipse cx="310.0" cy="106.2" rx="0.50" ry="0.63" fill="#4a3610"/>
<ellipse cx="298.0" cy="73.4" rx="0.56" ry="0.68" fill="#4a3610"/>
<ellipse cx="307.2" cy="36.5" rx="0.48" ry="1.02" fill="#4a3610"/>
<path d="M311.00,50.00 L311.06,49.45 L311.13,48.69 L311.22,47.78 L311.33,46.81 L311.46,45.86 L311.60,45.00 L311.76,44.21 L311.93,43.41 L312.12,42.64 L312.33,41.89 L312.56,41.17 L312.80,40.50 L313.06,39.87 L313.34,39.27 L313.64,38.70 L313.96,38.18 L314.28,37.71 L314.60,37.30 L314.93,36.95 L315.28,36.65 L315.63,36.40 L315.99,36.21 L316.35,36.07 L316.70,36.00 L317.05,36.00 L317.41,36.07 L317.77,36.19 L318.12,36.37 L318.47,36.57 L318.80,36.80 L319.12,37.06 L319.42,37.36 L319.72,37.69 L320.01,38.04 L320.30,38.42 L320.60,38.80 L320.90,39.21 L321.19,39.65 L321.48,40.11 L321.78,40.57 L322.08,41.01 L322.40,41.40 L322.73,41.76 L323.07,42.09 L323.43,42.40 L323.78,42.69 L324.14,42.96 L324.50,43.20 L324.85,43.43 L325.20,43.63 L325.56,43.82 L325.92,43.98 L326.30,44.11 L326.70,44.20 L327.13,44.26 L327.59,44.29 L328.06,44.29 L328.54,44.26 L329.02,44.20 L329.50,44.10 L329.99,43.96 L330.49,43.78 L331.00,43.57 L331.50,43.33 L331.97,43.07 L332.40,42.80 L332.79,42.51 L333.16,42.21 L333.50,41.88 L333.82,41.54 L334.12,41.18 L334.40,40.80 L334.66,40.41 L334.90,40.02 L335.12,39.61 L335.32,39.17 L335.51,38.70 L335.70,38.20 L335.88,37.68 L336.04,37.15 L336.19,36.59 L336.33,35.98 L336.47,35.29 L336.60,34.50 L336.73,33.58 L336.86,32.56 L336.98,31.46 L337.09,30.31 L337.20,29.14 L337.30,28.00 L337.40,26.87 L337.49,25.74 L337.58,24.59 L337.66,23.43 L337.73,22.23 L337.80,21.00 L337.87,19.63 L337.93,18.11 L337.98,16.56 L338.03,15.11 L338.07,13.88 L338.10,13.00 L425,13 L425,112 L338.10,112.20 L338.07,111.32 L338.03,110.09 L337.98,108.64 L337.93,107.09 L337.87,105.57 L337.80,104.20 L337.73,102.97 L337.66,101.77 L337.58,100.61 L337.49,99.46 L337.40,98.33 L337.30,97.20 L337.20,96.06 L337.09,94.89 L336.98,93.74 L336.86,92.64 L336.73,91.62 L336.60,90.70 L336.47,89.91 L336.33,89.22 L336.19,88.61 L336.04,88.05 L335.88,87.52 L335.70,87.00 L335.51,86.50 L335.32,86.03 L335.12,85.59 L334.90,85.18 L334.66,84.79 L334.40,84.40 L334.12,84.02 L333.82,83.66 L333.50,83.32 L333.16,82.99 L332.79,82.69 L332.40,82.40 L331.97,82.13 L331.50,81.87 L331.00,81.63 L330.49,81.42 L329.99,81.24 L329.50,81.10 L329.02,81.00 L328.54,80.94 L328.06,80.91 L327.59,80.91 L327.13,80.94 L326.70,81.00 L326.30,81.09 L325.92,81.22 L325.56,81.38 L325.20,81.57 L324.85,81.77 L324.50,82.00 L324.14,82.24 L323.78,82.51 L323.43,82.80 L323.07,83.11 L322.73,83.44 L322.40,83.80 L322.08,84.19 L321.78,84.63 L321.48,85.09 L321.19,85.55 L320.90,85.99 L320.60,86.40 L320.30,86.78 L320.01,87.16 L319.72,87.51 L319.42,87.84 L319.12,88.14 L318.80,88.40 L318.47,88.63 L318.12,88.83 L317.77,89.01 L317.41,89.13 L317.05,89.20 L316.70,89.20 L316.35,89.13 L315.99,88.99 L315.63,88.80 L315.28,88.55 L314.93,88.25 L314.60,87.90 L314.28,87.49 L313.96,87.02 L313.64,86.50 L313.34,85.93 L313.06,85.33 L312.80,84.70 L312.56,84.03 L312.33,83.31 L312.12,82.56 L311.93,81.79 L311.76,80.99 L311.60,80.20 L311.46,79.34 L311.33,78.39 L311.22,77.42 L311.13,76.51 L311.06,75.75 L311.00,75.20 Z" fill="#fab050"/>
<path d="M311.20,52.00 L311.30,51.50 L311.44,50.81 L311.60,50.00 L311.79,49.13 L311.99,48.27 L312.20,47.50 L312.42,46.79 L312.67,46.09 L312.93,45.41 L313.20,44.74 L313.49,44.10 L313.80,43.50 L314.13,42.91 L314.49,42.33 L314.86,41.78 L315.24,41.28 L315.63,40.84 L316.00,40.50 L316.37,40.25 L316.73,40.06 L317.10,39.95 L317.47,39.90 L317.83,39.92 L318.20,40.00 L318.57,40.16 L318.94,40.40 L319.31,40.70 L319.68,41.05 L320.04,41.42 L320.40,41.80 L320.74,42.20 L321.07,42.65 L321.39,43.12 L321.71,43.60 L322.05,44.06 L322.40,44.50 L322.78,44.92 L323.17,45.34 L323.57,45.75 L323.98,46.14 L324.39,46.49 L324.80,46.80 L325.21,47.07 L325.61,47.30 L326.02,47.50 L326.43,47.67 L326.86,47.80 L327.30,47.90 L327.76,47.97 L328.24,48.00 L328.73,48.01 L329.23,47.97 L329.72,47.91 L330.20,47.80 L330.68,47.65 L331.17,47.47 L331.66,47.24 L332.13,46.99 L332.58,46.71 L333.00,46.40 L333.39,46.07 L333.75,45.71 L334.09,45.33 L334.41,44.92 L334.71,44.48 L335.00,44.00 L335.27,43.52 L335.53,43.03 L335.76,42.51 L335.99,41.93 L336.20,41.27 L336.40,40.50 L336.59,39.61 L336.77,38.61 L336.94,37.53 L337.10,36.39 L337.26,35.20 L337.40,34.00 L337.54,32.81 L337.67,31.63 L337.79,30.41 L337.90,29.09 L338.00,27.64 L338.10,26.00 L338.19,23.97 L338.27,21.56 L338.34,19.00 L338.41,16.56 L338.46,14.47 L338.50,13.00 L425,13 L425,112 L338.50,112.20 L338.46,110.73 L338.41,108.64 L338.34,106.20 L338.27,103.64 L338.19,101.23 L338.10,99.20 L338.00,97.56 L337.90,96.11 L337.79,94.79 L337.67,93.57 L337.54,92.39 L337.40,91.20 L337.26,90.00 L337.10,88.81 L336.94,87.67 L336.77,86.59 L336.59,85.59 L336.40,84.70 L336.20,83.93 L335.99,83.27 L335.76,82.69 L335.53,82.17 L335.27,81.68 L335.00,81.20 L334.71,80.72 L334.41,80.28 L334.09,79.87 L333.75,79.49 L333.39,79.13 L333.00,78.80 L332.58,78.49 L332.13,78.21 L331.66,77.96 L331.17,77.73 L330.68,77.55 L330.20,77.40 L329.72,77.29 L329.23,77.23 L328.73,77.19 L328.24,77.20 L327.76,77.23 L327.30,77.30 L326.86,77.40 L326.43,77.53 L326.02,77.70 L325.61,77.90 L325.21,78.13 L324.80,78.40 L324.39,78.71 L323.98,79.06 L323.57,79.45 L323.17,79.86 L322.78,80.28 L322.40,80.70 L322.05,81.14 L321.71,81.60 L321.39,82.08 L321.07,82.55 L320.74,83.00 L320.40,83.40 L320.04,83.78 L319.68,84.15 L319.31,84.50 L318.94,84.80 L318.57,85.04 L318.20,85.20 L317.83,85.28 L317.47,85.30 L317.10,85.25 L316.73,85.14 L316.37,84.95 L316.00,84.70 L315.63,84.36 L315.24,83.92 L314.86,83.42 L314.49,82.87 L314.13,82.29 L313.80,81.70 L313.49,81.10 L313.20,80.46 L312.93,79.79 L312.67,79.11 L312.42,78.41 L312.20,77.70 L311.99,76.93 L311.79,76.07 L311.60,75.20 L311.44,74.39 L311.30,73.70 L311.20,73.20 Z" fill="#fbc274"/>
<path d="M311.40,54.00 L311.55,53.62 L311.74,53.09 L311.97,52.47 L312.24,51.80 L312.52,51.12 L312.80,50.50 L313.10,49.91 L313.41,49.30 L313.75,48.70 L314.10,48.11 L314.45,47.54 L314.80,47.00 L315.15,46.48 L315.51,45.95 L315.88,45.45 L316.25,44.99 L316.63,44.60 L317.00,44.30 L317.38,44.09 L317.76,43.94 L318.14,43.87 L318.53,43.86 L318.92,43.90 L319.30,44.00 L319.68,44.17 L320.07,44.41 L320.46,44.71 L320.84,45.06 L321.22,45.42 L321.60,45.80 L321.97,46.20 L322.33,46.66 L322.69,47.13 L323.06,47.61 L323.42,48.07 L323.80,48.50 L324.19,48.90 L324.59,49.29 L324.99,49.66 L325.39,50.00 L325.80,50.32 L326.20,50.60 L326.60,50.84 L326.99,51.06 L327.39,51.24 L327.79,51.40 L328.19,51.52 L328.60,51.60 L329.02,51.65 L329.45,51.67 L329.89,51.65 L330.33,51.60 L330.76,51.52 L331.20,51.40 L331.64,51.25 L332.09,51.06 L332.54,50.84 L332.98,50.59 L333.40,50.31 L333.80,50.00 L334.17,49.66 L334.53,49.30 L334.87,48.91 L335.19,48.49 L335.50,48.02 L335.80,47.50 L336.08,46.95 L336.36,46.37 L336.61,45.75 L336.86,45.07 L337.08,44.33 L337.30,43.50 L337.50,42.59 L337.69,41.61 L337.86,40.56 L338.01,39.44 L338.16,38.26 L338.30,37.00 L338.43,35.71 L338.54,34.41 L338.64,33.03 L338.74,31.54 L338.82,29.88 L338.90,28.00 L338.97,25.67 L339.03,22.89 L339.09,19.94 L339.13,17.11 L339.17,14.70 L339.20,13.00 L425,13 L425,112 L339.20,112.20 L339.17,110.50 L339.13,108.09 L339.09,105.26 L339.03,102.31 L338.97,99.53 L338.90,97.20 L338.82,95.32 L338.74,93.66 L338.64,92.17 L338.54,90.79 L338.43,89.49 L338.30,88.20 L338.16,86.94 L338.01,85.76 L337.86,84.64 L337.69,83.59 L337.50,82.61 L337.30,81.70 L337.08,80.87 L336.86,80.13 L336.61,79.45 L336.36,78.83 L336.08,78.25 L335.80,77.70 L335.50,77.18 L335.19,76.71 L334.87,76.29 L334.53,75.90 L334.17,75.54 L333.80,75.20 L333.40,74.89 L332.98,74.61 L332.54,74.36 L332.09,74.14 L331.64,73.95 L331.20,73.80 L330.76,73.68 L330.33,73.60 L329.89,73.55 L329.45,73.53 L329.02,73.55 L328.60,73.60 L328.19,73.68 L327.79,73.80 L327.39,73.96 L326.99,74.14 L326.60,74.36 L326.20,74.60 L325.80,74.88 L325.39,75.20 L324.99,75.54 L324.59,75.91 L324.19,76.30 L323.80,76.70 L323.42,77.13 L323.06,77.59 L322.69,78.07 L322.33,78.54 L321.97,79.00 L321.60,79.40 L321.22,79.78 L320.84,80.14 L320.46,80.49 L320.07,80.79 L319.68,81.03 L319.30,81.20 L318.92,81.30 L318.53,81.34 L318.14,81.33 L317.76,81.26 L317.38,81.11 L317.00,80.90 L316.63,80.60 L316.25,80.21 L315.88,79.75 L315.51,79.25 L315.15,78.72 L314.80,78.20 L314.45,77.66 L314.10,77.09 L313.75,76.50 L313.41,75.90 L313.10,75.29 L312.80,74.70 L312.52,74.08 L312.24,73.40 L311.97,72.73 L311.74,72.11 L311.55,71.58 L311.40,71.20 Z" fill="#fcd094"/>
<path d="M311.60,56.00 L311.79,55.73 L312.05,55.37 L312.36,54.94 L312.70,54.46 L313.06,53.97 L313.40,53.50 L313.74,53.02 L314.10,52.51 L314.47,51.99 L314.85,51.47 L315.23,50.97 L315.60,50.50 L315.96,50.05 L316.33,49.60 L316.69,49.17 L317.05,48.79 L317.42,48.45 L317.80,48.20 L318.19,48.02 L318.59,47.91 L318.99,47.86 L319.39,47.86 L319.80,47.90 L320.20,48.00 L320.60,48.15 L321.00,48.36 L321.40,48.62 L321.80,48.93 L322.20,49.25 L322.60,49.60 L323.00,49.98 L323.40,50.41 L323.79,50.88 L324.19,51.34 L324.59,51.79 L325.00,52.20 L325.41,52.58 L325.83,52.96 L326.24,53.31 L326.66,53.64 L327.08,53.94 L327.50,54.20 L327.92,54.42 L328.33,54.60 L328.74,54.75 L329.16,54.87 L329.58,54.95 L330.00,55.00 L330.43,55.01 L330.87,54.99 L331.31,54.94 L331.74,54.85 L332.18,54.74 L332.60,54.60 L333.02,54.44 L333.43,54.26 L333.84,54.04 L334.24,53.80 L334.63,53.52 L335.00,53.20 L335.35,52.85 L335.69,52.46 L336.01,52.04 L336.31,51.58 L336.61,51.07 L336.90,50.50 L337.18,49.89 L337.45,49.26 L337.71,48.58 L337.95,47.83 L338.18,46.97 L338.40,46.00 L338.60,44.89 L338.79,43.67 L338.96,42.34 L339.11,40.94 L339.26,39.49 L339.40,38.00 L339.53,36.51 L339.64,35.00 L339.74,33.44 L339.84,31.78 L339.92,29.98 L340.00,28.00 L340.07,25.62 L340.13,22.81 L340.19,19.88 L340.23,17.07 L340.27,14.69 L340.30,13.00 L425,13 L425,112 L340.30,112.20 L340.27,110.51 L340.23,108.13 L340.19,105.33 L340.13,102.39 L340.07,99.58 L340.00,97.20 L339.92,95.22 L339.84,93.42 L339.74,91.76 L339.64,90.20 L339.53,88.69 L339.40,87.20 L339.26,85.71 L339.11,84.26 L338.96,82.86 L338.79,81.53 L338.60,80.31 L338.40,79.20 L338.18,78.23 L337.95,77.37 L337.71,76.62 L337.45,75.94 L337.18,75.31 L336.90,74.70 L336.61,74.13 L336.31,73.62 L336.01,73.16 L335.69,72.74 L335.35,72.35 L335.00,72.00 L334.63,71.68 L334.24,71.40 L333.84,71.16 L333.43,70.94 L333.02,70.76 L332.60,70.60 L332.18,70.46 L331.74,70.35 L331.31,70.26 L330.87,70.21 L330.43,70.19 L330.00,70.20 L329.58,70.25 L329.16,70.33 L328.74,70.45 L328.33,70.60 L327.92,70.78 L327.50,71.00 L327.08,71.26 L326.66,71.56 L326.24,71.89 L325.83,72.24 L325.41,72.62 L325.00,73.00 L324.59,73.41 L324.19,73.86 L323.79,74.32 L323.40,74.79 L323.00,75.22 L322.60,75.60 L322.20,75.95 L321.80,76.27 L321.40,76.58 L321.00,76.84 L320.60,77.05 L320.20,77.20 L319.80,77.30 L319.39,77.34 L318.99,77.34 L318.59,77.29 L318.19,77.18 L317.80,77.00 L317.42,76.75 L317.05,76.41 L316.69,76.03 L316.33,75.60 L315.96,75.15 L315.60,74.70 L315.23,74.23 L314.85,73.73 L314.47,73.21 L314.10,72.69 L313.74,72.18 L313.40,71.70 L313.06,71.23 L312.70,70.74 L312.36,70.26 L312.05,69.83 L311.79,69.47 L311.60,69.20 Z" fill="#fdd8b4"/>
<path d="M311.00,50.00 L311.06,49.45 L311.13,48.69 L311.22,47.78 L311.33,46.81 L311.46,45.86 L311.60,45.00 L311.76,44.21 L311.93,43.41 L312.12,42.64 L312.33,41.89 L312.56,41.17 L312.80,40.50 L313.06,39.87 L313.34,39.27 L313.64,38.70 L313.96,38.18 L314.28,37.71 L314.60,37.30 L314.93,36.95 L315.28,36.65 L315.63,36.40 L315.99,36.21 L316.35,36.07 L316.70,36.00 L317.05,36.00 L317.41,36.07 L317.77,36.19 L318.12,36.37 L318.47,36.57 L318.80,36.80 L319.12,37.06 L319.42,37.36 L319.72,37.69 L320.01,38.04 L320.30,38.42 L320.60,38.80 L320.90,39.21 L321.19,39.65 L321.48,40.11 L321.78,40.57 L322.08,41.01 L322.40,41.40 L322.73,41.76 L323.07,42.09 L323.43,42.40 L323.78,42.69 L324.14,42.96 L324.50,43.20 L324.85,43.43 L325.20,43.63 L325.56,43.82 L325.92,43.98 L326.30,44.11 L326.70,44.20 L327.13,44.26 L327.59,44.29 L328.06,44.29 L328.54,44.26 L329.02,44.20 L329.50,44.10 L329.99,43.96 L330.49,43.78 L331.00,43.57 L331.50,43.33 L331.97,43.07 L332.40,42.80 L332.79,42.51 L333.16,42.21 L333.50,41.88 L333.82,41.54 L334.12,41.18 L334.40,40.80 L334.66,40.41 L334.90,40.02 L335.12,39.61 L335.32,39.17 L335.51,38.70 L335.70,38.20 L335.88,37.68 L336.04,37.15 L336.19,36.59 L336.33,35.98 L336.47,35.29 L336.60,34.50 L336.73,33.58 L336.86,32.56 L336.98,31.46 L337.09,30.31 L337.20,29.14 L337.30,28.00 L337.40,26.87 L337.49,25.74 L337.58,24.59 L337.66,23.43 L337.73,22.23 L337.80,21.00 L337.87,19.63 L337.93,18.11 L337.98,16.56 L338.03,15.11 L338.07,13.88 L338.10,13.00" fill="none" stroke="#6e5a3a" stroke-width="0.75"/>
<path d="M311.00,75.20 L311.06,75.75 L311.13,76.51 L311.22,77.42 L311.33,78.39 L311.46,79.34 L311.60,80.20 L311.76,80.99 L311.93,81.79 L312.12,82.56 L312.33,83.31 L312.56,84.03 L312.80,84.70 L313.06,85.33 L313.34,85.93 L313.64,86.50 L313.96,87.02 L314.28,87.49 L314.60,87.90 L314.93,88.25 L315.28,88.55 L315.63,88.80 L315.99,88.99 L316.35,89.13 L316.70,89.20 L317.05,89.20 L317.41,89.13 L317.77,89.01 L318.12,88.83 L318.47,88.63 L318.80,88.40 L319.12,88.14 L319.42,87.84 L319.72,87.51 L320.01,87.16 L320.30,86.78 L320.60,86.40 L320.90,85.99 L321.19,85.55 L321.48,85.09 L321.78,84.63 L322.08,84.19 L322.40,83.80 L322.73,83.44 L323.07,83.11 L323.43,82.80 L323.78,82.51 L324.14,82.24 L324.50,82.00 L324.85,81.77 L325.20,81.57 L325.56,81.38 L325.92,81.22 L326.30,81.09 L326.70,81.00 L327.13,80.94 L327.59,80.91 L328.06,80.91 L328.54,80.94 L329.02,81.00 L329.50,81.10 L329.99,81.24 L330.49,81.42 L331.00,81.63 L331.50,81.87 L331.97,82.13 L332.40,82.40 L332.79,82.69 L333.16,82.99 L333.50,83.32 L333.82,83.66 L334.12,84.02 L334.40,84.40 L334.66,84.79 L334.90,85.18 L335.12,85.59 L335.32,86.03 L335.51,86.50 L335.70,87.00 L335.88,87.52 L336.04,88.05 L336.19,88.61 L336.33,89.22 L336.47,89.91 L336.60,90.70 L336.73,91.62 L336.86,92.64 L336.98,93.74 L337.09,94.89 L337.20,96.06 L337.30,97.20 L337.40,98.33 L337.49,99.46 L337.58,100.61 L337.66,101.77 L337.73,102.97 L337.80,104.20 L337.87,105.57 L337.93,107.09 L337.98,108.64 L338.03,110.09 L338.07,111.32 L338.10,112.20" fill="none" stroke="#6e5a3a" stroke-width="0.75"/>
<path d="M311.20,52.00 L311.30,51.50 L311.44,50.81 L311.60,50.00 L311.79,49.13 L311.99,48.27 L312.20,47.50 L312.42,46.79 L312.67,46.09 L312.93,45.41 L313.20,44.74 L313.49,44.10 L313.80,43.50 L314.13,42.91 L314.49,42.33 L314.86,41.78 L315.24,41.28 L315.63,40.84 L316.00,40.50 L316.37,40.25 L316.73,40.06 L317.10,39.95 L317.47,39.90 L317.83,39.92 L318.20,40.00 L318.57,40.16 L318.94,40.40 L319.31,40.70 L319.68,41.05 L320.04,41.42 L320.40,41.80 L320.74,42.20 L321.07,42.65 L321.39,43.12 L321.71,43.60 L322.05,44.06 L322.40,44.50 L322.78,44.92 L323.17,45.34 L323.57,45.75 L323.98,46.14 L324.39,46.49 L324.80,46.80 L325.21,47.07 L325.61,47.30 L326.02,47.50 L326.43,47.67 L326.86,47.80 L327.30,47.90 L327.76,47.97 L328.24,48.00 L328.73,48.01 L329.23,47.97 L329.72,47.91 L330.20,47.80 L330.68,47.65 L331.17,47.47 L331.66,47.24 L332.13,46.99 L332.58,46.71 L333.00,46.40 L333.39,46.07 L333.75,45.71 L334.09,45.33 L334.41,44.92 L334.71,44.48 L335.00,44.00 L335.27,43.52 L335.53,43.03 L335.76,42.51 L335.99,41.93 L336.20,41.27 L336.40,40.50 L336.59,39.61 L336.77,38.61 L336.94,37.53 L337.10,36.39 L337.26,35.20 L337.40,34.00 L337.54,32.81 L337.67,31.63 L337.79,30.41 L337.90,29.09 L338.00,27.64 L338.10,26.00 L338.19,23.97 L338.27,21.56 L338.34,19.00 L338.41,16.56 L338.46,14.47 L338.50,13.00" fill="none" stroke="#6e5a3a" stroke-width="0.75"/>
<path d="M311.20,73.20 L311.30,73.70 L311.44,74.39 L311.60,75.20 L311.79,76.07 L311.99,76.93 L312.20,77.70 L312.42,78.41 L312.67,79.11 L312.93,79.79 L313.20,80.46 L313.49,81.10 L313.80,81.70 L314.13,82.29 L314.49,82.87 L314.86,83.42 L315.24,83.92 L315.63,84.36 L316.00,84.70 L316.37,84.95 L316.73,85.14 L317.10,85.25 L317.47,85.30 L317.83,85.28 L318.20,85.20 L318.57,85.04 L318.94,84.80 L319.31,84.50 L319.68,84.15 L320.04,83.78 L320.40,83.40 L320.74,83.00 L321.07,82.55 L321.39,82.08 L321.71,81.60 L322.05,81.14 L322.40,80.70 L322.78,80.28 L323.17,79.86 L323.57,79.45 L323.98,79.06 L324.39,78.71 L324.80,78.40 L325.21,78.13 L325.61,77.90 L326.02,77.70 L326.43,77.53 L326.86,77.40 L327.30,77.30 L327.76,77.23 L328.24,77.20 L328.73,77.19 L329.23,77.23 L329.72,77.29 L330.20,77.40 L330.68,77.55 L331.17,77.73 L331.66,77.96 L332.13,78.21 L332.58,78.49 L333.00,78.80 L333.39,79.13 L333.75,79.49 L334.09,79.87 L334.41,80.28 L334.71,80.72 L335.00,81.20 L335.27,81.68 L335.53,82.17 L335.76,82.69 L335.99,83.27 L336.20,83.93 L336.40,84.70 L336.59,85.59 L336.77,86.59 L336.94,87.67 L337.10,88.81 L337.26,90.00 L337.40,91.20 L337.54,92.39 L337.67,93.57 L337.79,94.79 L337.90,96.11 L338.00,97.56 L338.10,99.20 L338.19,101.23 L338.27,103.64 L338.34,106.20 L338.41,108.64 L338.46,110.73 L338.50,112.20" fill="none" stroke="#6e5a3a" stroke-width="0.75"/>
<path d="M311.40,54.00 L311.55,53.62 L311.74,53.09 L311.97,52.47 L312.24,51.80 L312.52,51.12 L312.80,50.50 L313.10,49.91 L313.41,49.30 L313.75,48.70 L314.10,48.11 L314.45,47.54 L314.80,47.00 L315.15,46.48 L315.51,45.95 L315.88,45.45 L316.25,44.99 L316.63,44.60 L317.00,44.30 L317.38,44.09 L317.76,43.94 L318.14,43.87 L318.53,43.86 L318.92,43.90 L319.30,44.00 L319.68,44.17 L320.07,44.41 L320.46,44.71 L320.84,45.06 L321.22,45.42 L321.60,45.80 L321.97,46.20 L322.33,46.66 L322.69,47.13 L323.06,47.61 L323.42,48.07 L323.80,48.50 L324.19,48.90 L324.59,49.29 L324.99,49.66 L325.39,50.00 L325.80,50.32 L326.20,50.60 L326.60,50.84 L326.99,51.06 L327.39,51.24 L327.79,51.40 L328.19,51.52 L328.60,51.60 L329.02,51.65 L329.45,51.67 L329.89,51.65 L330.33,51.60 L330.76,51.52 L331.20,51.40 L331.64,51.25 L332.09,51.06 L332.54,50.84 L332.98,50.59 L333.40,50.31 L333.80,50.00 L334.17,49.66 L334.53,49.30 L334.87,48.91 L335.19,48.49 L335.50,48.02 L335.80,47.50 L336.08,46.95 L336.36,46.37 L336.61,45.75 L336.86,45.07 L337.08,44.33 L337.30,43.50 L337.50,42.59 L337.69,41.61 L337.86,40.56 L338.01,39.44 L338.16,38.26 L338.30,37.00 L338.43,35.71 L338.54,34.41 L338.64,33.03 L338.74,31.54 L338.82,29.88 L338.90,28.00 L338.97,25.67 L339.03,22.89 L339.09,19.94 L339.13,17.11 L339.17,14.70 L339.20,13.00" fill="none" stroke="#6e5a3a" stroke-width="0.75"/>
<path d="M311.40,71.20 L311.55,71.58 L311.74,72.11 L311.97,72.73 L312.24,73.40 L312.52,74.08 L312.80,74.70 L313.10,75.29 L313.41,75.90 L313.75,76.50 L314.10,77.09 L314.45,77.66 L314.80,78.20 L315.15,78.72 L315.51,79.25 L315.88,79.75 L316.25,80.21 L316.63,80.60 L317.00,80.90 L317.38,81.11 L317.76,81.26 L318.14,81.33 L318.53,81.34 L318.92,81.30 L319.30,81.20 L319.68,81.03 L320.07,80.79 L320.46,80.49 L320.84,80.14 L321.22,79.78 L321.60,79.40 L321.97,79.00 L322.33,78.54 L322.69,78.07 L323.06,77.59 L323.42,77.13 L323.80,76.70 L324.19,76.30 L324.59,75.91 L324.99,75.54 L325.39,75.20 L325.80,74.88 L326.20,74.60 L326.60,74.36 L326.99,74.14 L327.39,73.96 L327.79,73.80 L328.19,73.68 L328.60,73.60 L329.02,73.55 L329.45,73.53 L329.89,73.55 L330.33,73.60 L330.76,73.68 L331.20,73.80 L331.64,73.95 L332.09,74.14 L332.54,74.36 L332.98,74.61 L333.40,74.89 L333.80,75.20 L334.17,75.54 L334.53,75.90 L334.87,76.29 L335.19,76.71 L335.50,77.18 L335.80,77.70 L336.08,78.25 L336.36,78.83 L336.61,79.45 L336.86,80.13 L337.08,80.87 L337.30,81.70 L337.50,82.61 L337.69,83.59 L337.86,84.64 L338.01,85.76 L338.16,86.94 L338.30,88.20 L338.43,89.49 L338.54,90.79 L338.64,92.17 L338.74,93.66 L338.82,95.32 L338.90,97.20 L338.97,99.53 L339.03,102.31 L339.09,105.26 L339.13,108.09 L339.17,110.50 L339.20,112.20" fill="none" stroke="#6e5a3a" stroke-width="0.75"/>
<path d="M311.60,56.00 L311.79,55.73 L312.05,55.37 L312.36,54.94 L312.70,54.46 L313.06,53.97 L313.40,53.50 L313.74,53.02 L314.10,52.51 L314.47,51.99 L314.85,51.47 L315.23,50.97 L315.60,50.50 L315.96,50.05 L316.33,49.60 L316.69,49.17 L317.05,48.79 L317.42,48.45 L317.80,48.20 L318.19,48.02 L318.59,47.91 L318.99,47.86 L319.39,47.86 L319.80,47.90 L320.20,48.00 L320.60,48.15 L321.00,48.36 L321.40,48.62 L321.80,48.93 L322.20,49.25 L322.60,49.60 L323.00,49.98 L323.40,50.41 L323.79,50.88 L324.19,51.34 L324.59,51.79 L325.00,52.20 L325.41,52.58 L325.83,52.96 L326.24,53.31 L326.66,53.64 L327.08,53.94 L327.50,54.20 L327.92,54.42 L328.33,54.60 L328.74,54.75 L329.16,54.87 L329.58,54.95 L330.00,55.00 L330.43,55.01 L330.87,54.99 L331.31,54.94 L331.74,54.85 L332.18,54.74 L332.60,54.60 L333.02,54.44 L333.43,54.26 L333.84,54.04 L334.24,53.80 L334.63,53.52 L335.00,53.20 L335.35,52.85 L335.69,52.46 L336.01,52.04 L336.31,51.58 L336.61,51.07 L336.90,50.50 L337.18,49.89 L337.45,49.26 L337.71,48.58 L337.95,47.83 L338.18,46.97 L338.40,46.00 L338.60,44.89 L338.79,43.67 L338.96,42.34 L339.11,40.94 L339.26,39.49 L339.40,38.00 L339.53,36.51 L339.64,35.00 L339.74,33.44 L339.84,31.78 L339.92,29.98 L340.00,28.00 L340.07,25.62 L340.13,22.81 L340.19,19.88 L340.23,17.07 L340.27,14.69 L340.30,13.00" fill="none" stroke="#6e5a3a" stroke-width="0.75"/>
<path d="M311.60,69.20 L311.79,69.47 L312.05,69.83 L312.36,70.26 L312.70,70.74 L313.06,71.23 L313.40,71.70 L313.74,72.18 L314.10,72.69 L314.47,73.21 L314.85,73.73 L315.23,74.23 L315.60,74.70 L315.96,75.15 L316.33,75.60 L316.69,76.03 L317.05,76.41 L317.42,76.75 L317.80,77.00 L318.19,77.18 L318.59,77.29 L318.99,77.34 L319.39,77.34 L319.80,77.30 L320.20,77.20 L320.60,77.05 L321.00,76.84 L321.40,76.58 L321.80,76.27 L322.20,75.95 L322.60,75.60 L323.00,75.22 L323.40,74.79 L323.79,74.32 L324.19,73.86 L324.59,73.41 L325.00,73.00 L325.41,72.62 L325.83,72.24 L326.24,71.89 L326.66,71.56 L327.08,71.26 L327.50,71.00 L327.92,70.78 L328.33,70.60 L328.74,70.45 L329.16,70.33 L329.58,70.25 L330.00,70.20 L330.43,70.19 L330.87,70.21 L331.31,70.26 L331.74,70.35 L332.18,70.46 L332.60,70.60 L333.02,70.76 L333.43,70.94 L333.84,71.16 L334.24,71.40 L334.63,71.68 L335.00,72.00 L335.35,72.35 L335.69,72.74 L336.01,73.16 L336.31,73.62 L336.61,74.13 L336.90,74.70 L337.18,75.31 L337.45,75.94 L337.71,76.62 L337.95,77.37 L338.18,78.23 L338.40,79.20 L338.60,80.31 L338.79,81.53 L338.96,82.86 L339.11,84.26 L339.26,85.71 L339.40,87.20 L339.53,88.69 L339.64,90.20 L339.74,91.76 L339.84,93.42 L339.92,95.22 L340.00,97.20 L340.07,99.58 L340.13,102.39 L340.19,105.33 L340.23,108.13 L340.27,110.51 L340.30,112.20" fill="none" stroke="#6e5a3a" stroke-width="0.75"/>
<path d="M311.0,50 Q310.3,62.6 311.0,75.2" fill="none" stroke="#6e5a3a" stroke-width="0.9"/>
<rect x="339.0" y="15.5" width="12" height="93.5" fill="#fcd4aa"/>
<path d="M349.6,15.5 L351.8,15.5 L351.8,109 L349.6,109 Q342.4,62.3 349.6,15.5 Z" fill="#f8b454"/>
<path d="M350.4,15.5 L351.8,15.5 L351.8,109 L350.4,109 Q346.6,62.3 350.4,15.5 Z" fill="#f39a2a"/>
<rect x="351.8" y="15.5" width="70" height="93.5" fill="#fdd5a8"/>
<path d="M349.6,15.5 Q342.4,62.3 349.6,109" fill="none" stroke="#5a4422" stroke-width="0.7"/>
<path d="M350.4,15.5 Q346.6,62.3 350.4,109" fill="none" stroke="#7a6040" stroke-width="0.5"/>
<line x1="351.8" y1="15.5" x2="351.8" y2="109" stroke="#4a3418" stroke-width="0.8"/>
</g>
<path d="M248.5,109.0 V15.5 H338.5" fill="none" stroke="#2a1a08" stroke-width="1.1"/>
<path d="M338.5,15.5 H417.0 V109.0" fill="none" stroke="#6a5030" stroke-width="0.8"/>
<defs><linearGradient id="gcb2" x1="0" x2="0" y1="0" y2="1"><stop offset="0" stop-color="#dc4c0c"/><stop offset="0.14" stop-color="#e66010"/><stop offset="0.15" stop-color="#f07818"/><stop offset="0.43" stop-color="#f48e20"/><stop offset="0.44" stop-color="#f8a840"/><stop offset="0.71" stop-color="#fbbe68"/><stop offset="0.72" stop-color="#fcd49a"/><stop offset="0.86" stop-color="#fddcaa"/><stop offset="0.87" stop-color="#fde8cc"/><stop offset="1" stop-color="#fef0dc"/></linearGradient></defs>
<rect x="383" y="24.6" width="4.6" height="76" fill="url(#gcb2)" stroke="#6a4a20" stroke-width="0.6"/>
<text transform="translate(390.30,27.47) scale(1,1.0)" font-size="6.9" font-family='"Liberation Sans", "DejaVu Sans", sans-serif' fill="#111" stroke="#111" stroke-width="0.22">140</text>
<text transform="translate(390.30,38.17) scale(1,1.0)" font-size="6.9" font-family='"Liberation Sans", "DejaVu Sans", sans-serif' fill="#111" stroke="#111" stroke-width="0.22">120</text>
<text transform="translate(390.30,48.97) scale(1,1.0)" font-size="6.9" font-family='"Liberation Sans", "DejaVu Sans", sans-serif' fill="#111" stroke="#111" stroke-width="0.22">100</text>
<text transform="translate(390.30,59.77) scale(1,1.0)" font-size="6.9" font-family='"Liberation Sans", "DejaVu Sans", sans-serif' fill="#111" stroke="#111" stroke-width="0.22">80</text>
<text transform="translate(390.30,70.87) scale(1,1.0)" font-size="6.9" font-family='"Liberation Sans", "DejaVu Sans", sans-serif' fill="#111" stroke="#111" stroke-width="0.22">60</text>
<text transform="translate(390.30,81.47) scale(1,1.0)" font-size="6.9" font-family='"Liberation Sans", "DejaVu Sans", sans-serif' fill="#111" stroke="#111" stroke-width="0.22">40</text>
<text transform="translate(390.30,92.27) scale(1,1.0)" font-size="6.9" font-family='"Liberation Sans", "DejaVu Sans", sans-serif' fill="#111" stroke="#111" stroke-width="0.22">20</text>
<text transform="translate(390.30,102.87) scale(1,1.0)" font-size="6.9" font-family='"Liberation Sans", "DejaVu Sans", sans-serif' fill="#111" stroke="#111" stroke-width="0.22">0</text>
<text transform="translate(409.8,62.0) rotate(-90)" text-anchor="middle" font-size="8.6" font-style="italic" font-family='"Liberation Sans", "DejaVu Sans", sans-serif' fill="#111">cm<tspan font-size="5.8" dy="-3.3">2</tspan><tspan dy="3.3">/s</tspan></text>
<text x="262.5" y="101.0" font-size="9.6" font-family='"Liberation Sans", "DejaVu Sans", sans-serif' fill="#111">(<tspan font-style="italic">c</tspan>)</text>
<text transform="translate(245.60,18.73) scale(1,1.12)" text-anchor="end" font-size="7.8" font-family='"Liberation Sans", "DejaVu Sans", sans-serif' fill="#111" stroke="#111" stroke-width="0.22">2</text>
<text transform="translate(245.60,65.53) scale(1,1.12)" text-anchor="end" font-size="7.8" font-family='"Liberation Sans", "DejaVu Sans", sans-serif' fill="#111" stroke="#111" stroke-width="0.22">0</text>
<text transform="translate(245.60,112.43) scale(1,1.12)" text-anchor="end" font-size="7.8" font-family='"Liberation Sans", "DejaVu Sans", sans-serif' fill="#111" stroke="#111" stroke-width="0.22">−2</text>
<text transform="translate(248.90,119.43) scale(1,1.12)" text-anchor="middle" font-size="7.8" font-family='"Liberation Sans", "DejaVu Sans", sans-serif' fill="#111" stroke="#111" stroke-width="0.22">20</text>
<text transform="translate(291.02,119.43) scale(1,1.12)" text-anchor="middle" font-size="7.8" font-family='"Liberation Sans", "DejaVu Sans", sans-serif' fill="#111" stroke="#111" stroke-width="0.22">25</text>
<text transform="translate(333.14,119.43) scale(1,1.12)" text-anchor="middle" font-size="7.8" font-family='"Liberation Sans", "DejaVu Sans", sans-serif' fill="#111" stroke="#111" stroke-width="0.22">30</text>
<text transform="translate(375.26,119.43) scale(1,1.12)" text-anchor="middle" font-size="7.8" font-family='"Liberation Sans", "DejaVu Sans", sans-serif' fill="#111" stroke="#111" stroke-width="0.22">35</text>
<text transform="translate(417.38,119.43) scale(1,1.12)" text-anchor="middle" font-size="7.8" font-family='"Liberation Sans", "DejaVu Sans", sans-serif' fill="#111" stroke="#111" stroke-width="0.22">40</text>
<text transform="translate(233.6,62.2) rotate(-90)" text-anchor="middle" font-size="10" font-family='"Liberation Sans", "DejaVu Sans", sans-serif' fill="#111"><tspan font-style="italic">y</tspan> (<tspan font-style="italic">μm</tspan>)</text>
<rect x="28.5" y="124.5" width="168.5" height="94.0" fill="#fff" stroke="#a8a8a8" stroke-width="1.2"/>
<defs><clipPath id="cb"><rect x="29" y="125" width="167.5" height="93"/></clipPath></defs>
<g clip-path="url(#cb)">
<path d="M28.00,210.90 L62.00,210.90" fill="none" stroke="#ee1c1c" stroke-width="1.0" stroke-linejoin="round"/>
<path d="M28.00,210.40 L60.00,210.40" fill="none" stroke="#1a1ae8" stroke-width="1.6" stroke-linejoin="round"/>
<path d="M72.00,199.70 L197.00,199.90" fill="none" stroke="#ee1c1c" stroke-width="1.1" stroke-linejoin="round"/>
<path d="M90.00,200.90 L197.00,200.80" fill="none" stroke="#1a1ae8" stroke-width="1.3" stroke-linejoin="round"/>
<path d="M57.00,210.26 L57.25,210.09 L57.50,209.84 L57.75,209.48 L58.00,208.95 L58.25,208.18 L58.50,207.07 L58.75,205.51 L59.00,203.38 L59.25,200.55 L59.50,196.98 L59.75,192.71 L60.00,187.96 L60.25,183.06 L60.50,178.39 L60.75,174.25 L61.00,170.82 L61.25,168.14 L61.50,166.13 L61.75,164.68 L62.00,163.65 L62.25,162.93 L62.50,162.44 L62.75,162.10 L63.00,161.87 L63.25,161.72 L63.50,161.61 L63.75,161.54 L64.00,161.50 L65.50,160.00 L67.00,159.40 L68.30,160.60 L69.00,162.50" fill="none" stroke="#ee1c1c" stroke-width="1.2" stroke-linejoin="round"/>
<line x1="69.8" y1="163" x2="69.8" y2="196" stroke="#ee1c1c" stroke-width="1.2" stroke-dasharray="1.1 2.3"/>
<path d="M70.20,196.00 L71.50,198.80 L73.00,199.70" fill="none" stroke="#ee1c1c" stroke-width="1.2" stroke-linejoin="round"/>
<path d="M63.00,210.54 L63.25,210.51 L63.50,210.46 L63.75,210.39 L64.00,210.28 L64.25,210.12 L64.50,209.87 L64.75,209.50 L65.00,208.96 L65.25,208.16 L65.50,207.01 L65.75,205.39 L66.00,203.19 L66.25,200.33 L66.50,196.83 L66.75,192.82 L67.00,188.61 L67.25,184.54 L67.50,180.92 L67.75,177.92 L68.00,175.60 L68.25,173.87 L68.50,172.64 L68.75,171.78 L69.00,171.19 L69.25,170.79 L69.50,170.53 L71.00,166.50 L73.00,162.80 L75.50,159.50 L77.50,156.60 L79.30,154.40 L81.00,153.00 L82.50,152.30 L83.60,153.50" fill="none" stroke="#1a1ae8" stroke-width="1.2" stroke-linejoin="round"/>
<line x1="84.9" y1="154" x2="84.9" y2="191" stroke="#1a1ae8" stroke-width="1.2" stroke-dasharray="1.1 2.6"/>
<path d="M85.20,191.00 L86.50,197.00 L88.50,199.80 L91.00,200.70" fill="none" stroke="#1a1ae8" stroke-width="1.2" stroke-linejoin="round"/>
<path d="M70.00,210.02 L70.25,209.81 L70.50,209.53 L70.75,209.15 L71.00,208.64 L71.25,207.95 L71.50,207.05 L71.75,205.86 L72.00,204.33 L72.25,202.39 L72.50,199.98 L72.75,197.09 L73.00,193.72 L73.25,189.96 L73.50,185.94 L73.75,181.84 L74.00,177.86 L74.25,174.17 L74.50,170.89 L74.75,168.10 L75.00,165.79 L75.25,163.93 L75.50,162.48 L75.75,161.35 L76.00,160.49 L76.25,159.85 L76.50,159.37 L76.75,159.01 L77.00,158.74 L77.25,158.54 L77.50,158.40 L77.75,158.29 L78.00,158.21 L80.00,156.00 L83.00,152.60 L85.00,146.00 L86.90,141.00 L89.00,136.50 L91.00,133.00 L92.60,131.60 L95.00,129.20 L97.30,128.20 L99.00,128.80 L100.20,130.70 L101.50,134.00" fill="none" stroke="#ee1c1c" stroke-width="1.2" stroke-linejoin="round"/>
<line x1="102.6" y1="135" x2="102.6" y2="195" stroke="#ee1c1c" stroke-width="1.2" stroke-dasharray="1.1 2.4"/>
<path d="M102.80,195.00 L104.50,198.50 L107.00,199.60" fill="none" stroke="#ee1c1c" stroke-width="1.2" stroke-linejoin="round"/>
<path d="M79.00,210.47 L79.25,210.44 L79.50,210.39 L79.75,210.33 L80.00,210.26 L80.25,210.16 L80.50,210.04 L80.75,209.88 L81.00,209.68 L81.25,209.43 L81.50,209.11 L81.75,208.71 L82.00,208.20 L82.25,207.57 L82.50,206.80 L82.75,205.85 L83.00,204.71 L83.25,203.36 L83.50,201.78 L83.75,199.97 L84.00,197.96 L84.25,195.77 L84.50,193.45 L84.75,191.07 L85.00,188.71 L85.25,186.44 L85.50,184.31 L85.75,182.38 L86.00,180.66 L86.25,179.17 L86.50,177.90 L86.75,176.85 L87.00,175.97 L87.25,175.26 L87.50,174.68 L87.75,174.22 L88.00,173.86 L88.25,173.56 L88.50,173.33 L88.75,173.15 L89.00,173.01 L89.25,172.90 L89.50,172.81 L89.75,172.74 L90.00,172.69 L90.25,172.65 L90.50,172.62 L92.00,172.60 L94.00,172.00 L96.00,172.90 L98.00,172.20 L99.50,172.80 L101.40,174.00 L104.00,173.50 L106.00,174.20 L107.60,174.00 L109.50,172.50 L112.00,169.50 L115.00,166.80 L118.00,164.50 L120.50,160.20 L122.90,156.90 L125.00,153.80 L127.20,151.50 L129.00,152.80 L131.00,155.20 L133.00,158.00 L134.30,159.70 L135.80,162.60" fill="none" stroke="#1a1ae8" stroke-width="1.2" stroke-linejoin="round"/>
<line x1="136.6" y1="163" x2="136.6" y2="192" stroke="#1a1ae8" stroke-width="1.2" stroke-dasharray="1.1 2.6"/>
<path d="M136.80,192.00 L138.50,197.00 L141.00,199.80 L145.00,200.80" fill="none" stroke="#1a1ae8" stroke-width="1.2" stroke-linejoin="round"/>
<path d="M92.00,210.11 L92.25,210.03 L92.50,209.92 L92.75,209.80 L93.00,209.66 L93.25,209.50 L93.50,209.30 L93.75,209.08 L94.00,208.81 L94.25,208.50 L94.50,208.15 L94.75,207.73 L95.00,207.25 L95.25,206.70 L95.50,206.07 L95.75,205.35 L96.00,204.53 L96.25,203.61 L96.50,202.58 L96.75,201.43 L97.00,200.18 L97.25,198.81 L97.50,197.33 L97.75,195.76 L98.00,194.10 L98.25,192.39 L98.50,190.62 L98.75,188.84 L99.00,187.07 L99.25,185.32 L99.50,183.62 L99.75,182.00 L100.00,180.47 L100.25,179.03 L100.50,177.71 L100.75,176.50 L101.00,175.40 L101.25,174.41 L101.50,173.53 L101.75,172.75 L102.00,172.07 L102.25,171.47 L102.50,170.95 L102.75,170.50 L103.00,170.10 L103.25,169.77 L103.50,169.48 L103.75,169.23 L104.00,169.01 L107.00,167.20 L109.50,168.00 L114.00,167.30 L119.00,166.80 L125.00,166.20 L131.00,165.50 L137.00,165.30 L143.00,164.80 L147.00,163.80 L149.50,162.50 L152.00,164.50 L155.00,166.00 L157.00,166.50 L160.00,165.50 L162.00,167.00 L164.50,168.50 L165.50,170.00" fill="none" stroke="#ee1c1c" stroke-width="1.2" stroke-linejoin="round"/>
<line x1="166.2" y1="170" x2="166.2" y2="196" stroke="#ee1c1c" stroke-width="1.2" stroke-dasharray="1.1 2.4"/>
<path d="M166.30,196.00 L168.00,198.80 L171.00,199.70" fill="none" stroke="#ee1c1c" stroke-width="1.2" stroke-linejoin="round"/>
<path d="M28.50,210.60 L28.75,210.60 L29.00,210.60 L29.25,210.60 L29.50,210.60 L29.75,210.60 L30.00,210.60 L30.25,210.60 L30.50,210.60 L30.75,210.60 L31.00,210.60 L31.25,210.60 L31.50,210.60 L31.75,210.60 L32.00,210.60 L32.25,210.60 L32.50,210.60 L32.75,210.60 L33.00,210.60 L33.25,210.60 L33.50,210.60 L33.75,210.60 L34.00,210.60 L34.25,210.60 L34.50,210.60 L34.75,210.60 L35.00,210.60 L35.25,210.60 L35.50,210.60 L35.75,210.60 L36.00,210.60 L36.25,210.60 L36.50,210.60 L36.75,210.60 L37.00,210.60 L37.25,210.60 L37.50,210.60 L37.75,210.60 L38.00,210.60 L38.25,210.60 L38.50,210.60 L38.75,210.60 L39.00,210.60 L39.25,210.60 L39.50,210.60 L39.75,210.60 L40.00,210.60 L40.25,210.60 L40.50,210.60 L40.75,210.60 L41.00,210.60 L41.25,210.60 L41.50,210.60 L41.75,210.60 L42.00,210.60 L42.25,210.60 L42.50,210.60 L42.75,210.60 L43.00,210.60 L43.25,210.60 L43.50,210.60 L43.75,210.60 L44.00,210.60 L44.25,210.60 L44.50,210.60 L44.75,210.60 L45.00,210.60 L45.25,210.60 L45.50,210.60 L45.75,210.60 L46.00,210.60 L46.25,210.60 L46.50,210.60 L46.75,210.60 L47.00,210.60 L47.25,210.60 L47.50,210.60 L47.75,210.60 L48.00,210.60 L48.25,210.60 L48.50,210.60 L48.75,210.60 L49.00,210.60 L49.25,210.60 L49.50,210.60 L49.75,210.60 L50.00,210.60 L50.25,210.60 L50.50,210.60 L50.75,210.60 L51.00,210.60 L51.25,210.60 L51.50,210.60 L51.75,210.60 L52.00,210.60 L52.25,210.60 L52.50,210.60 L52.75,210.60 L53.00,210.60 L53.25,210.60 L53.50,210.60 L53.75,210.60 L54.00,210.60 L54.25,210.60 L54.50,210.59 L54.75,210.59 L55.00,210.59 L55.25,210.58 L55.50,210.57 L55.75,210.55 L56.00,210.53 L56.25,210.50 L56.50,210.45 L56.75,210.37 L57.00,210.26 L57.25,210.09 L57.50,209.84 L57.75,209.48 L58.00,208.95 L58.25,208.18 L58.50,207.07 L58.75,205.51 L59.00,203.38 L59.25,200.55 L59.50,196.98 L59.75,192.71 L60.00,187.96 L60.25,183.06 L60.50,178.39 L60.75,174.25 L61.00,170.82 L61.25,168.14 L61.50,166.13 L61.75,164.68 L62.00,163.65 L62.25,162.93 L62.50,162.44 L62.75,162.10 L63.00,161.87 L63.25,161.72 L63.50,161.61 L63.75,161.54 L64.00,161.50 L64.25,161.46 L64.50,161.44 L64.75,161.43 L65.00,161.42 L65.25,161.41 L65.50,161.41 L65.75,161.41 L66.00,161.40 L66.25,161.40 L66.50,161.40 L66.75,161.40 L67.00,161.40 L67.25,161.40 L67.50,161.40 L67.75,161.40 L68.00,161.40 L68.25,161.40 L68.50,161.40 L68.75,161.40 L69.00,161.40 L69.25,161.40 L69.50,161.40 L69.75,161.40 L70.00,161.40 L70.25,161.40 L70.50,161.40 L70.75,161.40 L71.00,161.40 L71.25,161.40 L71.50,161.40 L71.75,161.40 L72.00,161.40 L72.25,161.40 L72.50,161.40 L72.75,161.40 L73.00,161.40 L73.25,161.40 L73.50,161.40 L73.75,161.40 L74.00,161.40 L74.25,161.40 L74.50,161.40 L74.75,161.40 L75.00,161.40 L75.25,161.40 L75.50,161.40 L75.75,161.40 L76.00,161.40 L76.25,161.40 L76.50,161.40 L76.75,161.40 L77.00,161.40 L77.25,161.40 L77.50,161.40 L77.75,161.40 L78.00,161.40 L78.25,161.40 L78.50,161.40 L78.75,161.40 L79.00,161.40 L79.25,161.40 L79.50,161.40 L79.75,161.40 L80.00,161.40 L80.25,161.40 L80.50,161.40 L80.75,161.40 L81.00,161.40 L81.25,161.40 L81.50,161.40 L81.75,161.40 L82.00,161.40 L82.25,161.40 L82.50,161.40 L82.75,161.40 L83.00,161.40 L83.25,161.40 L83.50,161.40 L83.75,161.40 L84.00,161.40 L84.25,161.40 L84.50,161.40 L84.75,161.40 L85.00,161.40 L85.25,161.40 L85.50,161.40 L85.75,161.40 L86.00,161.40 L86.25,161.40 L86.50,161.40 L86.75,161.40 L87.00,161.40 L87.25,161.40 L87.50,161.40 L87.75,161.40 L88.00,161.40 L88.25,161.40 L88.50,161.40 L88.75,161.40 L89.00,161.40 L89.25,161.40 L89.50,161.40 L89.75,161.40 L90.00,161.40 L90.25,161.40 L90.50,161.40 L90.75,161.40 L91.00,161.40 L91.25,161.40 L91.50,161.40 L91.75,161.40 L92.00,161.40 L92.25,161.40 L92.50,161.40 L92.75,161.40 L93.00,161.40 L93.25,161.40 L93.50,161.40 L93.75,161.40 L94.00,161.40 L94.25,161.40 L94.50,161.40 L94.75,161.40 L95.00,161.40 L95.25,161.40 L95.50,161.40 L95.75,161.40 L96.00,161.40 L96.25,161.40 L96.50,161.40 L96.75,161.40 L97.00,161.40 L97.25,161.40 L97.50,161.40 L97.75,161.40 L98.00,161.40 L98.25,161.40 L98.50,161.40 L98.75,161.40 L99.00,161.40 L99.25,161.40 L99.50,161.40 L99.75,161.40 L100.00,161.40 L100.25,161.40 L100.50,161.40 L100.75,161.40 L101.00,161.40 L101.25,161.40 L101.50,161.40 L101.75,161.40 L102.00,161.40 L102.25,161.40 L102.50,161.40 L102.75,161.40 L103.00,161.40 L103.25,161.40 L103.50,161.40 L103.75,161.40 L104.00,161.40 L104.25,161.40 L104.50,161.40 L104.75,161.40 L105.00,161.40 L105.25,161.40 L105.50,161.40 L105.75,161.40 L106.00,161.40 L106.25,161.40 L106.50,161.40 L106.75,161.40 L107.00,161.40 L107.25,161.40 L107.50,161.40 L107.75,161.40 L108.00,161.40 L108.25,161.40 L108.50,161.40 L108.75,161.40 L109.00,161.40 L109.25,161.40 L109.50,161.40 L109.75,161.40 L110.00,161.40 L110.25,161.40 L110.50,161.40 L110.75,161.40 L111.00,161.40 L111.25,161.40 L111.50,161.40 L111.75,161.40 L112.00,161.40 L112.25,161.40 L112.50,161.40 L112.75,161.40 L113.00,161.40 L113.25,161.40 L113.50,161.40 L113.75,161.40 L114.00,161.40 L114.25,161.40 L114.50,161.40 L114.75,161.40 L115.00,161.40 L115.25,161.40 L115.50,161.40 L115.75,161.40 L116.00,161.40 L116.25,161.40 L116.50,161.40 L116.75,161.40 L117.00,161.40 L117.25,161.40 L117.50,161.40 L117.75,161.40 L118.00,161.40 L118.25,161.40 L118.50,161.40 L118.75,161.40 L119.00,161.40 L119.25,161.40 L119.50,161.40 L119.75,161.40 L120.00,161.40 L120.25,161.40 L120.50,161.40 L120.75,161.40 L121.00,161.40 L121.25,161.40 L121.50,161.40 L121.75,161.40 L122.00,161.40 L122.25,161.40 L122.50,161.40 L122.75,161.40 L123.00,161.40 L123.25,161.40 L123.50,161.40 L123.75,161.40 L124.00,161.40 L124.25,161.40 L124.50,161.40 L124.75,161.40 L125.00,161.40 L125.25,161.40 L125.50,161.40 L125.75,161.40 L126.00,161.40 L126.25,161.40 L126.50,161.40 L126.75,161.40 L127.00,161.40 L127.25,161.40 L127.50,161.40 L127.75,161.40 L128.00,161.40 L128.25,161.40 L128.50,161.40 L128.75,161.40 L129.00,161.40 L129.25,161.40 L129.50,161.40 L129.75,161.40 L130.00,161.40 L130.25,161.40 L130.50,161.40 L130.75,161.40 L131.00,161.40 L131.25,161.40 L131.50,161.40 L131.75,161.40 L132.00,161.40 L132.25,161.40 L132.50,161.40 L132.75,161.40 L133.00,161.40 L133.25,161.40 L133.50,161.40 L133.75,161.40 L134.00,161.40 L134.25,161.40 L134.50,161.40 L134.75,161.40 L135.00,161.40 L135.25,161.40 L135.50,161.40 L135.75,161.40 L136.00,161.40 L136.25,161.40 L136.50,161.40 L136.75,161.40 L137.00,161.40 L137.25,161.40 L137.50,161.40 L137.75,161.40 L138.00,161.40 L138.25,161.40 L138.50,161.40 L138.75,161.40 L139.00,161.40 L139.25,161.40 L139.50,161.40 L139.75,161.40 L140.00,161.40 L140.25,161.40 L140.50,161.40 L140.75,161.40 L141.00,161.40 L141.25,161.40 L141.50,161.40 L141.75,161.40 L142.00,161.40 L142.25,161.40 L142.50,161.40 L142.75,161.40 L143.00,161.40 L143.25,161.40 L143.50,161.40 L143.75,161.40 L144.00,161.40 L144.25,161.40 L144.50,161.40 L144.75,161.40 L145.00,161.40 L145.25,161.40 L145.50,161.40 L145.75,161.40 L146.00,161.40 L146.25,161.40 L146.50,161.40 L146.75,161.40 L147.00,161.40 L147.25,161.40 L147.50,161.40 L147.75,161.40 L148.00,161.40 L148.25,161.40 L148.50,161.40 L148.75,161.40 L149.00,161.40 L149.25,161.40 L149.50,161.40 L149.75,161.40 L150.00,161.40 L150.25,161.40 L150.50,161.40 L150.75,161.40 L151.00,161.40 L151.25,161.40 L151.50,161.40 L151.75,161.40 L152.00,161.40 L152.25,161.40 L152.50,161.40 L152.75,161.40 L153.00,161.40 L153.25,161.40 L153.50,161.40 L153.75,161.40 L154.00,161.40 L154.25,161.40 L154.50,161.40 L154.75,161.40 L155.00,161.40 L155.25,161.40 L155.50,161.40 L155.75,161.40 L156.00,161.40 L156.25,161.40 L156.50,161.40 L156.75,161.40 L157.00,161.40 L157.25,161.40 L157.50,161.40 L157.75,161.40 L158.00,161.40 L158.25,161.40 L158.50,161.40 L158.75,161.40 L159.00,161.40 L159.25,161.40 L159.50,161.40 L159.75,161.40 L160.00,161.40 L160.25,161.40 L160.50,161.40 L160.75,161.40 L161.00,161.40 L161.25,161.40 L161.50,161.40 L161.75,161.40 L162.00,161.40 L162.25,161.40 L162.50,161.40 L162.75,161.40 L163.00,161.40 L163.25,161.40 L163.50,161.40 L163.75,161.40 L164.00,161.40 L164.25,161.40 L164.50,161.40 L164.75,161.40 L165.00,161.40 L165.25,161.40 L165.50,161.40 L165.75,161.40 L166.00,161.40 L166.25,161.40 L166.50,161.40 L166.75,161.40 L167.00,161.40 L167.25,161.40 L167.50,161.40 L167.75,161.40 L168.00,161.40 L168.25,161.40 L168.50,161.40 L168.75,161.40 L169.00,161.40 L169.25,161.40 L169.50,161.40 L169.75,161.40 L170.00,161.40 L170.25,161.40 L170.50,161.40 L170.75,161.40 L171.00,161.40 L171.25,161.40 L171.50,161.40 L171.75,161.40 L172.00,161.40 L172.25,161.40 L172.50,161.40 L172.75,161.40 L173.00,161.40 L173.25,161.40 L173.50,161.40 L173.75,161.40 L174.00,161.40 L174.25,161.40 L174.50,161.40 L174.75,161.40 L175.00,161.40 L175.25,161.40 L175.50,161.40 L175.75,161.40 L176.00,161.40 L176.25,161.40 L176.50,161.40 L176.75,161.40 L177.00,161.40 L177.25,161.40 L177.50,161.40 L177.75,161.40 L178.00,161.40 L178.25,161.40 L178.50,161.40 L178.75,161.40 L179.00,161.40 L179.25,161.40 L179.50,161.40 L179.75,161.40 L180.00,161.40 L180.25,161.40 L180.50,161.40 L180.75,161.40 L181.00,161.40 L181.25,161.40 L181.50,161.40 L181.75,161.40 L182.00,161.40 L182.25,161.40 L182.50,161.40 L182.75,161.40 L183.00,161.40 L183.25,161.40 L183.50,161.40 L183.75,161.40 L184.00,161.40 L184.25,161.40 L184.50,161.40 L184.75,161.40 L185.00,161.40 L185.25,161.40 L185.50,161.40 L185.75,161.40 L186.00,161.40 L186.25,161.40 L186.50,161.40 L186.75,161.40 L187.00,161.40 L187.25,161.40 L187.50,161.40 L187.75,161.40 L188.00,161.40 L188.25,161.40 L188.50,161.40 L188.75,161.40 L189.00,161.40 L189.25,161.40 L189.50,161.40 L189.75,161.40 L190.00,161.40 L190.25,161.40 L190.50,161.40 L190.75,161.40 L191.00,161.40 L191.25,161.40 L191.50,161.40 L191.75,161.40 L192.00,161.40 L192.25,161.40 L192.50,161.40 L192.75,161.40 L193.00,161.40 L193.25,161.40 L193.50,161.40 L193.75,161.40 L194.00,161.40 L194.25,161.40 L194.50,161.40 L194.75,161.40 L195.00,161.40 L195.25,161.40 L195.50,161.40 L195.75,161.40 L196.00,161.40 L196.25,161.40 L196.50,161.40 L196.75,161.40 L197.00,161.40 L197.25,161.40 L197.50,161.40" fill="none" stroke="#111" stroke-width="1.4"/>
<path d="M28.50,210.60 L28.75,210.60 L29.00,210.60 L29.25,210.60 L29.50,210.60 L29.75,210.60 L30.00,210.60 L30.25,210.60 L30.50,210.60 L30.75,210.60 L31.00,210.60 L31.25,210.60 L31.50,210.60 L31.75,210.60 L32.00,210.60 L32.25,210.60 L32.50,210.60 L32.75,210.60 L33.00,210.60 L33.25,210.60 L33.50,210.60 L33.75,210.60 L34.00,210.60 L34.25,210.60 L34.50,210.60 L34.75,210.60 L35.00,210.60 L35.25,210.60 L35.50,210.60 L35.75,210.60 L36.00,210.60 L36.25,210.60 L36.50,210.60 L36.75,210.60 L37.00,210.60 L37.25,210.60 L37.50,210.60 L37.75,210.60 L38.00,210.60 L38.25,210.60 L38.50,210.60 L38.75,210.60 L39.00,210.60 L39.25,210.60 L39.50,210.60 L39.75,210.60 L40.00,210.60 L40.25,210.60 L40.50,210.60 L40.75,210.60 L41.00,210.60 L41.25,210.60 L41.50,210.60 L41.75,210.60 L42.00,210.60 L42.25,210.60 L42.50,210.60 L42.75,210.60 L43.00,210.60 L43.25,210.60 L43.50,210.60 L43.75,210.60 L44.00,210.60 L44.25,210.60 L44.50,210.60 L44.75,210.60 L45.00,210.60 L45.25,210.60 L45.50,210.60 L45.75,210.60 L46.00,210.60 L46.25,210.60 L46.50,210.60 L46.75,210.60 L47.00,210.60 L47.25,210.60 L47.50,210.60 L47.75,210.60 L48.00,210.60 L48.25,210.60 L48.50,210.60 L48.75,210.60 L49.00,210.60 L49.25,210.60 L49.50,210.60 L49.75,210.60 L50.00,210.60 L50.25,210.60 L50.50,210.60 L50.75,210.60 L51.00,210.60 L51.25,210.60 L51.50,210.60 L51.75,210.60 L52.00,210.60 L52.25,210.60 L52.50,210.60 L52.75,210.60 L53.00,210.60 L53.25,210.60 L53.50,210.60 L53.75,210.60 L54.00,210.60 L54.25,210.60 L54.50,210.60 L54.75,210.60 L55.00,210.60 L55.25,210.60 L55.50,210.60 L55.75,210.60 L56.00,210.60 L56.25,210.60 L56.50,210.60 L56.75,210.60 L57.00,210.60 L57.25,210.60 L57.50,210.60 L57.75,210.60 L58.00,210.60 L58.25,210.60 L58.50,210.60 L58.75,210.60 L59.00,210.60 L59.25,210.60 L59.50,210.60 L59.75,210.60 L60.00,210.60 L60.25,210.60 L60.50,210.60 L60.75,210.60 L61.00,210.60 L61.25,210.60 L61.50,210.59 L61.75,210.59 L62.00,210.59 L62.25,210.58 L62.50,210.57 L62.75,210.55 L63.00,210.53 L63.25,210.50 L63.50,210.44 L63.75,210.36 L64.00,210.24 L64.25,210.05 L64.50,209.78 L64.75,209.36 L65.00,208.75 L65.25,207.85 L65.50,206.55 L65.75,204.73 L66.00,202.24 L66.25,199.02 L66.50,195.06 L66.75,190.55 L67.00,185.80 L67.25,181.20 L67.50,177.12 L67.75,173.74 L68.00,171.11 L68.25,169.17 L68.50,167.78 L68.75,166.81 L69.00,166.14 L69.25,165.69 L69.50,165.39 L69.75,165.19 L70.00,165.06 L70.25,164.97 L70.50,164.91 L70.75,164.87 L71.00,164.85 L71.25,164.83 L71.50,164.82 L71.75,164.81 L72.00,164.81 L72.25,164.81 L72.50,164.80 L72.75,164.80 L73.00,164.80 L73.25,164.80 L73.50,164.80 L73.75,164.80 L74.00,164.80 L74.25,164.80 L74.50,164.80 L74.75,164.80 L75.00,164.80 L75.25,164.80 L75.50,164.80 L75.75,164.80 L76.00,164.80 L76.25,164.80 L76.50,164.80 L76.75,164.80 L77.00,164.80 L77.25,164.80 L77.50,164.80 L77.75,164.80 L78.00,164.80 L78.25,164.80 L78.50,164.80 L78.75,164.80 L79.00,164.80 L79.25,164.80 L79.50,164.80 L79.75,164.80 L80.00,164.80 L80.25,164.80 L80.50,164.80 L80.75,164.80 L81.00,164.80 L81.25,164.80 L81.50,164.80 L81.75,164.80 L82.00,164.80 L82.25,164.80 L82.50,164.80 L82.75,164.80 L83.00,164.80 L83.25,164.80 L83.50,164.80 L83.75,164.80 L84.00,164.80 L84.25,164.80 L84.50,164.80 L84.75,164.80 L85.00,164.80 L85.25,164.80 L85.50,164.80 L85.75,164.80 L86.00,164.80 L86.25,164.80 L86.50,164.80 L86.75,164.80 L87.00,164.80 L87.25,164.80 L87.50,164.80 L87.75,164.80 L88.00,164.80 L88.25,164.80 L88.50,164.80 L88.75,164.80 L89.00,164.80 L89.25,164.80 L89.50,164.80 L89.75,164.80 L90.00,164.80 L90.25,164.80 L90.50,164.80 L90.75,164.80 L91.00,164.80 L91.25,164.80 L91.50,164.80 L91.75,164.80 L92.00,164.80 L92.25,164.80 L92.50,164.80 L92.75,164.80 L93.00,164.80 L93.25,164.80 L93.50,164.80 L93.75,164.80 L94.00,164.80 L94.25,164.80 L94.50,164.80 L94.75,164.80 L95.00,164.80 L95.25,164.80 L95.50,164.80 L95.75,164.80 L96.00,164.80 L96.25,164.80 L96.50,164.80 L96.75,164.80 L97.00,164.80 L97.25,164.80 L97.50,164.80 L97.75,164.80 L98.00,164.80 L98.25,164.80 L98.50,164.80 L98.75,164.80 L99.00,164.80 L99.25,164.80 L99.50,164.80 L99.75,164.80 L100.00,164.80 L100.25,164.80 L100.50,164.80 L100.75,164.80 L101.00,164.80 L101.25,164.80 L101.50,164.80 L101.75,164.80 L102.00,164.80 L102.25,164.80 L102.50,164.80 L102.75,164.80 L103.00,164.80 L103.25,164.80 L103.50,164.80 L103.75,164.80 L104.00,164.80 L104.25,164.80 L104.50,164.80 L104.75,164.80 L105.00,164.80 L105.25,164.80 L105.50,164.80 L105.75,164.80 L106.00,164.80 L106.25,164.80 L106.50,164.80 L106.75,164.80 L107.00,164.80 L107.25,164.80 L107.50,164.80 L107.75,164.80 L108.00,164.80 L108.25,164.80 L108.50,164.80 L108.75,164.80 L109.00,164.80 L109.25,164.80 L109.50,164.80 L109.75,164.80 L110.00,164.80 L110.25,164.80 L110.50,164.80 L110.75,164.80 L111.00,164.80 L111.25,164.80 L111.50,164.80 L111.75,164.80 L112.00,164.80 L112.25,164.80 L112.50,164.80 L112.75,164.80 L113.00,164.80 L113.25,164.80 L113.50,164.80 L113.75,164.80 L114.00,164.80 L114.25,164.80 L114.50,164.80 L114.75,164.80 L115.00,164.80 L115.25,164.80 L115.50,164.80 L115.75,164.80 L116.00,164.80 L116.25,164.80 L116.50,164.80 L116.75,164.80 L117.00,164.80 L117.25,164.80 L117.50,164.80 L117.75,164.80 L118.00,164.80 L118.25,164.80 L118.50,164.80 L118.75,164.80 L119.00,164.80 L119.25,164.80 L119.50,164.80 L119.75,164.80 L120.00,164.80 L120.25,164.80 L120.50,164.80 L120.75,164.80 L121.00,164.80 L121.25,164.80 L121.50,164.80 L121.75,164.80 L122.00,164.80 L122.25,164.80 L122.50,164.80 L122.75,164.80 L123.00,164.80 L123.25,164.80 L123.50,164.80 L123.75,164.80 L124.00,164.80 L124.25,164.80 L124.50,164.80 L124.75,164.80 L125.00,164.80 L125.25,164.80 L125.50,164.80 L125.75,164.80 L126.00,164.80 L126.25,164.80 L126.50,164.80 L126.75,164.80 L127.00,164.80 L127.25,164.80 L127.50,164.80 L127.75,164.80 L128.00,164.80 L128.25,164.80 L128.50,164.80 L128.75,164.80 L129.00,164.80 L129.25,164.80 L129.50,164.80 L129.75,164.80 L130.00,164.80 L130.25,164.80 L130.50,164.80 L130.75,164.80 L131.00,164.80 L131.25,164.80 L131.50,164.80 L131.75,164.80 L132.00,164.80 L132.25,164.80 L132.50,164.80 L132.75,164.80 L133.00,164.80 L133.25,164.80 L133.50,164.80 L133.75,164.80 L134.00,164.80 L134.25,164.80 L134.50,164.80 L134.75,164.80 L135.00,164.80 L135.25,164.80 L135.50,164.80 L135.75,164.80 L136.00,164.80 L136.25,164.80 L136.50,164.80 L136.75,164.80 L137.00,164.80 L137.25,164.80 L137.50,164.80 L137.75,164.80 L138.00,164.80 L138.25,164.80 L138.50,164.80 L138.75,164.80 L139.00,164.80 L139.25,164.80 L139.50,164.80 L139.75,164.80 L140.00,164.80 L140.25,164.80 L140.50,164.80 L140.75,164.80 L141.00,164.80 L141.25,164.80 L141.50,164.80 L141.75,164.80 L142.00,164.80 L142.25,164.80 L142.50,164.80 L142.75,164.80 L143.00,164.80 L143.25,164.80 L143.50,164.80 L143.75,164.80 L144.00,164.80 L144.25,164.80 L144.50,164.80 L144.75,164.80 L145.00,164.80 L145.25,164.80 L145.50,164.80 L145.75,164.80 L146.00,164.80 L146.25,164.80 L146.50,164.80 L146.75,164.80 L147.00,164.80 L147.25,164.80 L147.50,164.80 L147.75,164.80 L148.00,164.80 L148.25,164.80 L148.50,164.80 L148.75,164.80 L149.00,164.80 L149.25,164.80 L149.50,164.80 L149.75,164.80 L150.00,164.80 L150.25,164.80 L150.50,164.80 L150.75,164.80 L151.00,164.80 L151.25,164.80 L151.50,164.80 L151.75,164.80 L152.00,164.80 L152.25,164.80 L152.50,164.80 L152.75,164.80 L153.00,164.80 L153.25,164.80 L153.50,164.80 L153.75,164.80 L154.00,164.80 L154.25,164.80 L154.50,164.80 L154.75,164.80 L155.00,164.80 L155.25,164.80 L155.50,164.80 L155.75,164.80 L156.00,164.80 L156.25,164.80 L156.50,164.80 L156.75,164.80 L157.00,164.80 L157.25,164.80 L157.50,164.80 L157.75,164.80 L158.00,164.80 L158.25,164.80 L158.50,164.80 L158.75,164.80 L159.00,164.80 L159.25,164.80 L159.50,164.80 L159.75,164.80 L160.00,164.80 L160.25,164.80 L160.50,164.80 L160.75,164.80 L161.00,164.80 L161.25,164.80 L161.50,164.80 L161.75,164.80 L162.00,164.80 L162.25,164.80 L162.50,164.80 L162.75,164.80 L163.00,164.80 L163.25,164.80 L163.50,164.80 L163.75,164.80 L164.00,164.80 L164.25,164.80 L164.50,164.80 L164.75,164.80 L165.00,164.80 L165.25,164.80 L165.50,164.80 L165.75,164.80 L166.00,164.80 L166.25,164.80 L166.50,164.80 L166.75,164.80 L167.00,164.80 L167.25,164.80 L167.50,164.80 L167.75,164.80 L168.00,164.80 L168.25,164.80 L168.50,164.80 L168.75,164.80 L169.00,164.80 L169.25,164.80 L169.50,164.80 L169.75,164.80 L170.00,164.80 L170.25,164.80 L170.50,164.80 L170.75,164.80 L171.00,164.80 L171.25,164.80 L171.50,164.80 L171.75,164.80 L172.00,164.80 L172.25,164.80 L172.50,164.80 L172.75,164.80 L173.00,164.80 L173.25,164.80 L173.50,164.80 L173.75,164.80 L174.00,164.80 L174.25,164.80 L174.50,164.80 L174.75,164.80 L175.00,164.80 L175.25,164.80 L175.50,164.80 L175.75,164.80 L176.00,164.80 L176.25,164.80 L176.50,164.80 L176.75,164.80 L177.00,164.80 L177.25,164.80 L177.50,164.80 L177.75,164.80 L178.00,164.80 L178.25,164.80 L178.50,164.80 L178.75,164.80 L179.00,164.80 L179.25,164.80 L179.50,164.80 L179.75,164.80 L180.00,164.80 L180.25,164.80 L180.50,164.80 L180.75,164.80 L181.00,164.80 L181.25,164.80 L181.50,164.80 L181.75,164.80 L182.00,164.80 L182.25,164.80 L182.50,164.80 L182.75,164.80 L183.00,164.80 L183.25,164.80 L183.50,164.80 L183.75,164.80 L184.00,164.80 L184.25,164.80 L184.50,164.80 L184.75,164.80 L185.00,164.80 L185.25,164.80 L185.50,164.80 L185.75,164.80 L186.00,164.80 L186.25,164.80 L186.50,164.80 L186.75,164.80 L187.00,164.80 L187.25,164.80 L187.50,164.80 L187.75,164.80 L188.00,164.80 L188.25,164.80 L188.50,164.80 L188.75,164.80 L189.00,164.80 L189.25,164.80 L189.50,164.80 L189.75,164.80 L190.00,164.80 L190.25,164.80 L190.50,164.80 L190.75,164.80 L191.00,164.80 L191.25,164.80 L191.50,164.80 L191.75,164.80 L192.00,164.80 L192.25,164.80 L192.50,164.80 L192.75,164.80 L193.00,164.80 L193.25,164.80 L193.50,164.80 L193.75,164.80 L194.00,164.80 L194.25,164.80 L194.50,164.80 L194.75,164.80 L195.00,164.80 L195.25,164.80 L195.50,164.80 L195.75,164.80 L196.00,164.80 L196.25,164.80 L196.50,164.80 L196.75,164.80 L197.00,164.80 L197.25,164.80 L197.50,164.80" fill="none" stroke="#111" stroke-width="1.4"/>
<path d="M28.50,210.60 L28.75,210.60 L29.00,210.60 L29.25,210.60 L29.50,210.60 L29.75,210.60 L30.00,210.60 L30.25,210.60 L30.50,210.60 L30.75,210.60 L31.00,210.60 L31.25,210.60 L31.50,210.60 L31.75,210.60 L32.00,210.60 L32.25,210.60 L32.50,210.60 L32.75,210.60 L33.00,210.60 L33.25,210.60 L33.50,210.60 L33.75,210.60 L34.00,210.60 L34.25,210.60 L34.50,210.60 L34.75,210.60 L35.00,210.60 L35.25,210.60 L35.50,210.60 L35.75,210.60 L36.00,210.60 L36.25,210.60 L36.50,210.60 L36.75,210.60 L37.00,210.60 L37.25,210.60 L37.50,210.60 L37.75,210.60 L38.00,210.60 L38.25,210.60 L38.50,210.60 L38.75,210.60 L39.00,210.60 L39.25,210.60 L39.50,210.60 L39.75,210.60 L40.00,210.60 L40.25,210.60 L40.50,210.60 L40.75,210.60 L41.00,210.60 L41.25,210.60 L41.50,210.60 L41.75,210.60 L42.00,210.60 L42.25,210.60 L42.50,210.60 L42.75,210.60 L43.00,210.60 L43.25,210.60 L43.50,210.60 L43.75,210.60 L44.00,210.60 L44.25,210.60 L44.50,210.60 L44.75,210.60 L45.00,210.60 L45.25,210.60 L45.50,210.60 L45.75,210.60 L46.00,210.60 L46.25,210.60 L46.50,210.60 L46.75,210.60 L47.00,210.60 L47.25,210.60 L47.50,210.60 L47.75,210.60 L48.00,210.60 L48.25,210.60 L48.50,210.60 L48.75,210.60 L49.00,210.60 L49.25,210.60 L49.50,210.60 L49.75,210.60 L50.00,210.60 L50.25,210.60 L50.50,210.60 L50.75,210.60 L51.00,210.60 L51.25,210.60 L51.50,210.60 L51.75,210.60 L52.00,210.60 L52.25,210.60 L52.50,210.60 L52.75,210.60 L53.00,210.60 L53.25,210.60 L53.50,210.60 L53.75,210.60 L54.00,210.60 L54.25,210.60 L54.50,210.60 L54.75,210.60 L55.00,210.60 L55.25,210.60 L55.50,210.60 L55.75,210.60 L56.00,210.60 L56.25,210.60 L56.50,210.60 L56.75,210.60 L57.00,210.60 L57.25,210.60 L57.50,210.60 L57.75,210.60 L58.00,210.60 L58.25,210.60 L58.50,210.60 L58.75,210.60 L59.00,210.60 L59.25,210.60 L59.50,210.60 L59.75,210.60 L60.00,210.60 L60.25,210.60 L60.50,210.60 L60.75,210.60 L61.00,210.60 L61.25,210.60 L61.50,210.60 L61.75,210.60 L62.00,210.60 L62.25,210.60 L62.50,210.60 L62.75,210.60 L63.00,210.60 L63.25,210.60 L63.50,210.60 L63.75,210.60 L64.00,210.60 L64.25,210.60 L64.50,210.60 L64.75,210.60 L65.00,210.60 L65.25,210.60 L65.50,210.60 L65.75,210.60 L66.00,210.60 L66.25,210.59 L66.50,210.59 L66.75,210.59 L67.00,210.58 L67.25,210.58 L67.50,210.57 L67.75,210.56 L68.00,210.55 L68.25,210.53 L68.50,210.50 L68.75,210.47 L69.00,210.42 L69.25,210.35 L69.50,210.26 L69.75,210.14 L70.00,209.97 L70.25,209.74 L70.50,209.43 L70.75,209.01 L71.00,208.45 L71.25,207.70 L71.50,206.71 L71.75,205.41 L72.00,203.73 L72.25,201.61 L72.50,198.98 L72.75,195.81 L73.00,192.12 L73.25,188.00 L73.50,183.60 L73.75,179.11 L74.00,174.75 L74.25,170.70 L74.50,167.12 L74.75,164.06 L75.00,161.53 L75.25,159.50 L75.50,157.90 L75.75,156.67 L76.00,155.73 L76.25,155.02 L76.50,154.50 L76.75,154.10 L77.00,153.81 L77.25,153.59 L77.50,153.44 L77.75,153.32 L78.00,153.23 L78.25,153.17 L78.50,153.13 L78.75,153.09 L79.00,153.07 L79.25,153.05 L79.50,153.04 L79.75,153.03 L80.00,153.02 L80.25,153.01 L80.50,153.01 L80.75,153.01 L81.00,153.01 L81.25,153.00 L81.50,153.00 L81.75,153.00 L82.00,153.00 L82.25,153.00 L82.50,153.00 L82.75,153.00 L83.00,153.00 L83.25,153.00 L83.50,153.00 L83.75,153.00 L84.00,153.00 L84.25,153.00 L84.50,153.00 L84.75,153.00 L85.00,153.00 L85.25,153.00 L85.50,153.00 L85.75,153.00 L86.00,153.00 L86.25,153.00 L86.50,153.00 L86.75,153.00 L87.00,153.00 L87.25,153.00 L87.50,153.00 L87.75,153.00 L88.00,153.00 L88.25,153.00 L88.50,153.00 L88.75,153.00 L89.00,153.00 L89.25,153.00 L89.50,153.00 L89.75,153.00 L90.00,153.00 L90.25,153.00 L90.50,153.00 L90.75,153.00 L91.00,153.00 L91.25,153.00 L91.50,153.00 L91.75,153.00 L92.00,153.00 L92.25,153.00 L92.50,153.00 L92.75,153.00 L93.00,153.00 L93.25,153.00 L93.50,153.00 L93.75,153.00 L94.00,153.00 L94.25,153.00 L94.50,153.00 L94.75,153.00 L95.00,153.00 L95.25,153.00 L95.50,153.00 L95.75,153.00 L96.00,153.00 L96.25,153.00 L96.50,153.00 L96.75,153.00 L97.00,153.00 L97.25,153.00 L97.50,153.00 L97.75,153.00 L98.00,153.00 L98.25,153.00 L98.50,153.00 L98.75,153.00 L99.00,153.00 L99.25,153.00 L99.50,153.00 L99.75,153.00 L100.00,153.00 L100.25,153.00 L100.50,153.00 L100.75,153.00 L101.00,153.00 L101.25,153.00 L101.50,153.00 L101.75,153.00 L102.00,153.00 L102.25,153.00 L102.50,153.00 L102.75,153.00 L103.00,153.00 L103.25,153.00 L103.50,153.00 L103.75,153.00 L104.00,153.00 L104.25,153.00 L104.50,153.00 L104.75,153.00 L105.00,153.00 L105.25,153.00 L105.50,153.00 L105.75,153.00 L106.00,153.00 L106.25,153.00 L106.50,153.00 L106.75,153.00 L107.00,153.00 L107.25,153.00 L107.50,153.00 L107.75,153.00 L108.00,153.00 L108.25,153.00 L108.50,153.00 L108.75,153.00 L109.00,153.00 L109.25,153.00 L109.50,153.00 L109.75,153.00 L110.00,153.00 L110.25,153.00 L110.50,153.00 L110.75,153.00 L111.00,153.00 L111.25,153.00 L111.50,153.00 L111.75,153.00 L112.00,153.00 L112.25,153.00 L112.50,153.00 L112.75,153.00 L113.00,153.00 L113.25,153.00 L113.50,153.00 L113.75,153.00 L114.00,153.00 L114.25,153.00 L114.50,153.00 L114.75,153.00 L115.00,153.00 L115.25,153.00 L115.50,153.00 L115.75,153.00 L116.00,153.00 L116.25,153.00 L116.50,153.00 L116.75,153.00 L117.00,153.00 L117.25,153.00 L117.50,153.00 L117.75,153.00 L118.00,153.00 L118.25,153.00 L118.50,153.00 L118.75,153.00 L119.00,153.00 L119.25,153.00 L119.50,153.00 L119.75,153.00 L120.00,153.00 L120.25,153.00 L120.50,153.00 L120.75,153.00 L121.00,153.00 L121.25,153.00 L121.50,153.00 L121.75,153.00 L122.00,153.00 L122.25,153.00 L122.50,153.00 L122.75,153.00 L123.00,153.00 L123.25,153.00 L123.50,153.00 L123.75,153.00 L124.00,153.00 L124.25,153.00 L124.50,153.00 L124.75,153.00 L125.00,153.00 L125.25,153.00 L125.50,153.00 L125.75,153.00 L126.00,153.00 L126.25,153.00 L126.50,153.00 L126.75,153.00 L127.00,153.00 L127.25,153.00 L127.50,153.00 L127.75,153.00 L128.00,153.00 L128.25,153.00 L128.50,153.00 L128.75,153.00 L129.00,153.00 L129.25,153.00 L129.50,153.00 L129.75,153.00 L130.00,153.00 L130.25,153.00 L130.50,153.00 L130.75,153.00 L131.00,153.00 L131.25,153.00 L131.50,153.00 L131.75,153.00 L132.00,153.00 L132.25,153.00 L132.50,153.00 L132.75,153.00 L133.00,153.00 L133.25,153.00 L133.50,153.00 L133.75,153.00 L134.00,153.00 L134.25,153.00 L134.50,153.00 L134.75,153.00 L135.00,153.00 L135.25,153.00 L135.50,153.00 L135.75,153.00 L136.00,153.00 L136.25,153.00 L136.50,153.00 L136.75,153.00 L137.00,153.00 L137.25,153.00 L137.50,153.00 L137.75,153.00 L138.00,153.00 L138.25,153.00 L138.50,153.00 L138.75,153.00 L139.00,153.00 L139.25,153.00 L139.50,153.00 L139.75,153.00 L140.00,153.00 L140.25,153.00 L140.50,153.00 L140.75,153.00 L141.00,153.00 L141.25,153.00 L141.50,153.00 L141.75,153.00 L142.00,153.00 L142.25,153.00 L142.50,153.00 L142.75,153.00 L143.00,153.00 L143.25,153.00 L143.50,153.00 L143.75,153.00 L144.00,153.00 L144.25,153.00 L144.50,153.00 L144.75,153.00 L145.00,153.00 L145.25,153.00 L145.50,153.00 L145.75,153.00 L146.00,153.00 L146.25,153.00 L146.50,153.00 L146.75,153.00 L147.00,153.00 L147.25,153.00 L147.50,153.00 L147.75,153.00 L148.00,153.00 L148.25,153.00 L148.50,153.00 L148.75,153.00 L149.00,153.00 L149.25,153.00 L149.50,153.00 L149.75,153.00 L150.00,153.00 L150.25,153.00 L150.50,153.00 L150.75,153.00 L151.00,153.00 L151.25,153.00 L151.50,153.00 L151.75,153.00 L152.00,153.00 L152.25,153.00 L152.50,153.00 L152.75,153.00 L153.00,153.00 L153.25,153.00 L153.50,153.00 L153.75,153.00 L154.00,153.00 L154.25,153.00 L154.50,153.00 L154.75,153.00 L155.00,153.00 L155.25,153.00 L155.50,153.00 L155.75,153.00 L156.00,153.00 L156.25,153.00 L156.50,153.00 L156.75,153.00 L157.00,153.00 L157.25,153.00 L157.50,153.00 L157.75,153.00 L158.00,153.00 L158.25,153.00 L158.50,153.00 L158.75,153.00 L159.00,153.00 L159.25,153.00 L159.50,153.00 L159.75,153.00 L160.00,153.00 L160.25,153.00 L160.50,153.00 L160.75,153.00 L161.00,153.00 L161.25,153.00 L161.50,153.00 L161.75,153.00 L162.00,153.00 L162.25,153.00 L162.50,153.00 L162.75,153.00 L163.00,153.00 L163.25,153.00 L163.50,153.00 L163.75,153.00 L164.00,153.00 L164.25,153.00 L164.50,153.00 L164.75,153.00 L165.00,153.00 L165.25,153.00 L165.50,153.00 L165.75,153.00 L166.00,153.00 L166.25,153.00 L166.50,153.00 L166.75,153.00 L167.00,153.00 L167.25,153.00 L167.50,153.00 L167.75,153.00 L168.00,153.00 L168.25,153.00 L168.50,153.00 L168.75,153.00 L169.00,153.00 L169.25,153.00 L169.50,153.00 L169.75,153.00 L170.00,153.00 L170.25,153.00 L170.50,153.00 L170.75,153.00 L171.00,153.00 L171.25,153.00 L171.50,153.00 L171.75,153.00 L172.00,153.00 L172.25,153.00 L172.50,153.00 L172.75,153.00 L173.00,153.00 L173.25,153.00 L173.50,153.00 L173.75,153.00 L174.00,153.00 L174.25,153.00 L174.50,153.00 L174.75,153.00 L175.00,153.00 L175.25,153.00 L175.50,153.00 L175.75,153.00 L176.00,153.00 L176.25,153.00 L176.50,153.00 L176.75,153.00 L177.00,153.00 L177.25,153.00 L177.50,153.00 L177.75,153.00 L178.00,153.00 L178.25,153.00 L178.50,153.00 L178.75,153.00 L179.00,153.00 L179.25,153.00 L179.50,153.00 L179.75,153.00 L180.00,153.00 L180.25,153.00 L180.50,153.00 L180.75,153.00 L181.00,153.00 L181.25,153.00 L181.50,153.00 L181.75,153.00 L182.00,153.00 L182.25,153.00 L182.50,153.00 L182.75,153.00 L183.00,153.00 L183.25,153.00 L183.50,153.00 L183.75,153.00 L184.00,153.00 L184.25,153.00 L184.50,153.00 L184.75,153.00 L185.00,153.00 L185.25,153.00 L185.50,153.00 L185.75,153.00 L186.00,153.00 L186.25,153.00 L186.50,153.00 L186.75,153.00 L187.00,153.00 L187.25,153.00 L187.50,153.00 L187.75,153.00 L188.00,153.00 L188.25,153.00 L188.50,153.00 L188.75,153.00 L189.00,153.00 L189.25,153.00 L189.50,153.00 L189.75,153.00 L190.00,153.00 L190.25,153.00 L190.50,153.00 L190.75,153.00 L191.00,153.00 L191.25,153.00 L191.50,153.00 L191.75,153.00 L192.00,153.00 L192.25,153.00 L192.50,153.00 L192.75,153.00 L193.00,153.00 L193.25,153.00 L193.50,153.00 L193.75,153.00 L194.00,153.00 L194.25,153.00 L194.50,153.00 L194.75,153.00 L195.00,153.00 L195.25,153.00 L195.50,153.00 L195.75,153.00 L196.00,153.00 L196.25,153.00 L196.50,153.00 L196.75,153.00 L197.00,153.00 L197.25,153.00 L197.50,153.00" fill="none" stroke="#111" stroke-width="1.4"/>
<path d="M28.50,210.60 L28.75,210.60 L29.00,210.60 L29.25,210.60 L29.50,210.60 L29.75,210.60 L30.00,210.60 L30.25,210.60 L30.50,210.60 L30.75,210.60 L31.00,210.60 L31.25,210.60 L31.50,210.60 L31.75,210.60 L32.00,210.60 L32.25,210.60 L32.50,210.60 L32.75,210.60 L33.00,210.60 L33.25,210.60 L33.50,210.60 L33.75,210.60 L34.00,210.60 L34.25,210.60 L34.50,210.60 L34.75,210.60 L35.00,210.60 L35.25,210.60 L35.50,210.60 L35.75,210.60 L36.00,210.60 L36.25,210.60 L36.50,210.60 L36.75,210.60 L37.00,210.60 L37.25,210.60 L37.50,210.60 L37.75,210.60 L38.00,210.60 L38.25,210.60 L38.50,210.60 L38.75,210.60 L39.00,210.60 L39.25,210.60 L39.50,210.60 L39.75,210.60 L40.00,210.60 L40.25,210.60 L40.50,210.60 L40.75,210.60 L41.00,210.60 L41.25,210.60 L41.50,210.60 L41.75,210.60 L42.00,210.60 L42.25,210.60 L42.50,210.60 L42.75,210.60 L43.00,210.60 L43.25,210.60 L43.50,210.60 L43.75,210.60 L44.00,210.60 L44.25,210.60 L44.50,210.60 L44.75,210.60 L45.00,210.60 L45.25,210.60 L45.50,210.60 L45.75,210.60 L46.00,210.60 L46.25,210.60 L46.50,210.60 L46.75,210.60 L47.00,210.60 L47.25,210.60 L47.50,210.60 L47.75,210.60 L48.00,210.60 L48.25,210.60 L48.50,210.60 L48.75,210.60 L49.00,210.60 L49.25,210.60 L49.50,210.60 L49.75,210.60 L50.00,210.60 L50.25,210.60 L50.50,210.60 L50.75,210.60 L51.00,210.60 L51.25,210.60 L51.50,210.60 L51.75,210.60 L52.00,210.60 L52.25,210.60 L52.50,210.60 L52.75,210.60 L53.00,210.60 L53.25,210.60 L53.50,210.60 L53.75,210.60 L54.00,210.60 L54.25,210.60 L54.50,210.60 L54.75,210.60 L55.00,210.60 L55.25,210.60 L55.50,210.60 L55.75,210.60 L56.00,210.60 L56.25,210.60 L56.50,210.60 L56.75,210.60 L57.00,210.60 L57.25,210.60 L57.50,210.60 L57.75,210.60 L58.00,210.60 L58.25,210.60 L58.50,210.60 L58.75,210.60 L59.00,210.60 L59.25,210.60 L59.50,210.60 L59.75,210.60 L60.00,210.60 L60.25,210.60 L60.50,210.60 L60.75,210.60 L61.00,210.60 L61.25,210.60 L61.50,210.60 L61.75,210.60 L62.00,210.60 L62.25,210.60 L62.50,210.60 L62.75,210.60 L63.00,210.60 L63.25,210.60 L63.50,210.60 L63.75,210.60 L64.00,210.60 L64.25,210.60 L64.50,210.60 L64.75,210.60 L65.00,210.60 L65.25,210.60 L65.50,210.60 L65.75,210.60 L66.00,210.60 L66.25,210.60 L66.50,210.60 L66.75,210.60 L67.00,210.60 L67.25,210.60 L67.50,210.60 L67.75,210.60 L68.00,210.60 L68.25,210.60 L68.50,210.60 L68.75,210.60 L69.00,210.60 L69.25,210.60 L69.50,210.60 L69.75,210.60 L70.00,210.60 L70.25,210.60 L70.50,210.60 L70.75,210.60 L71.00,210.60 L71.25,210.60 L71.50,210.60 L71.75,210.60 L72.00,210.60 L72.25,210.60 L72.50,210.60 L72.75,210.60 L73.00,210.60 L73.25,210.60 L73.50,210.60 L73.75,210.60 L74.00,210.60 L74.25,210.60 L74.50,210.60 L74.75,210.60 L75.00,210.60 L75.25,210.60 L75.50,210.60 L75.75,210.60 L76.00,210.59 L76.25,210.59 L76.50,210.59 L76.75,210.59 L77.00,210.58 L77.25,210.58 L77.50,210.57 L77.75,210.56 L78.00,210.55 L78.25,210.54 L78.50,210.52 L78.75,210.50 L79.00,210.47 L79.25,210.44 L79.50,210.39 L79.75,210.33 L80.00,210.25 L80.25,210.16 L80.50,210.03 L80.75,209.88 L81.00,209.68 L81.25,209.42 L81.50,209.10 L81.75,208.70 L82.00,208.19 L82.25,207.56 L82.50,206.78 L82.75,205.83 L83.00,204.68 L83.25,203.32 L83.50,201.73 L83.75,199.92 L84.00,197.89 L84.25,195.69 L84.50,193.36 L84.75,190.97 L85.00,188.60 L85.25,186.31 L85.50,184.17 L85.75,182.23 L86.00,180.50 L86.25,179.01 L86.50,177.73 L86.75,176.67 L87.00,175.79 L87.25,175.07 L87.50,174.50 L87.75,174.03 L88.00,173.66 L88.25,173.37 L88.50,173.14 L88.75,172.96 L89.00,172.81 L89.25,172.70 L89.50,172.61 L89.75,172.54 L90.00,172.49 L90.25,172.45 L90.50,172.42 L90.75,172.39 L91.00,172.37 L91.25,172.35 L91.50,172.34 L91.75,172.33 L92.00,172.33 L92.25,172.32 L92.50,172.32 L92.75,172.31 L93.00,172.31 L93.25,172.31 L93.50,172.31 L93.75,172.30 L94.00,172.30 L94.25,172.30 L94.50,172.30 L94.75,172.30 L95.00,172.30 L95.25,172.30 L95.50,172.30 L95.75,172.30 L96.00,172.30 L96.25,172.30 L96.50,172.30 L96.75,172.30 L97.00,172.30 L97.25,172.30 L97.50,172.30 L97.75,172.30 L98.00,172.30 L98.25,172.30 L98.50,172.30 L98.75,172.30 L99.00,172.30 L99.25,172.30 L99.50,172.30 L99.75,172.30 L100.00,172.30 L100.25,172.30 L100.50,172.30 L100.75,172.30 L101.00,172.30 L101.25,172.30 L101.50,172.30 L101.75,172.30 L102.00,172.30 L102.25,172.30 L102.50,172.30 L102.75,172.30 L103.00,172.30 L103.25,172.30 L103.50,172.30 L103.75,172.30 L104.00,172.30 L104.25,172.30 L104.50,172.30 L104.75,172.30 L105.00,172.30 L105.25,172.30 L105.50,172.30 L105.75,172.30 L106.00,172.30 L106.25,172.30 L106.50,172.30 L106.75,172.30 L107.00,172.30 L107.25,172.30 L107.50,172.30 L107.75,172.30 L108.00,172.30 L108.25,172.30 L108.50,172.30 L108.75,172.30 L109.00,172.30 L109.25,172.30 L109.50,172.30 L109.75,172.30 L110.00,172.30 L110.25,172.30 L110.50,172.30 L110.75,172.30 L111.00,172.30 L111.25,172.30 L111.50,172.30 L111.75,172.30 L112.00,172.30 L112.25,172.30 L112.50,172.30 L112.75,172.30 L113.00,172.30 L113.25,172.30 L113.50,172.30 L113.75,172.30 L114.00,172.30 L114.25,172.30 L114.50,172.30 L114.75,172.30 L115.00,172.30 L115.25,172.30 L115.50,172.30 L115.75,172.30 L116.00,172.30 L116.25,172.30 L116.50,172.30 L116.75,172.30 L117.00,172.30 L117.25,172.30 L117.50,172.30 L117.75,172.30 L118.00,172.30 L118.25,172.30 L118.50,172.30 L118.75,172.30 L119.00,172.30 L119.25,172.30 L119.50,172.30 L119.75,172.30 L120.00,172.30 L120.25,172.30 L120.50,172.30 L120.75,172.30 L121.00,172.30 L121.25,172.30 L121.50,172.30 L121.75,172.30 L122.00,172.30 L122.25,172.30 L122.50,172.30 L122.75,172.30 L123.00,172.30 L123.25,172.30 L123.50,172.30 L123.75,172.30 L124.00,172.30 L124.25,172.30 L124.50,172.30 L124.75,172.30 L125.00,172.30 L125.25,172.30 L125.50,172.30 L125.75,172.30 L126.00,172.30 L126.25,172.30 L126.50,172.30 L126.75,172.30 L127.00,172.30 L127.25,172.30 L127.50,172.30 L127.75,172.30 L128.00,172.30 L128.25,172.30 L128.50,172.30 L128.75,172.30 L129.00,172.30 L129.25,172.30 L129.50,172.30 L129.75,172.30 L130.00,172.30 L130.25,172.30 L130.50,172.30 L130.75,172.30 L131.00,172.30 L131.25,172.30 L131.50,172.30 L131.75,172.30 L132.00,172.30 L132.25,172.30 L132.50,172.30 L132.75,172.30 L133.00,172.30 L133.25,172.30 L133.50,172.30 L133.75,172.30 L134.00,172.30 L134.25,172.30 L134.50,172.30 L134.75,172.30 L135.00,172.30 L135.25,172.30 L135.50,172.30 L135.75,172.30 L136.00,172.30 L136.25,172.30 L136.50,172.30 L136.75,172.30 L137.00,172.30 L137.25,172.30 L137.50,172.30 L137.75,172.30 L138.00,172.30 L138.25,172.30 L138.50,172.30 L138.75,172.30 L139.00,172.30 L139.25,172.30 L139.50,172.30 L139.75,172.30 L140.00,172.30 L140.25,172.30 L140.50,172.30 L140.75,172.30 L141.00,172.30 L141.25,172.30 L141.50,172.30 L141.75,172.30 L142.00,172.30 L142.25,172.30 L142.50,172.30 L142.75,172.30 L143.00,172.30 L143.25,172.30 L143.50,172.30 L143.75,172.30 L144.00,172.30 L144.25,172.30 L144.50,172.30 L144.75,172.30 L145.00,172.30 L145.25,172.30 L145.50,172.30 L145.75,172.30 L146.00,172.30 L146.25,172.30 L146.50,172.30 L146.75,172.30 L147.00,172.30 L147.25,172.30 L147.50,172.30 L147.75,172.30 L148.00,172.30 L148.25,172.30 L148.50,172.30 L148.75,172.30 L149.00,172.30 L149.25,172.30 L149.50,172.30 L149.75,172.30 L150.00,172.30 L150.25,172.30 L150.50,172.30 L150.75,172.30 L151.00,172.30 L151.25,172.30 L151.50,172.30 L151.75,172.30 L152.00,172.30 L152.25,172.30 L152.50,172.30 L152.75,172.30 L153.00,172.30 L153.25,172.30 L153.50,172.30 L153.75,172.30 L154.00,172.30 L154.25,172.30 L154.50,172.30 L154.75,172.30 L155.00,172.30 L155.25,172.30 L155.50,172.30 L155.75,172.30 L156.00,172.30 L156.25,172.30 L156.50,172.30 L156.75,172.30 L157.00,172.30 L157.25,172.30 L157.50,172.30 L157.75,172.30 L158.00,172.30 L158.25,172.30 L158.50,172.30 L158.75,172.30 L159.00,172.30 L159.25,172.30 L159.50,172.30 L159.75,172.30 L160.00,172.30 L160.25,172.30 L160.50,172.30 L160.75,172.30 L161.00,172.30 L161.25,172.30 L161.50,172.30 L161.75,172.30 L162.00,172.30 L162.25,172.30 L162.50,172.30 L162.75,172.30 L163.00,172.30 L163.25,172.30 L163.50,172.30 L163.75,172.30 L164.00,172.30 L164.25,172.30 L164.50,172.30 L164.75,172.30 L165.00,172.30 L165.25,172.30 L165.50,172.30 L165.75,172.30 L166.00,172.30 L166.25,172.30 L166.50,172.30 L166.75,172.30 L167.00,172.30 L167.25,172.30 L167.50,172.30 L167.75,172.30 L168.00,172.30 L168.25,172.30 L168.50,172.30 L168.75,172.30 L169.00,172.30 L169.25,172.30 L169.50,172.30 L169.75,172.30 L170.00,172.30 L170.25,172.30 L170.50,172.30 L170.75,172.30 L171.00,172.30 L171.25,172.30 L171.50,172.30 L171.75,172.30 L172.00,172.30 L172.25,172.30 L172.50,172.30 L172.75,172.30 L173.00,172.30 L173.25,172.30 L173.50,172.30 L173.75,172.30 L174.00,172.30 L174.25,172.30 L174.50,172.30 L174.75,172.30 L175.00,172.30 L175.25,172.30 L175.50,172.30 L175.75,172.30 L176.00,172.30 L176.25,172.30 L176.50,172.30 L176.75,172.30 L177.00,172.30 L177.25,172.30 L177.50,172.30 L177.75,172.30 L178.00,172.30 L178.25,172.30 L178.50,172.30 L178.75,172.30 L179.00,172.30 L179.25,172.30 L179.50,172.30 L179.75,172.30 L180.00,172.30 L180.25,172.30 L180.50,172.30 L180.75,172.30 L181.00,172.30 L181.25,172.30 L181.50,172.30 L181.75,172.30 L182.00,172.30 L182.25,172.30 L182.50,172.30 L182.75,172.30 L183.00,172.30 L183.25,172.30 L183.50,172.30 L183.75,172.30 L184.00,172.30 L184.25,172.30 L184.50,172.30 L184.75,172.30 L185.00,172.30 L185.25,172.30 L185.50,172.30 L185.75,172.30 L186.00,172.30 L186.25,172.30 L186.50,172.30 L186.75,172.30 L187.00,172.30 L187.25,172.30 L187.50,172.30 L187.75,172.30 L188.00,172.30 L188.25,172.30 L188.50,172.30 L188.75,172.30 L189.00,172.30 L189.25,172.30 L189.50,172.30 L189.75,172.30 L190.00,172.30 L190.25,172.30 L190.50,172.30 L190.75,172.30 L191.00,172.30 L191.25,172.30 L191.50,172.30 L191.75,172.30 L192.00,172.30 L192.25,172.30 L192.50,172.30 L192.75,172.30 L193.00,172.30 L193.25,172.30 L193.50,172.30 L193.75,172.30 L194.00,172.30 L194.25,172.30 L194.50,172.30 L194.75,172.30 L195.00,172.30 L195.25,172.30 L195.50,172.30 L195.75,172.30 L196.00,172.30 L196.25,172.30 L196.50,172.30 L196.75,172.30 L197.00,172.30 L197.25,172.30 L197.50,172.30" fill="none" stroke="#111" stroke-width="1.4"/>
<path d="M28.50,210.60 L28.75,210.60 L29.00,210.60 L29.25,210.60 L29.50,210.60 L29.75,210.60 L30.00,210.60 L30.25,210.60 L30.50,210.60 L30.75,210.60 L31.00,210.60 L31.25,210.60 L31.50,210.60 L31.75,210.60 L32.00,210.60 L32.25,210.60 L32.50,210.60 L32.75,210.60 L33.00,210.60 L33.25,210.60 L33.50,210.60 L33.75,210.60 L34.00,210.60 L34.25,210.60 L34.50,210.60 L34.75,210.60 L35.00,210.60 L35.25,210.60 L35.50,210.60 L35.75,210.60 L36.00,210.60 L36.25,210.60 L36.50,210.60 L36.75,210.60 L37.00,210.60 L37.25,210.60 L37.50,210.60 L37.75,210.60 L38.00,210.60 L38.25,210.60 L38.50,210.60 L38.75,210.60 L39.00,210.60 L39.25,210.60 L39.50,210.60 L39.75,210.60 L40.00,210.60 L40.25,210.60 L40.50,210.60 L40.75,210.60 L41.00,210.60 L41.25,210.60 L41.50,210.60 L41.75,210.60 L42.00,210.60 L42.25,210.60 L42.50,210.60 L42.75,210.60 L43.00,210.60 L43.25,210.60 L43.50,210.60 L43.75,210.60 L44.00,210.60 L44.25,210.60 L44.50,210.60 L44.75,210.60 L45.00,210.60 L45.25,210.60 L45.50,210.60 L45.75,210.60 L46.00,210.60 L46.25,210.60 L46.50,210.60 L46.75,210.60 L47.00,210.60 L47.25,210.60 L47.50,210.60 L47.75,210.60 L48.00,210.60 L48.25,210.60 L48.50,210.60 L48.75,210.60 L49.00,210.60 L49.25,210.60 L49.50,210.60 L49.75,210.60 L50.00,210.60 L50.25,210.60 L50.50,210.60 L50.75,210.60 L51.00,210.60 L51.25,210.60 L51.50,210.60 L51.75,210.60 L52.00,210.60 L52.25,210.60 L52.50,210.60 L52.75,210.60 L53.00,210.60 L53.25,210.60 L53.50,210.60 L53.75,210.60 L54.00,210.60 L54.25,210.60 L54.50,210.60 L54.75,210.60 L55.00,210.60 L55.25,210.60 L55.50,210.60 L55.75,210.60 L56.00,210.60 L56.25,210.60 L56.50,210.60 L56.75,210.60 L57.00,210.60 L57.25,210.60 L57.50,210.60 L57.75,210.60 L58.00,210.60 L58.25,210.60 L58.50,210.60 L58.75,210.60 L59.00,210.60 L59.25,210.60 L59.50,210.60 L59.75,210.60 L60.00,210.60 L60.25,210.60 L60.50,210.60 L60.75,210.60 L61.00,210.60 L61.25,210.60 L61.50,210.60 L61.75,210.60 L62.00,210.60 L62.25,210.60 L62.50,210.60 L62.75,210.60 L63.00,210.60 L63.25,210.60 L63.50,210.60 L63.75,210.60 L64.00,210.60 L64.25,210.60 L64.50,210.60 L64.75,210.60 L65.00,210.60 L65.25,210.60 L65.50,210.60 L65.75,210.60 L66.00,210.60 L66.25,210.60 L66.50,210.60 L66.75,210.60 L67.00,210.60 L67.25,210.60 L67.50,210.60 L67.75,210.60 L68.00,210.60 L68.25,210.60 L68.50,210.60 L68.75,210.60 L69.00,210.60 L69.25,210.60 L69.50,210.60 L69.75,210.60 L70.00,210.60 L70.25,210.60 L70.50,210.60 L70.75,210.60 L71.00,210.60 L71.25,210.60 L71.50,210.60 L71.75,210.60 L72.00,210.60 L72.25,210.60 L72.50,210.60 L72.75,210.60 L73.00,210.60 L73.25,210.60 L73.50,210.60 L73.75,210.60 L74.00,210.60 L74.25,210.60 L74.50,210.60 L74.75,210.60 L75.00,210.60 L75.25,210.60 L75.50,210.60 L75.75,210.60 L76.00,210.60 L76.25,210.60 L76.50,210.60 L76.75,210.60 L77.00,210.60 L77.25,210.60 L77.50,210.60 L77.75,210.60 L78.00,210.60 L78.25,210.60 L78.50,210.60 L78.75,210.60 L79.00,210.60 L79.25,210.60 L79.50,210.60 L79.75,210.60 L80.00,210.60 L80.25,210.60 L80.50,210.60 L80.75,210.60 L81.00,210.60 L81.25,210.60 L81.50,210.60 L81.75,210.60 L82.00,210.60 L82.25,210.60 L82.50,210.60 L82.75,210.60 L83.00,210.60 L83.25,210.60 L83.50,210.60 L83.75,210.60 L84.00,210.60 L84.25,210.60 L84.50,210.60 L84.75,210.60 L85.00,210.60 L85.25,210.59 L85.50,210.59 L85.75,210.59 L86.00,210.59 L86.25,210.59 L86.50,210.59 L86.75,210.59 L87.00,210.58 L87.25,210.58 L87.50,210.58 L87.75,210.57 L88.00,210.57 L88.25,210.56 L88.50,210.55 L88.75,210.54 L89.00,210.53 L89.25,210.52 L89.50,210.51 L89.75,210.49 L90.00,210.47 L90.25,210.45 L90.50,210.42 L90.75,210.39 L91.00,210.35 L91.25,210.31 L91.50,210.25 L91.75,210.19 L92.00,210.12 L92.25,210.03 L92.50,209.93 L92.75,209.81 L93.00,209.67 L93.25,209.51 L93.50,209.32 L93.75,209.10 L94.00,208.83 L94.25,208.53 L94.50,208.18 L94.75,207.76 L95.00,207.29 L95.25,206.75 L95.50,206.12 L95.75,205.41 L96.00,204.60 L96.25,203.69 L96.50,202.67 L96.75,201.54 L97.00,200.30 L97.25,198.94 L97.50,197.49 L97.75,195.93 L98.00,194.30 L98.25,192.60 L98.50,190.86 L98.75,189.10 L99.00,187.34 L99.25,185.62 L99.50,183.94 L99.75,182.34 L100.00,180.82 L100.25,179.40 L100.50,178.09 L100.75,176.89 L101.00,175.81 L101.25,174.83 L101.50,173.97 L101.75,173.20 L102.00,172.52 L102.25,171.93 L102.50,171.41 L102.75,170.96 L103.00,170.58 L103.25,170.24 L103.50,169.96 L103.75,169.71 L104.00,169.50 L104.25,169.32 L104.50,169.17 L104.75,169.04 L105.00,168.92 L105.25,168.83 L105.50,168.75 L105.75,168.68 L106.00,168.62 L106.25,168.57 L106.50,168.53 L106.75,168.50 L107.00,168.47 L107.25,168.44 L107.50,168.42 L107.75,168.40 L108.00,168.39 L108.25,168.37 L108.50,168.36 L108.75,168.35 L109.00,168.34 L109.25,168.34 L109.50,168.33 L109.75,168.33 L110.00,168.32 L110.25,168.32 L110.50,168.32 L110.75,168.31 L111.00,168.31 L111.25,168.31 L111.50,168.31 L111.75,168.31 L112.00,168.31 L112.25,168.31 L112.50,168.30 L112.75,168.30 L113.00,168.30 L113.25,168.30 L113.50,168.30 L113.75,168.30 L114.00,168.30 L114.25,168.30 L114.50,168.30 L114.75,168.30 L115.00,168.30 L115.25,168.30 L115.50,168.30 L115.75,168.30 L116.00,168.30 L116.25,168.30 L116.50,168.30 L116.75,168.30 L117.00,168.30 L117.25,168.30 L117.50,168.30 L117.75,168.30 L118.00,168.30 L118.25,168.30 L118.50,168.30 L118.75,168.30 L119.00,168.30 L119.25,168.30 L119.50,168.30 L119.75,168.30 L120.00,168.30 L120.25,168.30 L120.50,168.30 L120.75,168.30 L121.00,168.30 L121.25,168.30 L121.50,168.30 L121.75,168.30 L122.00,168.30 L122.25,168.30 L122.50,168.30 L122.75,168.30 L123.00,168.30 L123.25,168.30 L123.50,168.30 L123.75,168.30 L124.00,168.30 L124.25,168.30 L124.50,168.30 L124.75,168.30 L125.00,168.30 L125.25,168.30 L125.50,168.30 L125.75,168.30 L126.00,168.30 L126.25,168.30 L126.50,168.30 L126.75,168.30 L127.00,168.30 L127.25,168.30 L127.50,168.30 L127.75,168.30 L128.00,168.30 L128.25,168.30 L128.50,168.30 L128.75,168.30 L129.00,168.30 L129.25,168.30 L129.50,168.30 L129.75,168.30 L130.00,168.30 L130.25,168.30 L130.50,168.30 L130.75,168.30 L131.00,168.30 L131.25,168.30 L131.50,168.30 L131.75,168.30 L132.00,168.30 L132.25,168.30 L132.50,168.30 L132.75,168.30 L133.00,168.30 L133.25,168.30 L133.50,168.30 L133.75,168.30 L134.00,168.30 L134.25,168.30 L134.50,168.30 L134.75,168.30 L135.00,168.30 L135.25,168.30 L135.50,168.30 L135.75,168.30 L136.00,168.30 L136.25,168.30 L136.50,168.30 L136.75,168.30 L137.00,168.30 L137.25,168.30 L137.50,168.30 L137.75,168.30 L138.00,168.30 L138.25,168.30 L138.50,168.30 L138.75,168.30 L139.00,168.30 L139.25,168.30 L139.50,168.30 L139.75,168.30 L140.00,168.30 L140.25,168.30 L140.50,168.30 L140.75,168.30 L141.00,168.30 L141.25,168.30 L141.50,168.30 L141.75,168.30 L142.00,168.30 L142.25,168.30 L142.50,168.30 L142.75,168.30 L143.00,168.30 L143.25,168.30 L143.50,168.30 L143.75,168.30 L144.00,168.30 L144.25,168.30 L144.50,168.30 L144.75,168.30 L145.00,168.30 L145.25,168.30 L145.50,168.30 L145.75,168.30 L146.00,168.30 L146.25,168.30 L146.50,168.30 L146.75,168.30 L147.00,168.30 L147.25,168.30 L147.50,168.30 L147.75,168.30 L148.00,168.30 L148.25,168.30 L148.50,168.30 L148.75,168.30 L149.00,168.30 L149.25,168.30 L149.50,168.30 L149.75,168.30 L150.00,168.30 L150.25,168.30 L150.50,168.30 L150.75,168.30 L151.00,168.30 L151.25,168.30 L151.50,168.30 L151.75,168.30 L152.00,168.30 L152.25,168.30 L152.50,168.30 L152.75,168.30 L153.00,168.30 L153.25,168.30 L153.50,168.30 L153.75,168.30 L154.00,168.30 L154.25,168.30 L154.50,168.30 L154.75,168.30 L155.00,168.30 L155.25,168.30 L155.50,168.30 L155.75,168.30 L156.00,168.30 L156.25,168.30 L156.50,168.30 L156.75,168.30 L157.00,168.30 L157.25,168.30 L157.50,168.30 L157.75,168.30 L158.00,168.30 L158.25,168.30 L158.50,168.30 L158.75,168.30 L159.00,168.30 L159.25,168.30 L159.50,168.30 L159.75,168.30 L160.00,168.30 L160.25,168.30 L160.50,168.30 L160.75,168.30 L161.00,168.30 L161.25,168.30 L161.50,168.30 L161.75,168.30 L162.00,168.30 L162.25,168.30 L162.50,168.30 L162.75,168.30 L163.00,168.30 L163.25,168.30 L163.50,168.30 L163.75,168.30 L164.00,168.30 L164.25,168.30 L164.50,168.30 L164.75,168.30 L165.00,168.30 L165.25,168.30 L165.50,168.30 L165.75,168.30 L166.00,168.30 L166.25,168.30 L166.50,168.30 L166.75,168.30 L167.00,168.30 L167.25,168.30 L167.50,168.30 L167.75,168.30 L168.00,168.30 L168.25,168.30 L168.50,168.30 L168.75,168.30 L169.00,168.30 L169.25,168.30 L169.50,168.30 L169.75,168.30 L170.00,168.30 L170.25,168.30 L170.50,168.30 L170.75,168.30 L171.00,168.30 L171.25,168.30 L171.50,168.30 L171.75,168.30 L172.00,168.30 L172.25,168.30 L172.50,168.30 L172.75,168.30 L173.00,168.30 L173.25,168.30 L173.50,168.30 L173.75,168.30 L174.00,168.30 L174.25,168.30 L174.50,168.30 L174.75,168.30 L175.00,168.30 L175.25,168.30 L175.50,168.30 L175.75,168.30 L176.00,168.30 L176.25,168.30 L176.50,168.30 L176.75,168.30 L177.00,168.30 L177.25,168.30 L177.50,168.30 L177.75,168.30 L178.00,168.30 L178.25,168.30 L178.50,168.30 L178.75,168.30 L179.00,168.30 L179.25,168.30 L179.50,168.30 L179.75,168.30 L180.00,168.30 L180.25,168.30 L180.50,168.30 L180.75,168.30 L181.00,168.30 L181.25,168.30 L181.50,168.30 L181.75,168.30 L182.00,168.30 L182.25,168.30 L182.50,168.30 L182.75,168.30 L183.00,168.30 L183.25,168.30 L183.50,168.30 L183.75,168.30 L184.00,168.30 L184.25,168.30 L184.50,168.30 L184.75,168.30 L185.00,168.30 L185.25,168.30 L185.50,168.30 L185.75,168.30 L186.00,168.30 L186.25,168.30 L186.50,168.30 L186.75,168.30 L187.00,168.30 L187.25,168.30 L187.50,168.30 L187.75,168.30 L188.00,168.30 L188.25,168.30 L188.50,168.30 L188.75,168.30 L189.00,168.30 L189.25,168.30 L189.50,168.30 L189.75,168.30 L190.00,168.30 L190.25,168.30 L190.50,168.30 L190.75,168.30 L191.00,168.30 L191.25,168.30 L191.50,168.30 L191.75,168.30 L192.00,168.30 L192.25,168.30 L192.50,168.30 L192.75,168.30 L193.00,168.30 L193.25,168.30 L193.50,168.30 L193.75,168.30 L194.00,168.30 L194.25,168.30 L194.50,168.30 L194.75,168.30 L195.00,168.30 L195.25,168.30 L195.50,168.30 L195.75,168.30 L196.00,168.30 L196.25,168.30 L196.50,168.30 L196.75,168.30 L197.00,168.30 L197.25,168.30 L197.50,168.30" fill="none" stroke="#111" stroke-width="1.4"/>
</g>
<circle cx="131" cy="135" r="0.7" fill="#ee1c1c"/>
<line x1="122" y1="146.7" x2="139.3" y2="146.7" stroke="#111" stroke-width="1.2"/>
<text x="146.4" y="138.2" font-size="9.4" font-style="italic" font-family='"Liberation Sans", "DejaVu Sans", sans-serif' fill="#111">simulation</text>
<text x="146.8" y="150.0" font-size="9.4" font-style="italic" font-family='"Liberation Sans", "DejaVu Sans", sans-serif' fill="#111">fitting</text>
<text x="43.5" y="137.8" font-size="9.6" font-style="italic" font-family='"Liberation Sans", "DejaVu Sans", sans-serif' fill="#111">shock</text>
<line x1="43.5" y1="140.3" x2="72" y2="140.3" stroke="#111" stroke-width="1.1"/>
<path d="M76,140.3 L70.5,137.8 L70.5,142.8 Z" fill="#111"/>
<text x="44.2" y="184.2" font-size="10" font-family='"Liberation Sans", "DejaVu Sans", sans-serif' fill="#ee1c1c">6<tspan font-style="italic">ps</tspan></text>
<text x="75.2" y="190.2" font-size="10" font-family='"Liberation Sans", "DejaVu Sans", sans-serif' fill="#1a1ae8">8<tspan font-style="italic">ps</tspan></text>
<text x="84" y="155.8" font-size="10" font-family='"Liberation Sans", "DejaVu Sans", sans-serif' fill="#ee1c1c">10<tspan font-style="italic">ps</tspan></text>
<text x="121.7" y="190.5" font-size="10" font-family='"Liberation Sans", "DejaVu Sans", sans-serif' fill="#1a1ae8">13<tspan font-style="italic">ps</tspan></text>
<text x="152" y="184.2" font-size="10" font-family='"Liberation Sans", "DejaVu Sans", sans-serif' fill="#ee1c1c">16<tspan font-style="italic">ps</tspan></text>
<text x="34.3" y="209.2" font-size="9.6" font-family='"Liberation Sans", "DejaVu Sans", sans-serif' fill="#111">(<tspan font-style="italic">b</tspan>)</text>
<text transform="translate(24.80,217.91) scale(1,1.15)" text-anchor="end" font-size="7.8" font-family='"Liberation Sans", "DejaVu Sans", sans-serif' fill="#111" stroke="#111" stroke-width="0.22">0</text>
<text transform="translate(24.80,192.91) scale(1,1.15)" text-anchor="end" font-size="7.8" font-family='"Liberation Sans", "DejaVu Sans", sans-serif' fill="#111" stroke="#111" stroke-width="0.22">200</text>
<text transform="translate(24.80,167.81) scale(1,1.15)" text-anchor="end" font-size="7.8" font-family='"Liberation Sans", "DejaVu Sans", sans-serif' fill="#111" stroke="#111" stroke-width="0.22">400</text>
<text transform="translate(24.80,142.71) scale(1,1.15)" text-anchor="end" font-size="7.8" font-family='"Liberation Sans", "DejaVu Sans", sans-serif' fill="#111" stroke="#111" stroke-width="0.22">600</text>
<text transform="translate(43.87,228.03) scale(1,1.12)" text-anchor="middle" font-size="7.8" font-family='"Liberation Sans", "DejaVu Sans", sans-serif' fill="#111" stroke="#111" stroke-width="0.22">24</text>
<text transform="translate(74.61,228.03) scale(1,1.12)" text-anchor="middle" font-size="7.8" font-family='"Liberation Sans", "DejaVu Sans", sans-serif' fill="#111" stroke="#111" stroke-width="0.22">26</text>
<text transform="translate(105.35,228.03) scale(1,1.12)" text-anchor="middle" font-size="7.8" font-family='"Liberation Sans", "DejaVu Sans", sans-serif' fill="#111" stroke="#111" stroke-width="0.22">28</text>
<text transform="translate(136.09,228.03) scale(1,1.12)" text-anchor="middle" font-size="7.8" font-family='"Liberation Sans", "DejaVu Sans", sans-serif' fill="#111" stroke="#111" stroke-width="0.22">30</text>
<text transform="translate(166.83,228.03) scale(1,1.12)" text-anchor="middle" font-size="7.8" font-family='"Liberation Sans", "DejaVu Sans", sans-serif' fill="#111" stroke="#111" stroke-width="0.22">32</text>
<text transform="translate(197.57,228.03) scale(1,1.12)" text-anchor="middle" font-size="7.8" font-family='"Liberation Sans", "DejaVu Sans", sans-serif' fill="#111" stroke="#111" stroke-width="0.22">34</text>
<text x="99.7" y="238.3" font-size="9.2" font-family='"Liberation Sans", "DejaVu Sans", sans-serif' fill="#111"><tspan font-style="italic">x</tspan> (<tspan font-style="italic">μm</tspan>)</text>
<text transform="translate(8.6,169) rotate(-90)" text-anchor="middle" font-size="10.2" font-family='"Liberation Sans", "DejaVu Sans", sans-serif' fill="#111"><tspan font-style="italic">ρ</tspan> (<tspan font-style="italic">g/cm</tspan><tspan font-size="6" dy="-3.5">3</tspan><tspan dy="3.5">)</tspan></text>
<rect x="248.5" y="125.0" width="167.5" height="93.5" fill="#fff" stroke="#a8a8a8" stroke-width="1.2"/>
<defs><clipPath id="cd"><rect x="249" y="125.5" width="166.5" height="92.5"/></clipPath></defs>
<g clip-path="url(#cd)">
<line x1="309.4" y1="125" x2="309.4" y2="218.5" stroke="#333" stroke-width="0.7" stroke-dasharray="5 1.5 1 1.5"/>
<line x1="336.9" y1="125" x2="336.9" y2="218.5" stroke="#888" stroke-width="1.2" stroke-dasharray="5 1.5 1 1.5"/>
<path d="M248.40,176.00 L249.20,165.00 L250.30,148.00 L251.50,134.00 L252.50,129.00 L253.30,128.60 L254.00,131.00 L255.50,137.00 L256.50,141.50 L258.00,145.50 L260.00,147.00 L262.00,149.00 L263.50,148.20 L265.00,150.80 L267.00,151.50 L268.50,152.80 L270.00,152.20 L271.50,154.20 L273.00,155.50 L274.50,154.80 L276.00,157.00 L278.00,156.50 L280.00,158.00 L282.00,157.40 L283.00,158.80 L286.00,159.20 L288.00,160.00 L290.00,161.60 L292.00,159.60 L294.00,161.20 L295.50,163.60 L297.00,162.00 L299.00,161.60 L301.00,163.20 L303.00,162.00 L305.00,161.20 L307.00,162.60 L308.50,163.00 L309.10,170.00 L309.70,185.00 L310.30,195.00 L311.00,199.50 L312.50,201.80 L314.80,202.80 L318.00,202.20 L322.00,201.40 L326.00,200.60 L330.00,200.10 L334.00,200.40 L337.00,199.60 L340.00,196.00 L343.50,190.90 L346.00,181.00 L348.00,168.00 L350.20,155.40 L351.50,168.00 L352.50,185.00 L353.50,200.00 L355.00,209.00 L357.00,212.50 L360.00,213.50 L366.00,213.70 L380.00,213.80 L398.00,213.80 L416.00,213.70" fill="none" stroke="#111" stroke-width="1.7" stroke-dasharray="3.6 1.6"/>
<path d="M248.40,190.50 L250.00,195.00 L252.00,199.50 L255.00,198.60 L258.00,197.80 L260.00,197.56 L262.00,197.40 L264.00,197.25 L266.00,197.00 L268.00,197.28 L270.00,196.80 L271.67,196.67 L273.33,196.61 L275.00,196.50 L276.67,196.48 L278.33,196.02 L280.00,196.20 L281.67,196.11 L283.33,196.12 L285.00,195.90 L286.67,196.06 L288.33,195.33 L290.00,195.60 L291.67,195.39 L293.33,195.16 L295.00,195.50 L296.67,195.75 L298.33,195.61 L300.00,195.40 L301.67,195.02 L303.33,195.90 L305.00,195.50 L307.00,196.02 L309.00,195.70 L310.67,196.34 L312.33,196.80 L314.00,197.20 L316.00,197.33 L318.00,197.63 L320.00,198.50 L322.00,198.86 L324.00,198.77 L326.00,199.50 L328.00,199.49 L330.00,199.80 L332.00,200.30 L334.00,200.04 L336.00,200.60 L338.00,200.80 L340.00,201.85 L342.00,203.00 L346.00,207.50 L350.20,213.70 L352.00,205.00 L354.00,195.00 L355.50,187.00 L356.90,181.30 L359.70,179.40 L361.00,176.00 L362.60,168.00 L363.50,158.30 L364.50,163.00 L365.20,159.00 L366.00,166.00 L366.80,157.00 L368.00,153.00 L369.00,160.00 L370.00,150.50 L371.00,156.00 L372.20,143.00 L373.20,128.80 L376.00,128.60 L378.00,129.16 L380.00,129.10 L381.67,128.92 L383.33,128.83 L385.00,128.50 L386.67,128.67 L388.33,128.98 L390.00,129.00 L392.00,128.83 L394.00,128.53 L396.00,128.60 L398.00,129.18 L400.00,129.31 L402.00,129.00 L404.00,129.17 L406.00,128.92 L408.00,128.60 L409.60,128.49 L411.20,128.48 L412.80,128.59 L414.40,128.45 L416.00,128.90" fill="none" stroke="#1414e6" stroke-width="1.7" stroke-linejoin="round"/>
</g>
<line x1="416.2" y1="125" x2="416.2" y2="218.8" stroke="#1414d0" stroke-width="1.1"/>
<text x="419.8" y="165.0" font-size="8.8" font-family='"Liberation Sans", "DejaVu Sans", sans-serif' fill="#1414d0">10<tspan font-size="6.2" dy="-3.8">−1</tspan></text>
<text x="419.8" y="218.0" font-size="8.8" font-family='"Liberation Sans", "DejaVu Sans", sans-serif' fill="#1414d0">10<tspan font-size="6.2" dy="-3.8">−2</tspan></text>
<line x1="414" y1="161.7" x2="416.2" y2="161.7" stroke="#1414d0" stroke-width="0.8"/>
<text transform="translate(447.3,171.4) rotate(-90)" text-anchor="middle" font-size="8.4" font-family='"Liberation Sans", "DejaVu Sans", sans-serif' fill="#1414d0">Γ</text>
<line x1="375.7" y1="134.7" x2="397" y2="134.7" stroke="#1414e6" stroke-width="1.6"/>
<text x="402.6" y="138.4" font-size="9.4" font-family='"Liberation Sans", "DejaVu Sans", sans-serif' fill="#111">Γ</text>
<line x1="379" y1="205.7" x2="396.5" y2="205.7" stroke="#111" stroke-width="1.7" stroke-dasharray="3.8 2.2"/>
<text x="402.2" y="209.2" font-size="10.4" font-family='"Liberation Sans", "DejaVu Sans", sans-serif' fill="#111" font-style="italic">ζ</text>
<text x="261.3" y="209.6" font-size="10.2" font-family='"Liberation Sans", "DejaVu Sans", sans-serif' fill="#111">(<tspan font-style="italic">d</tspan>)</text>
<text transform="translate(245.20,217.60) scale(1,1.05)" text-anchor="end" font-size="8.1" font-family='"DejaVu Sans", "Liberation Sans", sans-serif' fill="#111" stroke="#111" stroke-width="0.22">0</text>
<text transform="translate(245.20,181.10) scale(1,1.05)" text-anchor="end" font-size="8.1" font-family='"DejaVu Sans", "Liberation Sans", sans-serif' fill="#111" stroke="#111" stroke-width="0.22">50</text>
<text transform="translate(245.20,144.20) scale(1,1.05)" text-anchor="end" font-size="8.1" font-family='"DejaVu Sans", "Liberation Sans", sans-serif' fill="#111" stroke="#111" stroke-width="0.22">100</text>
<text transform="translate(247.80,228.13) scale(1,1.12)" text-anchor="middle" font-size="7.8" font-family='"Liberation Sans", "DejaVu Sans", sans-serif' fill="#111" stroke="#111" stroke-width="0.22">20</text>
<text transform="translate(289.78,228.13) scale(1,1.12)" text-anchor="middle" font-size="7.8" font-family='"Liberation Sans", "DejaVu Sans", sans-serif' fill="#111" stroke="#111" stroke-width="0.22">25</text>
<text transform="translate(331.76,228.13) scale(1,1.12)" text-anchor="middle" font-size="7.8" font-family='"Liberation Sans", "DejaVu Sans", sans-serif' fill="#111" stroke="#111" stroke-width="0.22">30</text>
<text transform="translate(373.74,228.13) scale(1,1.12)" text-anchor="middle" font-size="7.8" font-family='"Liberation Sans", "DejaVu Sans", sans-serif' fill="#111" stroke="#111" stroke-width="0.22">35</text>
<text transform="translate(415.72,228.13) scale(1,1.12)" text-anchor="middle" font-size="7.8" font-family='"Liberation Sans", "DejaVu Sans", sans-serif' fill="#111" stroke="#111" stroke-width="0.22">40</text>
<text x="319.6" y="237.9" font-size="9.1" font-family='"Liberation Sans", "DejaVu Sans", sans-serif' fill="#111">x (<tspan font-style="italic">μm</tspan>)</text>
<text transform="translate(224.4,170.4) rotate(-90)" text-anchor="middle" font-size="9.8" font-family='"DejaVu Sans", "Liberation Sans", sans-serif' fill="#222"><tspan font-style="italic">ζ</tspan> (cm<tspan font-size="6.5" dy="-3.8">2</tspan><tspan dy="3.8">/s)</tspan></text></svg></body></html>
